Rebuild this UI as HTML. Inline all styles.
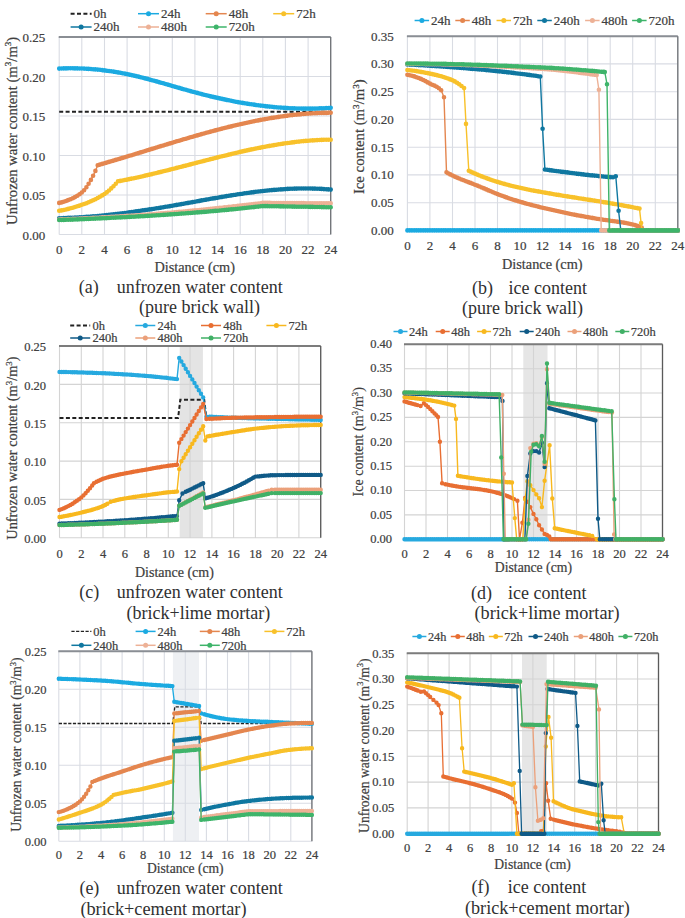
<!DOCTYPE html>
<html><head><meta charset="utf-8"><style>html,body{margin:0;padding:0;background:#fff;}svg{display:block;}</style></head>
<body><svg width="685" height="918" viewBox="0 0 685 918" font-family="Liberation Serif">
<rect width="685" height="918" fill="#fff"/>
<g id="panel-a">
<path d="M59.2 37.0V234.5M81.8 37.0V234.5M104.5 37.0V234.5M127.1 37.0V234.5M149.7 37.0V234.5M172.3 37.0V234.5M194.9 37.0V234.5M217.6 37.0V234.5M240.2 37.0V234.5M262.8 37.0V234.5M285.4 37.0V234.5M308.1 37.0V234.5M330.7 37.0V234.5M59.2 234.5H330.7M59.2 195.0H330.7M59.2 155.5H330.7M59.2 116.0H330.7M59.2 76.5H330.7M59.2 37.0H330.7" stroke="#D9DCE3" stroke-width="1.1" fill="none"/>
<path d="M58.7 37.0H330.7" stroke="#8A8E94" stroke-width="1.9" fill="none"/>
<path d="M330.7 37.0V234.5" stroke="#6E7175" stroke-width="1.3" fill="none"/>
<path d="M59.2 111.7 330.7 111.7" stroke="#222222" stroke-width="2.0" stroke-dasharray="4,2.4" fill="none"/>
<path d="M59.2 68.6 61.5 68.5 63.7 68.4 66.0 68.4 68.2 68.3 70.5 68.3 72.8 68.3 75.0 68.4 77.3 68.4 79.6 68.5 81.8 68.5 84.1 68.6 86.4 68.7 88.6 68.9 90.9 69.0 93.1 69.2 95.4 69.4 97.7 69.6 99.9 69.8 102.2 70.1 104.5 70.4 106.7 70.7 109.0 71.0 111.2 71.3 113.5 71.6 115.8 72.0 118.0 72.4 120.3 72.8 122.5 73.2 124.8 73.6 127.1 74.1 129.3 74.6 131.6 75.1 133.9 75.6 136.1 76.1 138.4 76.6 140.7 77.2 142.9 77.8 145.2 78.4 147.4 78.9 149.7 79.6 152.0 80.2 154.2 80.8 156.5 81.4 158.8 82.1 161.0 82.7 163.3 83.3 165.5 84.0 167.8 84.6 170.1 85.3 172.3 86.0 174.6 86.6 176.8 87.3 179.1 87.9 181.4 88.6 183.6 89.2 185.9 89.8 188.2 90.5 190.4 91.1 192.7 91.7 194.9 92.3 197.2 92.9 199.5 93.5 201.7 94.1 204.0 94.7 206.3 95.3 208.5 95.8 210.8 96.4 213.1 96.9 215.3 97.4 217.6 97.9 219.8 98.4 222.1 98.9 224.4 99.4 226.6 99.9 228.9 100.3 231.2 100.8 233.4 101.2 235.7 101.7 237.9 102.1 240.2 102.5 242.5 102.9 244.7 103.2 247.0 103.6 249.2 104.0 251.5 104.3 253.8 104.6 256.0 105.0 258.3 105.3 260.6 105.6 262.8 105.8 265.1 106.1 267.3 106.4 269.6 106.6 271.9 106.8 274.1 107.1 276.4 107.3 278.7 107.5 280.9 107.6 283.2 107.8 285.4 107.9 287.7 108.1 290.0 108.2 292.2 108.3 294.5 108.4 296.8 108.5 299.0 108.5 301.3 108.6 303.6 108.6 305.8 108.6 308.1 108.6 310.3 108.6 312.6 108.6 314.9 108.6 317.1 108.5 319.4 108.4 321.6 108.4 323.9 108.3 326.2 108.1 328.4 108.0 330.7 107.8" stroke="#1BAAE1" stroke-width="1.4" fill="none" stroke-linejoin="round"/>
<path d="M59.2 68.6h0M61.5 68.5h0M63.7 68.4h0M66.0 68.4h0M68.2 68.3h0M70.5 68.3h0M72.8 68.3h0M75.0 68.4h0M77.3 68.4h0M79.6 68.5h0M81.8 68.5h0M84.1 68.6h0M86.4 68.7h0M88.6 68.9h0M90.9 69.0h0M93.1 69.2h0M95.4 69.4h0M97.7 69.6h0M99.9 69.8h0M102.2 70.1h0M104.5 70.4h0M106.7 70.7h0M109.0 71.0h0M111.2 71.3h0M113.5 71.6h0M115.8 72.0h0M118.0 72.4h0M120.3 72.8h0M122.5 73.2h0M124.8 73.6h0M127.1 74.1h0M129.3 74.6h0M131.6 75.1h0M133.9 75.6h0M136.1 76.1h0M138.4 76.6h0M140.7 77.2h0M142.9 77.8h0M145.2 78.4h0M147.4 78.9h0M149.7 79.6h0M152.0 80.2h0M154.2 80.8h0M156.5 81.4h0M158.8 82.1h0M161.0 82.7h0M163.3 83.3h0M165.5 84.0h0M167.8 84.6h0M170.1 85.3h0M172.3 86.0h0M174.6 86.6h0M176.8 87.3h0M179.1 87.9h0M181.4 88.6h0M183.6 89.2h0M185.9 89.8h0M188.2 90.5h0M190.4 91.1h0M192.7 91.7h0M194.9 92.3h0M197.2 92.9h0M199.5 93.5h0M201.7 94.1h0M204.0 94.7h0M206.3 95.3h0M208.5 95.8h0M210.8 96.4h0M213.1 96.9h0M215.3 97.4h0M217.6 97.9h0M219.8 98.4h0M222.1 98.9h0M224.4 99.4h0M226.6 99.9h0M228.9 100.3h0M231.2 100.8h0M233.4 101.2h0M235.7 101.7h0M237.9 102.1h0M240.2 102.5h0M242.5 102.9h0M244.7 103.2h0M247.0 103.6h0M249.2 104.0h0M251.5 104.3h0M253.8 104.6h0M256.0 105.0h0M258.3 105.3h0M260.6 105.6h0M262.8 105.8h0M265.1 106.1h0M267.3 106.4h0M269.6 106.6h0M271.9 106.8h0M274.1 107.1h0M276.4 107.3h0M278.7 107.5h0M280.9 107.6h0M283.2 107.8h0M285.4 107.9h0M287.7 108.1h0M290.0 108.2h0M292.2 108.3h0M294.5 108.4h0M296.8 108.5h0M299.0 108.5h0M301.3 108.6h0M303.6 108.6h0M305.8 108.6h0M308.1 108.6h0M310.3 108.6h0M312.6 108.6h0M314.9 108.6h0M317.1 108.5h0M319.4 108.4h0M321.6 108.4h0M323.9 108.3h0M326.2 108.1h0M328.4 108.0h0M330.7 107.8h0" stroke="#1BAAE1" stroke-width="4.6" stroke-linecap="round" fill="none"/>
<path d="M59.2 202.9 61.5 202.4 63.7 201.7 66.0 201.0 68.2 200.1 70.5 199.2 72.8 198.2 75.0 197.1 77.3 195.8 79.6 194.2 81.8 192.5 84.1 190.2 86.4 187.3 88.6 183.8 90.9 179.9 93.1 175.8 95.4 170.9 97.7 165.2 99.9 164.6 102.2 163.9 104.5 163.3 106.7 162.6 109.0 161.9 111.2 161.3 113.5 160.6 115.8 159.9 118.0 159.3 120.3 158.6 122.5 157.9 124.8 157.2 127.1 156.5 129.3 155.8 131.6 155.2 133.9 154.5 136.1 153.8 138.4 153.1 140.7 152.4 142.9 151.7 145.2 151.0 147.4 150.3 149.7 149.6 152.0 148.9 154.2 148.2 156.5 147.5 158.8 146.8 161.0 146.1 163.3 145.5 165.5 144.8 167.8 144.1 170.1 143.4 172.3 142.7 174.6 142.0 176.8 141.3 179.1 140.7 181.4 140.0 183.6 139.3 185.9 138.7 188.2 138.0 190.4 137.3 192.7 136.7 194.9 136.0 197.2 135.4 199.5 134.7 201.7 134.1 204.0 133.5 206.3 132.8 208.5 132.2 210.8 131.6 213.1 131.0 215.3 130.4 217.6 129.8 219.8 129.2 222.1 128.6 224.4 128.0 226.6 127.5 228.9 126.9 231.2 126.4 233.4 125.8 235.7 125.3 237.9 124.7 240.2 124.2 242.5 123.7 244.7 123.2 247.0 122.7 249.2 122.2 251.5 121.7 253.8 121.3 256.0 120.8 258.3 120.4 260.6 119.9 262.8 119.5 265.1 119.1 267.3 118.7 269.6 118.3 271.9 117.9 274.1 117.6 276.4 117.2 278.7 116.9 280.9 116.5 283.2 116.2 285.4 115.9 287.7 115.6 290.0 115.3 292.2 115.1 294.5 114.8 296.8 114.6 299.0 114.4 301.3 114.1 303.6 114.0 305.8 113.8 308.1 113.6 310.3 113.5 312.6 113.3 314.9 113.2 317.1 113.1 319.4 113.0 321.6 112.9 323.9 112.9 326.2 112.9 328.4 112.8 330.7 112.8" stroke="#E4864F" stroke-width="1.4" fill="none" stroke-linejoin="round"/>
<path d="M59.2 202.9h0M61.5 202.4h0M63.7 201.7h0M66.0 201.0h0M68.2 200.1h0M70.5 199.2h0M72.8 198.2h0M75.0 197.1h0M77.3 195.8h0M79.6 194.2h0M81.8 192.5h0M84.1 190.2h0M86.4 187.3h0M88.6 183.8h0M90.9 179.9h0M93.1 175.8h0M95.4 170.9h0M97.7 165.2h0M99.9 164.6h0M102.2 163.9h0M104.5 163.3h0M106.7 162.6h0M109.0 161.9h0M111.2 161.3h0M113.5 160.6h0M115.8 159.9h0M118.0 159.3h0M120.3 158.6h0M122.5 157.9h0M124.8 157.2h0M127.1 156.5h0M129.3 155.8h0M131.6 155.2h0M133.9 154.5h0M136.1 153.8h0M138.4 153.1h0M140.7 152.4h0M142.9 151.7h0M145.2 151.0h0M147.4 150.3h0M149.7 149.6h0M152.0 148.9h0M154.2 148.2h0M156.5 147.5h0M158.8 146.8h0M161.0 146.1h0M163.3 145.5h0M165.5 144.8h0M167.8 144.1h0M170.1 143.4h0M172.3 142.7h0M174.6 142.0h0M176.8 141.3h0M179.1 140.7h0M181.4 140.0h0M183.6 139.3h0M185.9 138.7h0M188.2 138.0h0M190.4 137.3h0M192.7 136.7h0M194.9 136.0h0M197.2 135.4h0M199.5 134.7h0M201.7 134.1h0M204.0 133.5h0M206.3 132.8h0M208.5 132.2h0M210.8 131.6h0M213.1 131.0h0M215.3 130.4h0M217.6 129.8h0M219.8 129.2h0M222.1 128.6h0M224.4 128.0h0M226.6 127.5h0M228.9 126.9h0M231.2 126.4h0M233.4 125.8h0M235.7 125.3h0M237.9 124.7h0M240.2 124.2h0M242.5 123.7h0M244.7 123.2h0M247.0 122.7h0M249.2 122.2h0M251.5 121.7h0M253.8 121.3h0M256.0 120.8h0M258.3 120.4h0M260.6 119.9h0M262.8 119.5h0M265.1 119.1h0M267.3 118.7h0M269.6 118.3h0M271.9 117.9h0M274.1 117.6h0M276.4 117.2h0M278.7 116.9h0M280.9 116.5h0M283.2 116.2h0M285.4 115.9h0M287.7 115.6h0M290.0 115.3h0M292.2 115.1h0M294.5 114.8h0M296.8 114.6h0M299.0 114.4h0M301.3 114.1h0M303.6 114.0h0M305.8 113.8h0M308.1 113.6h0M310.3 113.5h0M312.6 113.3h0M314.9 113.2h0M317.1 113.1h0M319.4 113.0h0M321.6 112.9h0M323.9 112.9h0M326.2 112.9h0M328.4 112.8h0M330.7 112.8h0" stroke="#E4864F" stroke-width="4.6" stroke-linecap="round" fill="none"/>
<path d="M59.2 210.8 61.5 210.4 63.7 210.0 66.0 209.5 68.2 208.9 70.5 208.3 72.8 207.7 75.0 207.0 77.3 206.3 79.6 205.6 81.8 204.8 84.1 204.0 86.4 203.2 88.6 202.2 90.9 201.3 93.1 200.3 95.4 199.2 97.7 198.0 99.9 196.7 102.2 195.4 104.5 194.0 106.7 192.4 109.0 190.5 111.2 188.4 113.5 186.2 115.8 183.8 118.0 181.3 120.3 180.9 122.5 180.5 124.8 180.0 127.1 179.6 129.3 179.1 131.6 178.6 133.9 178.2 136.1 177.7 138.4 177.2 140.7 176.7 142.9 176.2 145.2 175.6 147.4 175.1 149.7 174.6 152.0 174.1 154.2 173.5 156.5 173.0 158.8 172.4 161.0 171.9 163.3 171.3 165.5 170.8 167.8 170.2 170.1 169.6 172.3 169.0 174.6 168.5 176.8 167.9 179.1 167.3 181.4 166.7 183.6 166.1 185.9 165.6 188.2 165.0 190.4 164.4 192.7 163.8 194.9 163.2 197.2 162.6 199.5 162.0 201.7 161.5 204.0 160.9 206.3 160.3 208.5 159.7 210.8 159.1 213.1 158.6 215.3 158.0 217.6 157.4 219.8 156.8 222.1 156.3 224.4 155.7 226.6 155.2 228.9 154.6 231.2 154.1 233.4 153.5 235.7 153.0 237.9 152.5 240.2 151.9 242.5 151.4 244.7 150.9 247.0 150.4 249.2 149.9 251.5 149.4 253.8 149.0 256.0 148.5 258.3 148.0 260.6 147.6 262.8 147.1 265.1 146.7 267.3 146.3 269.6 145.9 271.9 145.5 274.1 145.1 276.4 144.7 278.7 144.3 280.9 144.0 283.2 143.6 285.4 143.3 287.7 143.0 290.0 142.7 292.2 142.4 294.5 142.1 296.8 141.8 299.0 141.6 301.3 141.3 303.6 141.1 305.8 140.9 308.1 140.7 310.3 140.5 312.6 140.4 314.9 140.2 317.1 140.1 319.4 140.0 321.6 139.9 323.9 139.8 326.2 139.7 328.4 139.7 330.7 139.7" stroke="#F8C12A" stroke-width="1.4" fill="none" stroke-linejoin="round"/>
<path d="M59.2 210.8h0M61.5 210.4h0M63.7 210.0h0M66.0 209.5h0M68.2 208.9h0M70.5 208.3h0M72.8 207.7h0M75.0 207.0h0M77.3 206.3h0M79.6 205.6h0M81.8 204.8h0M84.1 204.0h0M86.4 203.2h0M88.6 202.2h0M90.9 201.3h0M93.1 200.3h0M95.4 199.2h0M97.7 198.0h0M99.9 196.7h0M102.2 195.4h0M104.5 194.0h0M106.7 192.4h0M109.0 190.5h0M111.2 188.4h0M113.5 186.2h0M115.8 183.8h0M118.0 181.3h0M120.3 180.9h0M122.5 180.5h0M124.8 180.0h0M127.1 179.6h0M129.3 179.1h0M131.6 178.6h0M133.9 178.2h0M136.1 177.7h0M138.4 177.2h0M140.7 176.7h0M142.9 176.2h0M145.2 175.6h0M147.4 175.1h0M149.7 174.6h0M152.0 174.1h0M154.2 173.5h0M156.5 173.0h0M158.8 172.4h0M161.0 171.9h0M163.3 171.3h0M165.5 170.8h0M167.8 170.2h0M170.1 169.6h0M172.3 169.0h0M174.6 168.5h0M176.8 167.9h0M179.1 167.3h0M181.4 166.7h0M183.6 166.1h0M185.9 165.6h0M188.2 165.0h0M190.4 164.4h0M192.7 163.8h0M194.9 163.2h0M197.2 162.6h0M199.5 162.0h0M201.7 161.5h0M204.0 160.9h0M206.3 160.3h0M208.5 159.7h0M210.8 159.1h0M213.1 158.6h0M215.3 158.0h0M217.6 157.4h0M219.8 156.8h0M222.1 156.3h0M224.4 155.7h0M226.6 155.2h0M228.9 154.6h0M231.2 154.1h0M233.4 153.5h0M235.7 153.0h0M237.9 152.5h0M240.2 151.9h0M242.5 151.4h0M244.7 150.9h0M247.0 150.4h0M249.2 149.9h0M251.5 149.4h0M253.8 149.0h0M256.0 148.5h0M258.3 148.0h0M260.6 147.6h0M262.8 147.1h0M265.1 146.7h0M267.3 146.3h0M269.6 145.9h0M271.9 145.5h0M274.1 145.1h0M276.4 144.7h0M278.7 144.3h0M280.9 144.0h0M283.2 143.6h0M285.4 143.3h0M287.7 143.0h0M290.0 142.7h0M292.2 142.4h0M294.5 142.1h0M296.8 141.8h0M299.0 141.6h0M301.3 141.3h0M303.6 141.1h0M305.8 140.9h0M308.1 140.7h0M310.3 140.5h0M312.6 140.4h0M314.9 140.2h0M317.1 140.1h0M319.4 140.0h0M321.6 139.9h0M323.9 139.8h0M326.2 139.7h0M328.4 139.7h0M330.7 139.7h0" stroke="#F8C12A" stroke-width="4.6" stroke-linecap="round" fill="none"/>
<path d="M59.2 218.2 61.5 218.2 63.7 218.1 66.0 218.0 68.2 217.9 70.5 217.9 72.8 217.7 75.0 217.6 77.3 217.5 79.6 217.4 81.8 217.2 84.1 217.1 86.4 216.9 88.6 216.8 90.9 216.6 93.1 216.4 95.4 216.2 97.7 216.0 99.9 215.8 102.2 215.6 104.5 215.3 106.7 215.1 109.0 214.9 111.2 214.6 113.5 214.4 115.8 214.1 118.0 213.8 120.3 213.6 122.5 213.3 124.8 213.0 127.1 212.7 129.3 212.4 131.6 212.1 133.9 211.8 136.1 211.4 138.4 211.1 140.7 210.8 142.9 210.4 145.2 210.1 147.4 209.8 149.7 209.4 152.0 209.1 154.2 208.7 156.5 208.3 158.8 208.0 161.0 207.6 163.3 207.2 165.5 206.8 167.8 206.5 170.1 206.1 172.3 205.7 174.6 205.3 176.8 204.9 179.1 204.5 181.4 204.1 183.6 203.7 185.9 203.3 188.2 202.9 190.4 202.5 192.7 202.1 194.9 201.7 197.2 201.3 199.5 200.9 201.7 200.4 204.0 200.0 206.3 199.6 208.5 199.2 210.8 198.8 213.1 198.4 215.3 198.1 217.6 197.7 219.8 197.3 222.1 196.9 224.4 196.5 226.6 196.1 228.9 195.8 231.2 195.4 233.4 195.0 235.7 194.7 237.9 194.3 240.2 194.0 242.5 193.7 244.7 193.3 247.0 193.0 249.2 192.7 251.5 192.4 253.8 192.1 256.0 191.8 258.3 191.5 260.6 191.3 262.8 191.0 265.1 190.8 267.3 190.5 269.6 190.3 271.9 190.1 274.1 189.9 276.4 189.7 278.7 189.5 280.9 189.4 283.2 189.2 285.4 189.1 287.7 188.9 290.0 188.8 292.2 188.7 294.5 188.6 296.8 188.6 299.0 188.5 301.3 188.5 303.6 188.5 305.8 188.5 308.1 188.5 310.3 188.5 312.6 188.6 314.9 188.6 317.1 188.7 319.4 188.8 321.6 188.9 323.9 189.1 326.2 189.2 328.4 189.4 330.7 189.6" stroke="#0F77A0" stroke-width="1.4" fill="none" stroke-linejoin="round"/>
<path d="M59.2 218.2h0M61.5 218.2h0M63.7 218.1h0M66.0 218.0h0M68.2 217.9h0M70.5 217.9h0M72.8 217.7h0M75.0 217.6h0M77.3 217.5h0M79.6 217.4h0M81.8 217.2h0M84.1 217.1h0M86.4 216.9h0M88.6 216.8h0M90.9 216.6h0M93.1 216.4h0M95.4 216.2h0M97.7 216.0h0M99.9 215.8h0M102.2 215.6h0M104.5 215.3h0M106.7 215.1h0M109.0 214.9h0M111.2 214.6h0M113.5 214.4h0M115.8 214.1h0M118.0 213.8h0M120.3 213.6h0M122.5 213.3h0M124.8 213.0h0M127.1 212.7h0M129.3 212.4h0M131.6 212.1h0M133.9 211.8h0M136.1 211.4h0M138.4 211.1h0M140.7 210.8h0M142.9 210.4h0M145.2 210.1h0M147.4 209.8h0M149.7 209.4h0M152.0 209.1h0M154.2 208.7h0M156.5 208.3h0M158.8 208.0h0M161.0 207.6h0M163.3 207.2h0M165.5 206.8h0M167.8 206.5h0M170.1 206.1h0M172.3 205.7h0M174.6 205.3h0M176.8 204.9h0M179.1 204.5h0M181.4 204.1h0M183.6 203.7h0M185.9 203.3h0M188.2 202.9h0M190.4 202.5h0M192.7 202.1h0M194.9 201.7h0M197.2 201.3h0M199.5 200.9h0M201.7 200.4h0M204.0 200.0h0M206.3 199.6h0M208.5 199.2h0M210.8 198.8h0M213.1 198.4h0M215.3 198.1h0M217.6 197.7h0M219.8 197.3h0M222.1 196.9h0M224.4 196.5h0M226.6 196.1h0M228.9 195.8h0M231.2 195.4h0M233.4 195.0h0M235.7 194.7h0M237.9 194.3h0M240.2 194.0h0M242.5 193.7h0M244.7 193.3h0M247.0 193.0h0M249.2 192.7h0M251.5 192.4h0M253.8 192.1h0M256.0 191.8h0M258.3 191.5h0M260.6 191.3h0M262.8 191.0h0M265.1 190.8h0M267.3 190.5h0M269.6 190.3h0M271.9 190.1h0M274.1 189.9h0M276.4 189.7h0M278.7 189.5h0M280.9 189.4h0M283.2 189.2h0M285.4 189.1h0M287.7 188.9h0M290.0 188.8h0M292.2 188.7h0M294.5 188.6h0M296.8 188.6h0M299.0 188.5h0M301.3 188.5h0M303.6 188.5h0M305.8 188.5h0M308.1 188.5h0M310.3 188.5h0M312.6 188.6h0M314.9 188.6h0M317.1 188.7h0M319.4 188.8h0M321.6 188.9h0M323.9 189.1h0M326.2 189.2h0M328.4 189.4h0M330.7 189.6h0" stroke="#0F77A0" stroke-width="4.6" stroke-linecap="round" fill="none"/>
<path d="M59.2 219.5 61.5 219.4 63.7 219.3 66.0 219.2 68.2 219.1 70.5 219.0 72.8 218.9 75.0 218.8 77.3 218.7 79.6 218.6 81.8 218.5 84.1 218.4 86.4 218.3 88.6 218.2 90.9 218.1 93.1 217.9 95.4 217.8 97.7 217.7 99.9 217.6 102.2 217.4 104.5 217.3 106.7 217.2 109.0 217.0 111.2 216.9 113.5 216.8 115.8 216.6 118.0 216.5 120.3 216.4 122.5 216.2 124.8 216.1 127.1 215.9 129.3 215.8 131.6 215.6 133.9 215.5 136.1 215.3 138.4 215.2 140.7 215.0 142.9 214.8 145.2 214.7 147.4 214.5 149.7 214.3 152.0 214.2 154.2 214.0 156.5 213.8 158.8 213.6 161.0 213.4 163.3 213.2 165.5 213.0 167.8 212.9 170.1 212.7 172.3 212.5 174.6 212.3 176.8 212.1 179.1 211.9 181.4 211.7 183.6 211.5 185.9 211.2 188.2 211.0 190.4 210.8 192.7 210.6 194.9 210.4 197.2 210.2 199.5 210.0 201.7 209.8 204.0 209.5 206.3 209.3 208.5 209.1 210.8 208.9 213.1 208.6 215.3 208.4 217.6 208.1 219.8 207.9 222.1 207.7 224.4 207.4 226.6 207.2 228.9 206.9 231.2 206.7 233.4 206.4 235.7 206.2 237.9 205.9 240.2 205.6 242.5 205.4 244.7 205.1 247.0 204.8 249.2 204.6 251.5 204.3 253.8 204.0 256.0 203.7 258.3 203.5 260.6 203.2 262.8 202.9 265.1 202.9 267.3 202.9 269.6 202.9 271.9 203.0 274.1 203.0 276.4 203.0 278.7 203.0 280.9 203.0 283.2 203.0 285.4 203.0 287.7 203.0 290.0 203.1 292.2 203.1 294.5 203.1 296.8 203.1 299.0 203.1 301.3 203.1 303.6 203.1 305.8 203.2 308.1 203.2 310.3 203.2 312.6 203.2 314.9 203.2 317.1 203.2 319.4 203.2 321.6 203.2 323.9 203.3 326.2 203.3 328.4 203.3 330.7 203.3" stroke="#EDB196" stroke-width="1.4" fill="none" stroke-linejoin="round"/>
<path d="M59.2 219.5h0M61.5 219.4h0M63.7 219.3h0M66.0 219.2h0M68.2 219.1h0M70.5 219.0h0M72.8 218.9h0M75.0 218.8h0M77.3 218.7h0M79.6 218.6h0M81.8 218.5h0M84.1 218.4h0M86.4 218.3h0M88.6 218.2h0M90.9 218.1h0M93.1 217.9h0M95.4 217.8h0M97.7 217.7h0M99.9 217.6h0M102.2 217.4h0M104.5 217.3h0M106.7 217.2h0M109.0 217.0h0M111.2 216.9h0M113.5 216.8h0M115.8 216.6h0M118.0 216.5h0M120.3 216.4h0M122.5 216.2h0M124.8 216.1h0M127.1 215.9h0M129.3 215.8h0M131.6 215.6h0M133.9 215.5h0M136.1 215.3h0M138.4 215.2h0M140.7 215.0h0M142.9 214.8h0M145.2 214.7h0M147.4 214.5h0M149.7 214.3h0M152.0 214.2h0M154.2 214.0h0M156.5 213.8h0M158.8 213.6h0M161.0 213.4h0M163.3 213.2h0M165.5 213.0h0M167.8 212.9h0M170.1 212.7h0M172.3 212.5h0M174.6 212.3h0M176.8 212.1h0M179.1 211.9h0M181.4 211.7h0M183.6 211.5h0M185.9 211.2h0M188.2 211.0h0M190.4 210.8h0M192.7 210.6h0M194.9 210.4h0M197.2 210.2h0M199.5 210.0h0M201.7 209.8h0M204.0 209.5h0M206.3 209.3h0M208.5 209.1h0M210.8 208.9h0M213.1 208.6h0M215.3 208.4h0M217.6 208.1h0M219.8 207.9h0M222.1 207.7h0M224.4 207.4h0M226.6 207.2h0M228.9 206.9h0M231.2 206.7h0M233.4 206.4h0M235.7 206.2h0M237.9 205.9h0M240.2 205.6h0M242.5 205.4h0M244.7 205.1h0M247.0 204.8h0M249.2 204.6h0M251.5 204.3h0M253.8 204.0h0M256.0 203.7h0M258.3 203.5h0M260.6 203.2h0M262.8 202.9h0M265.1 202.9h0M267.3 202.9h0M269.6 202.9h0M271.9 203.0h0M274.1 203.0h0M276.4 203.0h0M278.7 203.0h0M280.9 203.0h0M283.2 203.0h0M285.4 203.0h0M287.7 203.0h0M290.0 203.1h0M292.2 203.1h0M294.5 203.1h0M296.8 203.1h0M299.0 203.1h0M301.3 203.1h0M303.6 203.1h0M305.8 203.2h0M308.1 203.2h0M310.3 203.2h0M312.6 203.2h0M314.9 203.2h0M317.1 203.2h0M319.4 203.2h0M321.6 203.2h0M323.9 203.3h0M326.2 203.3h0M328.4 203.3h0M330.7 203.3h0" stroke="#EDB196" stroke-width="4.6" stroke-linecap="round" fill="none"/>
<path d="M59.2 220.0 61.5 220.0 63.7 219.9 66.0 219.8 68.2 219.7 70.5 219.6 72.8 219.6 75.0 219.5 77.3 219.4 79.6 219.3 81.8 219.2 84.1 219.1 86.4 219.0 88.6 218.9 90.9 218.8 93.1 218.7 95.4 218.6 97.7 218.5 99.9 218.4 102.2 218.3 104.5 218.2 106.7 218.1 109.0 218.0 111.2 217.8 113.5 217.7 115.8 217.6 118.0 217.5 120.3 217.4 122.5 217.3 124.8 217.2 127.1 217.0 129.3 216.9 131.6 216.8 133.9 216.7 136.1 216.5 138.4 216.4 140.7 216.3 142.9 216.2 145.2 216.0 147.4 215.9 149.7 215.8 152.0 215.6 154.2 215.5 156.5 215.3 158.8 215.2 161.0 215.0 163.3 214.9 165.5 214.7 167.8 214.6 170.1 214.4 172.3 214.3 174.6 214.1 176.8 214.0 179.1 213.8 181.4 213.6 183.6 213.5 185.9 213.3 188.2 213.1 190.4 213.0 192.7 212.8 194.9 212.6 197.2 212.4 199.5 212.3 201.7 212.1 204.0 211.9 206.3 211.7 208.5 211.5 210.8 211.3 213.1 211.1 215.3 210.9 217.6 210.7 219.8 210.5 222.1 210.3 224.4 210.1 226.6 209.9 228.9 209.6 231.2 209.4 233.4 209.2 235.7 209.0 237.9 208.7 240.2 208.5 242.5 208.3 244.7 208.0 247.0 207.8 249.2 207.5 251.5 207.3 253.8 207.1 256.0 206.8 258.3 206.6 260.6 206.3 262.8 206.1 265.1 206.1 267.3 206.1 269.6 206.2 271.9 206.2 274.1 206.3 276.4 206.3 278.7 206.3 280.9 206.4 283.2 206.4 285.4 206.5 287.7 206.5 290.0 206.5 292.2 206.6 294.5 206.6 296.8 206.7 299.0 206.7 301.3 206.7 303.6 206.8 305.8 206.8 308.1 206.8 310.3 206.9 312.6 206.9 314.9 207.0 317.1 207.0 319.4 207.0 321.6 207.1 323.9 207.1 326.2 207.2 328.4 207.2 330.7 207.2" stroke="#3EB46A" stroke-width="1.4" fill="none" stroke-linejoin="round"/>
<path d="M59.2 220.0h0M61.5 220.0h0M63.7 219.9h0M66.0 219.8h0M68.2 219.7h0M70.5 219.6h0M72.8 219.6h0M75.0 219.5h0M77.3 219.4h0M79.6 219.3h0M81.8 219.2h0M84.1 219.1h0M86.4 219.0h0M88.6 218.9h0M90.9 218.8h0M93.1 218.7h0M95.4 218.6h0M97.7 218.5h0M99.9 218.4h0M102.2 218.3h0M104.5 218.2h0M106.7 218.1h0M109.0 218.0h0M111.2 217.8h0M113.5 217.7h0M115.8 217.6h0M118.0 217.5h0M120.3 217.4h0M122.5 217.3h0M124.8 217.2h0M127.1 217.0h0M129.3 216.9h0M131.6 216.8h0M133.9 216.7h0M136.1 216.5h0M138.4 216.4h0M140.7 216.3h0M142.9 216.2h0M145.2 216.0h0M147.4 215.9h0M149.7 215.8h0M152.0 215.6h0M154.2 215.5h0M156.5 215.3h0M158.8 215.2h0M161.0 215.0h0M163.3 214.9h0M165.5 214.7h0M167.8 214.6h0M170.1 214.4h0M172.3 214.3h0M174.6 214.1h0M176.8 214.0h0M179.1 213.8h0M181.4 213.6h0M183.6 213.5h0M185.9 213.3h0M188.2 213.1h0M190.4 213.0h0M192.7 212.8h0M194.9 212.6h0M197.2 212.4h0M199.5 212.3h0M201.7 212.1h0M204.0 211.9h0M206.3 211.7h0M208.5 211.5h0M210.8 211.3h0M213.1 211.1h0M215.3 210.9h0M217.6 210.7h0M219.8 210.5h0M222.1 210.3h0M224.4 210.1h0M226.6 209.9h0M228.9 209.6h0M231.2 209.4h0M233.4 209.2h0M235.7 209.0h0M237.9 208.7h0M240.2 208.5h0M242.5 208.3h0M244.7 208.0h0M247.0 207.8h0M249.2 207.5h0M251.5 207.3h0M253.8 207.1h0M256.0 206.8h0M258.3 206.6h0M260.6 206.3h0M262.8 206.1h0M265.1 206.1h0M267.3 206.1h0M269.6 206.2h0M271.9 206.2h0M274.1 206.3h0M276.4 206.3h0M278.7 206.3h0M280.9 206.4h0M283.2 206.4h0M285.4 206.5h0M287.7 206.5h0M290.0 206.5h0M292.2 206.6h0M294.5 206.6h0M296.8 206.7h0M299.0 206.7h0M301.3 206.7h0M303.6 206.8h0M305.8 206.8h0M308.1 206.8h0M310.3 206.9h0M312.6 206.9h0M314.9 207.0h0M317.1 207.0h0M319.4 207.0h0M321.6 207.1h0M323.9 207.1h0M326.2 207.2h0M328.4 207.2h0M330.7 207.2h0" stroke="#3EB46A" stroke-width="4.6" stroke-linecap="round" fill="none"/>
<text x="45.2" y="239.5" font-size="13" text-anchor="end" fill="#404040" stroke="#404040" stroke-width="0.22">0.00</text>
<text x="45.2" y="200.0" font-size="13" text-anchor="end" fill="#404040" stroke="#404040" stroke-width="0.22">0.05</text>
<text x="45.2" y="160.5" font-size="13" text-anchor="end" fill="#404040" stroke="#404040" stroke-width="0.22">0.10</text>
<text x="45.2" y="121.0" font-size="13" text-anchor="end" fill="#404040" stroke="#404040" stroke-width="0.22">0.15</text>
<text x="45.2" y="81.5" font-size="13" text-anchor="end" fill="#404040" stroke="#404040" stroke-width="0.22">0.20</text>
<text x="45.2" y="42.0" font-size="13" text-anchor="end" fill="#404040" stroke="#404040" stroke-width="0.22">0.25</text>
<text x="59.2" y="254.4" font-size="13" text-anchor="middle" fill="#404040" stroke="#404040" stroke-width="0.22">0</text>
<text x="81.8" y="254.4" font-size="13" text-anchor="middle" fill="#404040" stroke="#404040" stroke-width="0.22">2</text>
<text x="104.5" y="254.4" font-size="13" text-anchor="middle" fill="#404040" stroke="#404040" stroke-width="0.22">4</text>
<text x="127.1" y="254.4" font-size="13" text-anchor="middle" fill="#404040" stroke="#404040" stroke-width="0.22">6</text>
<text x="149.7" y="254.4" font-size="13" text-anchor="middle" fill="#404040" stroke="#404040" stroke-width="0.22">8</text>
<text x="172.3" y="254.4" font-size="13" text-anchor="middle" fill="#404040" stroke="#404040" stroke-width="0.22">10</text>
<text x="194.9" y="254.4" font-size="13" text-anchor="middle" fill="#404040" stroke="#404040" stroke-width="0.22">12</text>
<text x="217.6" y="254.4" font-size="13" text-anchor="middle" fill="#404040" stroke="#404040" stroke-width="0.22">14</text>
<text x="240.2" y="254.4" font-size="13" text-anchor="middle" fill="#404040" stroke="#404040" stroke-width="0.22">16</text>
<text x="262.8" y="254.4" font-size="13" text-anchor="middle" fill="#404040" stroke="#404040" stroke-width="0.22">18</text>
<text x="285.4" y="254.4" font-size="13" text-anchor="middle" fill="#404040" stroke="#404040" stroke-width="0.22">20</text>
<text x="308.1" y="254.4" font-size="13" text-anchor="middle" fill="#404040" stroke="#404040" stroke-width="0.22">22</text>
<text x="330.7" y="254.4" font-size="13" text-anchor="middle" fill="#404040" stroke="#404040" stroke-width="0.22">24</text>
<text x="194.7" y="271.6" font-size="14.3" text-anchor="middle" fill="#404040" stroke="#404040" stroke-width="0.22">Distance (cm)</text>
<text transform="translate(17.0,130.8) rotate(-90) scale(1.0,1)" x="0" y="0" font-size="14.7" text-anchor="middle" fill="#404040" stroke="#404040" stroke-width="0.22">Unfrozen water content (m<tspan font-size="9.1" dy="-5.6">3</tspan><tspan dy="5.6">/m</tspan><tspan font-size="9.1" dy="-5.6">3</tspan><tspan dy="5.6">)</tspan></text>
<text x="78.7" y="293.0" font-size="18" fill="#303030">(a)</text>
<text x="116.8" y="293.0" font-size="18" fill="#303030">unfrozen water content</text>
<text x="139.0" y="313.4" font-size="18" fill="#303030">(pure brick wall)</text>
<path d="M70.6 13.7H91.6" stroke="#222222" stroke-width="2.0" stroke-dasharray="4,2.4"/>
<text x="93.6" y="18.1" font-size="13" fill="#404040" stroke="#404040" stroke-width="0.22">0h</text>
<path d="M138.0 13.7H159.0" stroke="#1BAAE1" stroke-width="1.5"/>
<circle cx="148.5" cy="13.7" r="2.5" fill="#1BAAE1"/>
<text x="161.0" y="18.1" font-size="13" fill="#404040" stroke="#404040" stroke-width="0.22">24h</text>
<path d="M205.7 13.7H226.7" stroke="#E4864F" stroke-width="1.5"/>
<circle cx="216.2" cy="13.7" r="2.5" fill="#E4864F"/>
<text x="228.7" y="18.1" font-size="13" fill="#404040" stroke="#404040" stroke-width="0.22">48h</text>
<path d="M273.2 13.7H294.2" stroke="#F8C12A" stroke-width="1.5"/>
<circle cx="283.7" cy="13.7" r="2.5" fill="#F8C12A"/>
<text x="296.2" y="18.1" font-size="13" fill="#404040" stroke="#404040" stroke-width="0.22">72h</text>
<path d="M70.6 27.0H91.6" stroke="#0F77A0" stroke-width="1.5"/>
<circle cx="81.1" cy="27.0" r="2.5" fill="#0F77A0"/>
<text x="93.6" y="31.4" font-size="13" fill="#404040" stroke="#404040" stroke-width="0.22">240h</text>
<path d="M138.0 27.0H159.0" stroke="#EDB196" stroke-width="1.5"/>
<circle cx="148.5" cy="27.0" r="2.5" fill="#EDB196"/>
<text x="161.0" y="31.4" font-size="13" fill="#404040" stroke="#404040" stroke-width="0.22">480h</text>
<path d="M205.7 27.0H226.7" stroke="#3EB46A" stroke-width="1.5"/>
<circle cx="216.2" cy="27.0" r="2.5" fill="#3EB46A"/>
<text x="228.7" y="31.4" font-size="13" fill="#404040" stroke="#404040" stroke-width="0.22">720h</text>
</g>
<g id="panel-b">
<path d="M407.4 36.2V230.4M429.9 36.2V230.4M452.5 36.2V230.4M475.0 36.2V230.4M497.5 36.2V230.4M520.1 36.2V230.4M542.6 36.2V230.4M565.1 36.2V230.4M587.7 36.2V230.4M610.2 36.2V230.4M632.7 36.2V230.4M655.3 36.2V230.4M677.8 36.2V230.4M407.4 230.4H677.8M407.4 202.7H677.8M407.4 174.9H677.8M407.4 147.2H677.8M407.4 119.4H677.8M407.4 91.7H677.8M407.4 63.9H677.8M407.4 36.2H677.8" stroke="#D9DCE3" stroke-width="1.1" fill="none"/>
<path d="M406.9 36.2H677.8" stroke="#8A8E94" stroke-width="1.9" fill="none"/>
<path d="M677.8 36.2V230.4" stroke="#6E7175" stroke-width="1.3" fill="none"/>
<path d="M407.4 230.4 409.7 230.4 411.9 230.4 414.2 230.4 416.4 230.4 418.7 230.4 420.9 230.4 423.2 230.4 425.4 230.4 427.7 230.4 429.9 230.4 432.2 230.4 434.4 230.4 436.7 230.4 438.9 230.4 441.2 230.4 443.5 230.4 445.7 230.4 448.0 230.4 450.2 230.4 452.5 230.4 454.7 230.4 457.0 230.4 459.2 230.4 461.5 230.4 463.7 230.4 466.0 230.4 468.2 230.4 470.5 230.4 472.7 230.4 475.0 230.4 477.3 230.4 479.5 230.4 481.8 230.4 484.0 230.4 486.3 230.4 488.5 230.4 490.8 230.4 493.0 230.4 495.3 230.4 497.5 230.4 499.8 230.4 502.0 230.4 504.3 230.4 506.5 230.4 508.8 230.4 511.1 230.4 513.3 230.4 515.6 230.4 517.8 230.4 520.1 230.4 522.3 230.4 524.6 230.4 526.8 230.4 529.1 230.4 531.3 230.4 533.6 230.4 535.8 230.4 538.1 230.4 540.3 230.4 542.6 230.4 544.9 230.4 547.1 230.4 549.4 230.4 551.6 230.4 553.9 230.4 556.1 230.4 558.4 230.4 560.6 230.4 562.9 230.4 565.1 230.4 567.4 230.4 569.6 230.4 571.9 230.4 574.1 230.4 576.4 230.4 578.7 230.4 580.9 230.4 583.2 230.4 585.4 230.4 587.7 230.4 589.9 230.4 592.2 230.4 594.4 230.4 596.7 230.4 598.9 230.4 601.2 230.4 603.4 230.4 605.7 230.4 607.9 230.4 610.2 230.4 612.5 230.4 614.7 230.4 617.0 230.4 619.2 230.4 621.5 230.4 623.7 230.4 626.0 230.4 628.2 230.4 630.5 230.4 632.7 230.4 635.0 230.4 637.2 230.4 639.5 230.4 641.7 230.4 644.0 230.4 646.3 230.4 648.5 230.4 650.8 230.4 653.0 230.4 655.3 230.4 657.5 230.4 659.8 230.4 662.0 230.4 664.3 230.4 666.5 230.4 668.8 230.4 671.0 230.4 673.3 230.4 675.5 230.4 677.8 230.4" stroke="#1BAAE1" stroke-width="1.4" fill="none" stroke-linejoin="round"/>
<path d="M407.4 230.4h0M409.7 230.4h0M411.9 230.4h0M414.2 230.4h0M416.4 230.4h0M418.7 230.4h0M420.9 230.4h0M423.2 230.4h0M425.4 230.4h0M427.7 230.4h0M429.9 230.4h0M432.2 230.4h0M434.4 230.4h0M436.7 230.4h0M438.9 230.4h0M441.2 230.4h0M443.5 230.4h0M445.7 230.4h0M448.0 230.4h0M450.2 230.4h0M452.5 230.4h0M454.7 230.4h0M457.0 230.4h0M459.2 230.4h0M461.5 230.4h0M463.7 230.4h0M466.0 230.4h0M468.2 230.4h0M470.5 230.4h0M472.7 230.4h0M475.0 230.4h0M477.3 230.4h0M479.5 230.4h0M481.8 230.4h0M484.0 230.4h0M486.3 230.4h0M488.5 230.4h0M490.8 230.4h0M493.0 230.4h0M495.3 230.4h0M497.5 230.4h0M499.8 230.4h0M502.0 230.4h0M504.3 230.4h0M506.5 230.4h0M508.8 230.4h0M511.1 230.4h0M513.3 230.4h0M515.6 230.4h0M517.8 230.4h0M520.1 230.4h0M522.3 230.4h0M524.6 230.4h0M526.8 230.4h0M529.1 230.4h0M531.3 230.4h0M533.6 230.4h0M535.8 230.4h0M538.1 230.4h0M540.3 230.4h0M542.6 230.4h0M544.9 230.4h0M547.1 230.4h0M549.4 230.4h0M551.6 230.4h0M553.9 230.4h0M556.1 230.4h0M558.4 230.4h0M560.6 230.4h0M562.9 230.4h0M565.1 230.4h0M567.4 230.4h0M569.6 230.4h0M571.9 230.4h0M574.1 230.4h0M576.4 230.4h0M578.7 230.4h0M580.9 230.4h0M583.2 230.4h0M585.4 230.4h0M587.7 230.4h0M589.9 230.4h0M592.2 230.4h0M594.4 230.4h0M596.7 230.4h0M598.9 230.4h0M601.2 230.4h0M603.4 230.4h0M605.7 230.4h0M607.9 230.4h0M610.2 230.4h0M612.5 230.4h0M614.7 230.4h0M617.0 230.4h0M619.2 230.4h0M621.5 230.4h0M623.7 230.4h0M626.0 230.4h0M628.2 230.4h0M630.5 230.4h0M632.7 230.4h0M635.0 230.4h0M637.2 230.4h0M639.5 230.4h0M641.7 230.4h0M644.0 230.4h0M646.3 230.4h0M648.5 230.4h0M650.8 230.4h0M653.0 230.4h0M655.3 230.4h0M657.5 230.4h0M659.8 230.4h0M662.0 230.4h0M664.3 230.4h0M666.5 230.4h0M668.8 230.4h0M671.0 230.4h0M673.3 230.4h0M675.5 230.4h0M677.8 230.4h0" stroke="#1BAAE1" stroke-width="4.6" stroke-linecap="round" fill="none"/>
<path d="M407.4 74.7 409.7 75.2 411.9 75.8 414.2 76.4 416.4 77.2 418.7 78.0 420.9 78.9 423.2 80.0 425.4 81.1 427.7 82.4 429.9 83.6 432.2 84.7 434.4 85.6 436.7 86.7 438.9 88.2 441.2 90.3 444.0 97.2 446.5 172.3 448.0 173.2 450.2 174.4 452.5 175.5 454.7 176.6 457.0 177.6 459.2 178.5 461.5 179.5 463.7 180.3 466.0 181.2 468.2 182.1 470.5 182.9 472.7 183.8 475.0 184.7 477.3 185.6 479.5 186.5 481.8 187.5 484.0 188.4 486.3 189.4 488.5 190.4 490.8 191.3 493.0 192.3 495.3 193.2 497.5 194.1 499.8 195.0 502.0 195.8 504.3 196.6 506.5 197.4 508.8 198.2 511.1 199.0 513.3 199.7 515.6 200.4 517.8 201.1 520.1 201.8 522.3 202.4 524.6 203.1 526.8 203.7 529.1 204.3 531.3 204.9 533.6 205.5 535.8 206.0 538.1 206.6 540.3 207.2 542.6 207.7 544.9 208.2 547.1 208.8 549.4 209.3 551.6 209.8 553.9 210.3 556.1 210.8 558.4 211.3 560.6 211.8 562.9 212.3 565.1 212.8 567.4 213.3 569.6 213.7 571.9 214.2 574.1 214.6 576.4 215.1 578.7 215.5 580.9 215.9 583.2 216.3 585.4 216.7 587.7 217.1 589.9 217.5 592.2 217.9 594.4 218.3 596.7 218.7 598.9 219.0 601.2 219.4 603.4 219.7 605.7 220.0 607.9 220.3 610.2 220.7 612.5 221.0 614.7 221.3 617.0 221.6 619.2 221.9 621.5 222.2 623.7 222.6 626.0 223.0 628.2 223.5 630.5 224.0 632.7 224.5 635.0 225.1 637.2 225.9 639.5 226.6 641.7 227.5 644.0 230.4 646.3 230.4 648.5 230.4 650.8 230.4 653.0 230.4 655.3 230.4 657.5 230.4 659.8 230.4 662.0 230.4 664.3 230.4 666.5 230.4 668.8 230.4 671.0 230.4 673.3 230.4 675.5 230.4 677.8 230.4" stroke="#E4864F" stroke-width="1.4" fill="none" stroke-linejoin="round"/>
<path d="M407.4 74.7h0M409.7 75.2h0M411.9 75.8h0M414.2 76.4h0M416.4 77.2h0M418.7 78.0h0M420.9 78.9h0M423.2 80.0h0M425.4 81.1h0M427.7 82.4h0M429.9 83.6h0M432.2 84.7h0M434.4 85.6h0M436.7 86.7h0M438.9 88.2h0M441.2 90.3h0M444.0 97.2h0M446.5 172.3h0M448.0 173.2h0M450.2 174.4h0M452.5 175.5h0M454.7 176.6h0M457.0 177.6h0M459.2 178.5h0M461.5 179.5h0M463.7 180.3h0M466.0 181.2h0M468.2 182.1h0M470.5 182.9h0M472.7 183.8h0M475.0 184.7h0M477.3 185.6h0M479.5 186.5h0M481.8 187.5h0M484.0 188.4h0M486.3 189.4h0M488.5 190.4h0M490.8 191.3h0M493.0 192.3h0M495.3 193.2h0M497.5 194.1h0M499.8 195.0h0M502.0 195.8h0M504.3 196.6h0M506.5 197.4h0M508.8 198.2h0M511.1 199.0h0M513.3 199.7h0M515.6 200.4h0M517.8 201.1h0M520.1 201.8h0M522.3 202.4h0M524.6 203.1h0M526.8 203.7h0M529.1 204.3h0M531.3 204.9h0M533.6 205.5h0M535.8 206.0h0M538.1 206.6h0M540.3 207.2h0M542.6 207.7h0M544.9 208.2h0M547.1 208.8h0M549.4 209.3h0M551.6 209.8h0M553.9 210.3h0M556.1 210.8h0M558.4 211.3h0M560.6 211.8h0M562.9 212.3h0M565.1 212.8h0M567.4 213.3h0M569.6 213.7h0M571.9 214.2h0M574.1 214.6h0M576.4 215.1h0M578.7 215.5h0M580.9 215.9h0M583.2 216.3h0M585.4 216.7h0M587.7 217.1h0M589.9 217.5h0M592.2 217.9h0M594.4 218.3h0M596.7 218.7h0M598.9 219.0h0M601.2 219.4h0M603.4 219.7h0M605.7 220.0h0M607.9 220.3h0M610.2 220.7h0M612.5 221.0h0M614.7 221.3h0M617.0 221.6h0M619.2 221.9h0M621.5 222.2h0M623.7 222.6h0M626.0 223.0h0M628.2 223.5h0M630.5 224.0h0M632.7 224.5h0M635.0 225.1h0M637.2 225.9h0M639.5 226.6h0M641.7 227.5h0M644.0 230.4h0M646.3 230.4h0M648.5 230.4h0M650.8 230.4h0M653.0 230.4h0M655.3 230.4h0M657.5 230.4h0M659.8 230.4h0M662.0 230.4h0M664.3 230.4h0M666.5 230.4h0M668.8 230.4h0M671.0 230.4h0M673.3 230.4h0M675.5 230.4h0M677.8 230.4h0" stroke="#E4864F" stroke-width="4.6" stroke-linecap="round" fill="none"/>
<path d="M407.4 70.0 409.7 70.3 411.9 70.5 414.2 70.8 416.4 71.1 418.7 71.5 420.9 71.9 423.2 72.3 425.4 72.7 427.7 73.1 429.9 73.6 432.2 74.1 434.4 74.6 436.7 75.1 438.9 75.7 441.2 76.3 443.5 77.0 445.7 77.7 448.0 78.5 450.2 79.4 452.5 80.3 454.7 81.4 457.0 82.8 459.2 84.3 461.5 86.0 464.1 88.1 466.0 123.9 468.8 170.8 470.5 171.6 472.7 172.6 475.0 173.6 477.3 174.6 479.5 175.5 481.8 176.4 484.0 177.3 486.3 178.1 488.5 178.9 490.8 179.7 493.0 180.5 495.3 181.2 497.5 181.9 499.8 182.6 502.0 183.2 504.3 183.9 506.5 184.5 508.8 185.1 511.1 185.7 513.3 186.2 515.6 186.8 517.8 187.3 520.1 187.8 522.3 188.3 524.6 188.8 526.8 189.3 529.1 189.7 531.3 190.2 533.6 190.6 535.8 191.0 538.1 191.4 540.3 191.8 542.6 192.3 544.9 192.6 547.1 193.0 549.4 193.4 551.6 193.8 553.9 194.2 556.1 194.6 558.4 194.9 560.6 195.3 562.9 195.7 565.1 196.0 567.4 196.4 569.6 196.7 571.9 197.1 574.1 197.4 576.4 197.8 578.7 198.2 580.9 198.5 583.2 198.9 585.4 199.2 587.7 199.6 589.9 199.9 592.2 200.3 594.4 200.6 596.7 201.0 598.9 201.3 601.2 201.7 603.4 202.1 605.7 202.4 607.9 202.8 610.2 203.2 612.5 203.6 614.7 204.0 617.0 204.3 619.2 204.7 621.5 205.1 623.7 205.6 626.0 206.0 628.2 206.4 630.5 206.8 632.7 207.2 635.0 207.7 637.2 208.1 639.5 208.6 641.1 223.1 642.1 230.4 644.0 230.4 646.3 230.4 648.5 230.4 650.8 230.4 653.0 230.4 655.3 230.4 657.5 230.4 659.8 230.4 662.0 230.4 664.3 230.4 666.5 230.4 668.8 230.4 671.0 230.4 673.3 230.4 675.5 230.4 677.8 230.4" stroke="#F8C12A" stroke-width="1.4" fill="none" stroke-linejoin="round"/>
<path d="M407.4 70.0h0M409.7 70.3h0M411.9 70.5h0M414.2 70.8h0M416.4 71.1h0M418.7 71.5h0M420.9 71.9h0M423.2 72.3h0M425.4 72.7h0M427.7 73.1h0M429.9 73.6h0M432.2 74.1h0M434.4 74.6h0M436.7 75.1h0M438.9 75.7h0M441.2 76.3h0M443.5 77.0h0M445.7 77.7h0M448.0 78.5h0M450.2 79.4h0M452.5 80.3h0M454.7 81.4h0M457.0 82.8h0M459.2 84.3h0M461.5 86.0h0M464.1 88.1h0M466.0 123.9h0M468.8 170.8h0M470.5 171.6h0M472.7 172.6h0M475.0 173.6h0M477.3 174.6h0M479.5 175.5h0M481.8 176.4h0M484.0 177.3h0M486.3 178.1h0M488.5 178.9h0M490.8 179.7h0M493.0 180.5h0M495.3 181.2h0M497.5 181.9h0M499.8 182.6h0M502.0 183.2h0M504.3 183.9h0M506.5 184.5h0M508.8 185.1h0M511.1 185.7h0M513.3 186.2h0M515.6 186.8h0M517.8 187.3h0M520.1 187.8h0M522.3 188.3h0M524.6 188.8h0M526.8 189.3h0M529.1 189.7h0M531.3 190.2h0M533.6 190.6h0M535.8 191.0h0M538.1 191.4h0M540.3 191.8h0M542.6 192.3h0M544.9 192.6h0M547.1 193.0h0M549.4 193.4h0M551.6 193.8h0M553.9 194.2h0M556.1 194.6h0M558.4 194.9h0M560.6 195.3h0M562.9 195.7h0M565.1 196.0h0M567.4 196.4h0M569.6 196.7h0M571.9 197.1h0M574.1 197.4h0M576.4 197.8h0M578.7 198.2h0M580.9 198.5h0M583.2 198.9h0M585.4 199.2h0M587.7 199.6h0M589.9 199.9h0M592.2 200.3h0M594.4 200.6h0M596.7 201.0h0M598.9 201.3h0M601.2 201.7h0M603.4 202.1h0M605.7 202.4h0M607.9 202.8h0M610.2 203.2h0M612.5 203.6h0M614.7 204.0h0M617.0 204.3h0M619.2 204.7h0M621.5 205.1h0M623.7 205.6h0M626.0 206.0h0M628.2 206.4h0M630.5 206.8h0M632.7 207.2h0M635.0 207.7h0M637.2 208.1h0M639.5 208.6h0M641.1 223.1h0M642.1 230.4h0M644.0 230.4h0M646.3 230.4h0M648.5 230.4h0M650.8 230.4h0M653.0 230.4h0M655.3 230.4h0M657.5 230.4h0M659.8 230.4h0M662.0 230.4h0M664.3 230.4h0M666.5 230.4h0M668.8 230.4h0M671.0 230.4h0M673.3 230.4h0M675.5 230.4h0M677.8 230.4h0" stroke="#F8C12A" stroke-width="4.6" stroke-linecap="round" fill="none"/>
<path d="M407.4 64.5 409.7 64.6 411.9 64.7 414.2 64.8 416.4 65.0 418.7 65.1 420.9 65.2 423.2 65.3 425.4 65.5 427.7 65.6 429.9 65.8 432.2 65.9 434.4 66.0 436.7 66.2 438.9 66.3 441.2 66.5 443.5 66.6 445.7 66.8 448.0 67.0 450.2 67.1 452.5 67.3 454.7 67.4 457.0 67.6 459.2 67.8 461.5 67.9 463.7 68.1 466.0 68.3 468.2 68.5 470.5 68.7 472.7 68.9 475.0 69.0 477.3 69.2 479.5 69.4 481.8 69.6 484.0 69.8 486.3 70.1 488.5 70.3 490.8 70.5 493.0 70.7 495.3 70.9 497.5 71.2 499.8 71.4 502.0 71.6 504.3 71.9 506.5 72.1 508.8 72.4 511.1 72.6 513.3 72.9 515.6 73.2 517.8 73.5 520.1 73.7 522.3 74.0 524.6 74.3 526.8 74.6 529.1 74.9 531.3 75.2 533.6 75.5 535.8 75.8 538.1 76.2 540.3 76.5 542.6 128.7 544.9 169.5 547.1 169.8 549.4 170.1 551.6 170.4 553.9 170.7 556.1 171.0 558.4 171.3 560.6 171.6 562.9 171.9 565.1 172.1 567.4 172.4 569.6 172.7 571.9 173.0 574.1 173.3 576.4 173.6 578.7 173.9 580.9 174.1 583.2 174.4 585.4 174.7 587.7 174.9 589.9 175.2 592.2 175.4 594.4 175.6 596.7 175.8 598.9 176.1 601.2 176.3 603.4 176.5 605.7 176.7 607.9 176.9 610.2 177.1 613.0 177.3 615.8 176.2 618.6 210.8 620.8 230.4 623.7 230.4 626.0 230.4 628.2 230.4 630.5 230.4 632.7 230.4 635.0 230.4 637.2 230.4 639.5 230.4 641.7 230.4 644.0 230.4 646.3 230.4 648.5 230.4 650.8 230.4 653.0 230.4 655.3 230.4 657.5 230.4 659.8 230.4 662.0 230.4 664.3 230.4 666.5 230.4 668.8 230.4 671.0 230.4 673.3 230.4 675.5 230.4 677.8 230.4" stroke="#0F77A0" stroke-width="1.4" fill="none" stroke-linejoin="round"/>
<path d="M407.4 64.5h0M409.7 64.6h0M411.9 64.7h0M414.2 64.8h0M416.4 65.0h0M418.7 65.1h0M420.9 65.2h0M423.2 65.3h0M425.4 65.5h0M427.7 65.6h0M429.9 65.8h0M432.2 65.9h0M434.4 66.0h0M436.7 66.2h0M438.9 66.3h0M441.2 66.5h0M443.5 66.6h0M445.7 66.8h0M448.0 67.0h0M450.2 67.1h0M452.5 67.3h0M454.7 67.4h0M457.0 67.6h0M459.2 67.8h0M461.5 67.9h0M463.7 68.1h0M466.0 68.3h0M468.2 68.5h0M470.5 68.7h0M472.7 68.9h0M475.0 69.0h0M477.3 69.2h0M479.5 69.4h0M481.8 69.6h0M484.0 69.8h0M486.3 70.1h0M488.5 70.3h0M490.8 70.5h0M493.0 70.7h0M495.3 70.9h0M497.5 71.2h0M499.8 71.4h0M502.0 71.6h0M504.3 71.9h0M506.5 72.1h0M508.8 72.4h0M511.1 72.6h0M513.3 72.9h0M515.6 73.2h0M517.8 73.5h0M520.1 73.7h0M522.3 74.0h0M524.6 74.3h0M526.8 74.6h0M529.1 74.9h0M531.3 75.2h0M533.6 75.5h0M535.8 75.8h0M538.1 76.2h0M540.3 76.5h0M542.6 128.7h0M544.9 169.5h0M547.1 169.8h0M549.4 170.1h0M551.6 170.4h0M553.9 170.7h0M556.1 171.0h0M558.4 171.3h0M560.6 171.6h0M562.9 171.9h0M565.1 172.1h0M567.4 172.4h0M569.6 172.7h0M571.9 173.0h0M574.1 173.3h0M576.4 173.6h0M578.7 173.9h0M580.9 174.1h0M583.2 174.4h0M585.4 174.7h0M587.7 174.9h0M589.9 175.2h0M592.2 175.4h0M594.4 175.6h0M596.7 175.8h0M598.9 176.1h0M601.2 176.3h0M603.4 176.5h0M605.7 176.7h0M607.9 176.9h0M610.2 177.1h0M613.0 177.3h0M615.8 176.2h0M618.6 210.8h0M620.8 230.4h0M623.7 230.4h0M626.0 230.4h0M628.2 230.4h0M630.5 230.4h0M632.7 230.4h0M635.0 230.4h0M637.2 230.4h0M639.5 230.4h0M641.7 230.4h0M644.0 230.4h0M646.3 230.4h0M648.5 230.4h0M650.8 230.4h0M653.0 230.4h0M655.3 230.4h0M657.5 230.4h0M659.8 230.4h0M662.0 230.4h0M664.3 230.4h0M666.5 230.4h0M668.8 230.4h0M671.0 230.4h0M673.3 230.4h0M675.5 230.4h0M677.8 230.4h0" stroke="#0F77A0" stroke-width="4.6" stroke-linecap="round" fill="none"/>
<path d="M407.4 63.9 409.7 63.9 411.9 64.0 414.2 64.0 416.4 64.0 418.7 64.0 420.9 64.0 423.2 64.0 425.4 64.1 427.7 64.1 429.9 64.1 432.2 64.2 434.4 64.2 436.7 64.2 438.9 64.3 441.2 64.3 443.5 64.4 445.7 64.5 448.0 64.5 450.2 64.6 452.5 64.6 454.7 64.7 457.0 64.8 459.2 64.8 461.5 64.9 463.7 65.0 466.0 65.1 468.2 65.2 470.5 65.2 472.7 65.3 475.0 65.4 477.3 65.5 479.5 65.6 481.8 65.7 484.0 65.8 486.3 65.9 488.5 66.0 490.8 66.1 493.0 66.2 495.3 66.3 497.5 66.4 499.8 66.6 502.0 66.7 504.3 66.8 506.5 66.9 508.8 67.0 511.1 67.1 513.3 67.3 515.6 67.4 517.8 67.5 520.1 67.6 522.3 67.8 524.6 67.9 526.8 68.0 529.1 68.1 531.3 68.3 533.6 68.4 535.8 68.5 538.1 68.7 540.3 68.8 542.6 68.9 544.9 69.1 547.1 69.2 549.4 69.4 551.6 69.6 553.9 69.8 556.1 70.0 558.4 70.2 560.6 70.5 562.9 70.7 565.1 71.0 567.4 71.2 569.6 71.5 571.9 71.8 574.1 72.0 576.4 72.3 578.7 72.6 580.9 72.9 583.2 73.2 585.4 73.5 587.7 73.8 589.9 74.1 592.2 74.4 594.4 74.7 596.7 75.0 598.9 89.8 601.2 230.4 603.4 230.4 605.7 230.4 607.9 230.4 610.2 230.4 612.5 230.4 614.7 230.4 617.0 230.4 619.2 230.4 621.5 230.4 623.7 230.4 626.0 230.4 628.2 230.4 630.5 230.4 632.7 230.4 635.0 230.4 637.2 230.4 639.5 230.4 641.7 230.4 644.0 230.4 646.3 230.4 648.5 230.4 650.8 230.4 653.0 230.4 655.3 230.4 657.5 230.4 659.8 230.4 662.0 230.4 664.3 230.4 666.5 230.4 668.8 230.4 671.0 230.4 673.3 230.4 675.5 230.4 677.8 230.4" stroke="#EDB196" stroke-width="1.4" fill="none" stroke-linejoin="round"/>
<path d="M407.4 63.9h0M409.7 63.9h0M411.9 64.0h0M414.2 64.0h0M416.4 64.0h0M418.7 64.0h0M420.9 64.0h0M423.2 64.0h0M425.4 64.1h0M427.7 64.1h0M429.9 64.1h0M432.2 64.2h0M434.4 64.2h0M436.7 64.2h0M438.9 64.3h0M441.2 64.3h0M443.5 64.4h0M445.7 64.5h0M448.0 64.5h0M450.2 64.6h0M452.5 64.6h0M454.7 64.7h0M457.0 64.8h0M459.2 64.8h0M461.5 64.9h0M463.7 65.0h0M466.0 65.1h0M468.2 65.2h0M470.5 65.2h0M472.7 65.3h0M475.0 65.4h0M477.3 65.5h0M479.5 65.6h0M481.8 65.7h0M484.0 65.8h0M486.3 65.9h0M488.5 66.0h0M490.8 66.1h0M493.0 66.2h0M495.3 66.3h0M497.5 66.4h0M499.8 66.6h0M502.0 66.7h0M504.3 66.8h0M506.5 66.9h0M508.8 67.0h0M511.1 67.1h0M513.3 67.3h0M515.6 67.4h0M517.8 67.5h0M520.1 67.6h0M522.3 67.8h0M524.6 67.9h0M526.8 68.0h0M529.1 68.1h0M531.3 68.3h0M533.6 68.4h0M535.8 68.5h0M538.1 68.7h0M540.3 68.8h0M542.6 68.9h0M544.9 69.1h0M547.1 69.2h0M549.4 69.4h0M551.6 69.6h0M553.9 69.8h0M556.1 70.0h0M558.4 70.2h0M560.6 70.5h0M562.9 70.7h0M565.1 71.0h0M567.4 71.2h0M569.6 71.5h0M571.9 71.8h0M574.1 72.0h0M576.4 72.3h0M578.7 72.6h0M580.9 72.9h0M583.2 73.2h0M585.4 73.5h0M587.7 73.8h0M589.9 74.1h0M592.2 74.4h0M594.4 74.7h0M596.7 75.0h0M598.9 89.8h0M601.2 230.4h0M603.4 230.4h0M605.7 230.4h0M607.9 230.4h0M610.2 230.4h0M612.5 230.4h0M614.7 230.4h0M617.0 230.4h0M619.2 230.4h0M621.5 230.4h0M623.7 230.4h0M626.0 230.4h0M628.2 230.4h0M630.5 230.4h0M632.7 230.4h0M635.0 230.4h0M637.2 230.4h0M639.5 230.4h0M641.7 230.4h0M644.0 230.4h0M646.3 230.4h0M648.5 230.4h0M650.8 230.4h0M653.0 230.4h0M655.3 230.4h0M657.5 230.4h0M659.8 230.4h0M662.0 230.4h0M664.3 230.4h0M666.5 230.4h0M668.8 230.4h0M671.0 230.4h0M673.3 230.4h0M675.5 230.4h0M677.8 230.4h0" stroke="#EDB196" stroke-width="4.6" stroke-linecap="round" fill="none"/>
<path d="M407.4 63.5 409.7 63.5 411.9 63.5 414.2 63.5 416.4 63.5 418.7 63.5 420.9 63.6 423.2 63.6 425.4 63.6 427.7 63.6 429.9 63.7 432.2 63.7 434.4 63.7 436.7 63.8 438.9 63.8 441.2 63.8 443.5 63.9 445.7 63.9 448.0 64.0 450.2 64.0 452.5 64.1 454.7 64.2 457.0 64.2 459.2 64.3 461.5 64.3 463.7 64.4 466.0 64.5 468.2 64.5 470.5 64.6 472.7 64.7 475.0 64.8 477.3 64.8 479.5 64.9 481.8 65.0 484.0 65.1 486.3 65.1 488.5 65.2 490.8 65.3 493.0 65.4 495.3 65.5 497.5 65.6 499.8 65.7 502.0 65.8 504.3 65.8 506.5 65.9 508.8 66.0 511.1 66.1 513.3 66.2 515.6 66.3 517.8 66.4 520.1 66.5 522.3 66.6 524.6 66.7 526.8 66.8 529.1 66.9 531.3 67.0 533.6 67.1 535.8 67.2 538.1 67.3 540.3 67.4 542.6 67.5 544.9 67.6 547.1 67.7 549.4 67.8 551.6 67.9 553.9 68.1 556.1 68.2 558.4 68.3 560.6 68.5 562.9 68.6 565.1 68.8 567.4 69.0 569.6 69.1 571.9 69.3 574.1 69.5 576.4 69.6 578.7 69.8 580.9 70.0 583.2 70.2 585.4 70.3 587.7 70.5 589.9 70.7 592.2 70.9 594.4 71.1 596.7 71.3 598.9 71.5 601.2 71.7 603.4 71.9 604.8 72.0 607.0 84.2 609.3 230.4 612.5 230.4 614.7 230.4 617.0 230.4 619.2 230.4 621.5 230.4 623.7 230.4 626.0 230.4 628.2 230.4 630.5 230.4 632.7 230.4 635.0 230.4 637.2 230.4 639.5 230.4 641.7 230.4 644.0 230.4 646.3 230.4 648.5 230.4 650.8 230.4 653.0 230.4 655.3 230.4 657.5 230.4 659.8 230.4 662.0 230.4 664.3 230.4 666.5 230.4 668.8 230.4 671.0 230.4 673.3 230.4 675.5 230.4 677.8 230.4" stroke="#3EB46A" stroke-width="1.4" fill="none" stroke-linejoin="round"/>
<path d="M407.4 63.5h0M409.7 63.5h0M411.9 63.5h0M414.2 63.5h0M416.4 63.5h0M418.7 63.5h0M420.9 63.6h0M423.2 63.6h0M425.4 63.6h0M427.7 63.6h0M429.9 63.7h0M432.2 63.7h0M434.4 63.7h0M436.7 63.8h0M438.9 63.8h0M441.2 63.8h0M443.5 63.9h0M445.7 63.9h0M448.0 64.0h0M450.2 64.0h0M452.5 64.1h0M454.7 64.2h0M457.0 64.2h0M459.2 64.3h0M461.5 64.3h0M463.7 64.4h0M466.0 64.5h0M468.2 64.5h0M470.5 64.6h0M472.7 64.7h0M475.0 64.8h0M477.3 64.8h0M479.5 64.9h0M481.8 65.0h0M484.0 65.1h0M486.3 65.1h0M488.5 65.2h0M490.8 65.3h0M493.0 65.4h0M495.3 65.5h0M497.5 65.6h0M499.8 65.7h0M502.0 65.8h0M504.3 65.8h0M506.5 65.9h0M508.8 66.0h0M511.1 66.1h0M513.3 66.2h0M515.6 66.3h0M517.8 66.4h0M520.1 66.5h0M522.3 66.6h0M524.6 66.7h0M526.8 66.8h0M529.1 66.9h0M531.3 67.0h0M533.6 67.1h0M535.8 67.2h0M538.1 67.3h0M540.3 67.4h0M542.6 67.5h0M544.9 67.6h0M547.1 67.7h0M549.4 67.8h0M551.6 67.9h0M553.9 68.1h0M556.1 68.2h0M558.4 68.3h0M560.6 68.5h0M562.9 68.6h0M565.1 68.8h0M567.4 69.0h0M569.6 69.1h0M571.9 69.3h0M574.1 69.5h0M576.4 69.6h0M578.7 69.8h0M580.9 70.0h0M583.2 70.2h0M585.4 70.3h0M587.7 70.5h0M589.9 70.7h0M592.2 70.9h0M594.4 71.1h0M596.7 71.3h0M598.9 71.5h0M601.2 71.7h0M603.4 71.9h0M604.8 72.0h0M607.0 84.2h0M609.3 230.4h0M612.5 230.4h0M614.7 230.4h0M617.0 230.4h0M619.2 230.4h0M621.5 230.4h0M623.7 230.4h0M626.0 230.4h0M628.2 230.4h0M630.5 230.4h0M632.7 230.4h0M635.0 230.4h0M637.2 230.4h0M639.5 230.4h0M641.7 230.4h0M644.0 230.4h0M646.3 230.4h0M648.5 230.4h0M650.8 230.4h0M653.0 230.4h0M655.3 230.4h0M657.5 230.4h0M659.8 230.4h0M662.0 230.4h0M664.3 230.4h0M666.5 230.4h0M668.8 230.4h0M671.0 230.4h0M673.3 230.4h0M675.5 230.4h0M677.8 230.4h0" stroke="#3EB46A" stroke-width="4.6" stroke-linecap="round" fill="none"/>
<text x="393.8" y="234.8" font-size="13" text-anchor="end" fill="#404040" stroke="#404040" stroke-width="0.22">0.00</text>
<text x="393.8" y="207.1" font-size="13" text-anchor="end" fill="#404040" stroke="#404040" stroke-width="0.22">0.05</text>
<text x="393.8" y="179.3" font-size="13" text-anchor="end" fill="#404040" stroke="#404040" stroke-width="0.22">0.10</text>
<text x="393.8" y="151.6" font-size="13" text-anchor="end" fill="#404040" stroke="#404040" stroke-width="0.22">0.15</text>
<text x="393.8" y="123.8" font-size="13" text-anchor="end" fill="#404040" stroke="#404040" stroke-width="0.22">0.20</text>
<text x="393.8" y="96.1" font-size="13" text-anchor="end" fill="#404040" stroke="#404040" stroke-width="0.22">0.25</text>
<text x="393.8" y="68.4" font-size="13" text-anchor="end" fill="#404040" stroke="#404040" stroke-width="0.22">0.30</text>
<text x="393.8" y="40.6" font-size="13" text-anchor="end" fill="#404040" stroke="#404040" stroke-width="0.22">0.35</text>
<text x="407.4" y="249.9" font-size="13" text-anchor="middle" fill="#404040" stroke="#404040" stroke-width="0.22">0</text>
<text x="429.9" y="249.9" font-size="13" text-anchor="middle" fill="#404040" stroke="#404040" stroke-width="0.22">2</text>
<text x="452.5" y="249.9" font-size="13" text-anchor="middle" fill="#404040" stroke="#404040" stroke-width="0.22">4</text>
<text x="475.0" y="249.9" font-size="13" text-anchor="middle" fill="#404040" stroke="#404040" stroke-width="0.22">6</text>
<text x="497.5" y="249.9" font-size="13" text-anchor="middle" fill="#404040" stroke="#404040" stroke-width="0.22">8</text>
<text x="520.1" y="249.9" font-size="13" text-anchor="middle" fill="#404040" stroke="#404040" stroke-width="0.22">10</text>
<text x="542.6" y="249.9" font-size="13" text-anchor="middle" fill="#404040" stroke="#404040" stroke-width="0.22">12</text>
<text x="565.1" y="249.9" font-size="13" text-anchor="middle" fill="#404040" stroke="#404040" stroke-width="0.22">14</text>
<text x="587.7" y="249.9" font-size="13" text-anchor="middle" fill="#404040" stroke="#404040" stroke-width="0.22">16</text>
<text x="610.2" y="249.9" font-size="13" text-anchor="middle" fill="#404040" stroke="#404040" stroke-width="0.22">18</text>
<text x="632.7" y="249.9" font-size="13" text-anchor="middle" fill="#404040" stroke="#404040" stroke-width="0.22">20</text>
<text x="655.3" y="249.9" font-size="13" text-anchor="middle" fill="#404040" stroke="#404040" stroke-width="0.22">22</text>
<text x="677.8" y="249.9" font-size="13" text-anchor="middle" fill="#404040" stroke="#404040" stroke-width="0.22">24</text>
<text x="542.3" y="269.0" font-size="14.3" text-anchor="middle" fill="#404040" stroke="#404040" stroke-width="0.22">Distance (cm)</text>
<text transform="translate(364.3,136.7) rotate(-90) scale(1.0,1)" x="0" y="0" font-size="14.75" text-anchor="middle" fill="#404040" stroke="#404040" stroke-width="0.22">Ice content (m<tspan font-size="9.1" dy="-5.6">3</tspan><tspan dy="5.6">/m</tspan><tspan font-size="9.1" dy="-5.6">3</tspan><tspan dy="5.6">)</tspan></text>
<text x="472.0" y="293.5" font-size="18" fill="#303030">(b)</text>
<text x="508.5" y="293.5" font-size="18" fill="#303030">ice content</text>
<text x="462.0" y="313.8" font-size="18" fill="#303030">(pure brick wall)</text>
<path d="M414.6 20.5H429.1" stroke="#1BAAE1" stroke-width="1.5"/>
<circle cx="421.9" cy="20.5" r="2.5" fill="#1BAAE1"/>
<text x="431.1" y="24.9" font-size="13" fill="#404040" stroke="#404040" stroke-width="0.22">24h</text>
<path d="M455.3 20.5H469.8" stroke="#E4864F" stroke-width="1.5"/>
<circle cx="462.6" cy="20.5" r="2.5" fill="#E4864F"/>
<text x="471.8" y="24.9" font-size="13" fill="#404040" stroke="#404040" stroke-width="0.22">48h</text>
<path d="M496.5 20.5H511.0" stroke="#F8C12A" stroke-width="1.5"/>
<circle cx="503.8" cy="20.5" r="2.5" fill="#F8C12A"/>
<text x="513.0" y="24.9" font-size="13" fill="#404040" stroke="#404040" stroke-width="0.22">72h</text>
<path d="M537.3 20.5H551.8" stroke="#0F77A0" stroke-width="1.5"/>
<circle cx="544.5" cy="20.5" r="2.5" fill="#0F77A0"/>
<text x="553.8" y="24.9" font-size="13" fill="#404040" stroke="#404040" stroke-width="0.22">240h</text>
<path d="M585.1 20.5H599.6" stroke="#EDB196" stroke-width="1.5"/>
<circle cx="592.4" cy="20.5" r="2.5" fill="#EDB196"/>
<text x="601.6" y="24.9" font-size="13" fill="#404040" stroke="#404040" stroke-width="0.22">480h</text>
<path d="M632.1 20.5H646.6" stroke="#3EB46A" stroke-width="1.5"/>
<circle cx="639.4" cy="20.5" r="2.5" fill="#3EB46A"/>
<text x="648.6" y="24.9" font-size="13" fill="#404040" stroke="#404040" stroke-width="0.22">720h</text>
</g>
<g id="panel-c">
<rect x="179.7" y="346.0" width="23.2" height="191.8" fill="#E4E4E4"/>
<path d="M59.5 346.0V537.8M81.3 346.0V537.8M103.0 346.0V537.8M124.8 346.0V537.8M146.6 346.0V537.8M168.3 346.0V537.8M190.1 346.0V537.8M211.9 346.0V537.8M233.6 346.0V537.8M255.4 346.0V537.8M277.2 346.0V537.8M298.9 346.0V537.8M320.7 346.0V537.8M59.5 537.8H320.7M59.5 499.4H320.7M59.5 461.1H320.7M59.5 422.7H320.7M59.5 384.4H320.7M59.5 346.0H320.7" stroke="#D4D4D4" stroke-width="1.1" fill="none"/>
<path d="M59.0 346.0H320.7" stroke="#7C7C7C" stroke-width="1.9" fill="none"/>
<path d="M320.7 346.0V537.8" stroke="#5A5A5A" stroke-width="1.3" fill="none"/>
<path d="M59.5 418.1 178.1 418.1 180.3 399.7 204.2 399.7 206.4 418.1 320.7 418.1" stroke="#222222" stroke-width="2.0" stroke-dasharray="4,2.4" fill="none"/>
<path d="M59.5 371.9 61.7 372.0 63.9 372.0 66.0 372.0 68.2 372.1 70.4 372.1 72.6 372.2 74.7 372.2 76.9 372.3 79.1 372.4 81.3 372.4 83.4 372.5 85.6 372.6 87.8 372.7 90.0 372.7 92.2 372.8 94.3 372.9 96.5 373.0 98.7 373.1 100.9 373.1 103.0 373.2 105.2 373.3 107.4 373.4 109.6 373.5 111.7 373.6 113.9 373.7 116.1 373.9 118.3 374.0 120.4 374.1 122.6 374.2 124.8 374.4 127.0 374.5 129.2 374.6 131.3 374.8 133.5 374.9 135.7 375.1 137.9 375.3 140.0 375.4 142.2 375.6 144.4 375.8 146.6 375.9 148.7 376.1 150.9 376.3 153.1 376.5 155.3 376.7 157.4 376.9 159.6 377.1 161.8 377.4 164.0 377.6 166.2 377.8 168.3 378.1 170.5 378.4 172.7 378.6 174.9 378.9 177.0 379.1 179.2 357.9 181.4 361.5 183.6 365.1 185.7 368.7 187.9 372.3 190.1 375.9 192.3 379.4 194.5 383.0 196.6 386.6 198.8 390.2 201.0 393.8 203.2 397.4 206.4 416.6 209.7 416.7 211.9 416.8 214.0 416.9 216.2 417.0 218.4 417.1 220.6 417.2 222.8 417.3 224.9 417.4 227.1 417.5 229.3 417.6 231.5 417.7 233.6 417.7 235.8 417.8 238.0 417.9 240.2 417.9 242.3 418.0 244.5 418.1 246.7 418.1 248.9 418.2 251.0 418.2 253.2 418.3 255.4 418.4 257.6 418.4 259.8 418.5 261.9 418.5 264.1 418.6 266.3 418.6 268.5 418.7 270.6 418.7 272.8 418.8 275.0 418.8 277.2 418.9 279.3 418.9 281.5 419.0 283.7 419.0 285.9 419.1 288.0 419.1 290.2 419.2 292.4 419.2 294.6 419.3 296.8 419.4 298.9 419.4 301.1 419.5 303.3 419.5 305.5 419.5 307.6 419.6 309.8 419.6 312.0 419.7 314.2 419.7 316.3 419.8 318.5 419.8 320.7 419.9" stroke="#26A9DF" stroke-width="1.4" fill="none" stroke-linejoin="round"/>
<path d="M59.5 371.9h0M61.7 372.0h0M63.9 372.0h0M66.0 372.0h0M68.2 372.1h0M70.4 372.1h0M72.6 372.2h0M74.7 372.2h0M76.9 372.3h0M79.1 372.4h0M81.3 372.4h0M83.4 372.5h0M85.6 372.6h0M87.8 372.7h0M90.0 372.7h0M92.2 372.8h0M94.3 372.9h0M96.5 373.0h0M98.7 373.1h0M100.9 373.1h0M103.0 373.2h0M105.2 373.3h0M107.4 373.4h0M109.6 373.5h0M111.7 373.6h0M113.9 373.7h0M116.1 373.9h0M118.3 374.0h0M120.4 374.1h0M122.6 374.2h0M124.8 374.4h0M127.0 374.5h0M129.2 374.6h0M131.3 374.8h0M133.5 374.9h0M135.7 375.1h0M137.9 375.3h0M140.0 375.4h0M142.2 375.6h0M144.4 375.8h0M146.6 375.9h0M148.7 376.1h0M150.9 376.3h0M153.1 376.5h0M155.3 376.7h0M157.4 376.9h0M159.6 377.1h0M161.8 377.4h0M164.0 377.6h0M166.2 377.8h0M168.3 378.1h0M170.5 378.4h0M172.7 378.6h0M174.9 378.9h0M177.0 379.1h0M179.2 357.9h0M181.4 361.5h0M183.6 365.1h0M185.7 368.7h0M187.9 372.3h0M190.1 375.9h0M192.3 379.4h0M194.5 383.0h0M196.6 386.6h0M198.8 390.2h0M201.0 393.8h0M203.2 397.4h0M206.4 416.6h0M209.7 416.7h0M211.9 416.8h0M214.0 416.9h0M216.2 417.0h0M218.4 417.1h0M220.6 417.2h0M222.8 417.3h0M224.9 417.4h0M227.1 417.5h0M229.3 417.6h0M231.5 417.7h0M233.6 417.7h0M235.8 417.8h0M238.0 417.9h0M240.2 417.9h0M242.3 418.0h0M244.5 418.1h0M246.7 418.1h0M248.9 418.2h0M251.0 418.2h0M253.2 418.3h0M255.4 418.4h0M257.6 418.4h0M259.8 418.5h0M261.9 418.5h0M264.1 418.6h0M266.3 418.6h0M268.5 418.7h0M270.6 418.7h0M272.8 418.8h0M275.0 418.8h0M277.2 418.9h0M279.3 418.9h0M281.5 419.0h0M283.7 419.0h0M285.9 419.1h0M288.0 419.1h0M290.2 419.2h0M292.4 419.2h0M294.6 419.3h0M296.8 419.4h0M298.9 419.4h0M301.1 419.5h0M303.3 419.5h0M305.5 419.5h0M307.6 419.6h0M309.8 419.6h0M312.0 419.7h0M314.2 419.7h0M316.3 419.8h0M318.5 419.8h0M320.7 419.9h0" stroke="#26A9DF" stroke-width="4.4" stroke-linecap="round" fill="none"/>
<path d="M59.5 509.9 61.7 509.1 63.9 508.2 66.0 507.2 68.2 506.1 70.4 505.0 72.6 503.7 74.7 502.3 76.9 500.8 79.1 499.2 81.3 497.4 83.4 495.4 85.6 493.2 87.8 490.8 90.0 488.3 92.2 485.5 93.9 483.3 96.5 481.8 98.7 480.7 100.9 479.7 103.0 478.8 105.2 478.1 107.4 477.4 109.6 476.8 111.7 476.3 113.9 475.8 116.1 475.3 118.3 474.8 120.4 474.3 122.6 473.9 124.8 473.4 127.0 473.0 129.2 472.6 131.3 472.2 133.5 471.8 135.7 471.4 137.9 471.0 140.0 470.6 142.2 470.3 144.4 469.9 146.6 469.5 148.7 469.1 150.9 468.7 153.1 468.3 155.3 467.9 157.4 467.5 159.6 467.2 161.8 466.8 164.0 466.4 166.2 466.1 168.3 465.8 170.5 465.5 172.7 465.2 174.9 464.9 177.0 464.7 179.2 442.7 181.4 439.1 183.6 435.6 185.7 432.1 187.9 428.6 190.1 425.1 192.3 421.5 194.5 418.0 196.6 414.5 198.8 411.0 201.0 407.4 203.2 403.9 206.4 419.0 209.7 418.8 211.9 418.7 214.0 418.6 216.2 418.5 218.4 418.4 220.6 418.2 222.8 418.1 224.9 418.0 227.1 417.9 229.3 417.9 231.5 417.8 233.6 417.7 235.8 417.7 238.0 417.6 240.2 417.6 242.3 417.6 244.5 417.5 246.7 417.5 248.9 417.4 251.0 417.4 253.2 417.4 255.4 417.3 257.6 417.3 259.8 417.3 261.9 417.2 264.1 417.2 266.3 417.2 268.5 417.1 270.6 417.1 272.8 417.1 275.0 417.0 277.2 417.0 279.3 417.0 281.5 417.0 283.7 416.9 285.9 416.9 288.0 416.9 290.2 416.9 292.4 416.9 294.6 416.8 296.8 416.8 298.9 416.8 301.1 416.8 303.3 416.8 305.5 416.8 307.6 416.8 309.8 416.8 312.0 416.7 314.2 416.7 316.3 416.7 318.5 416.7 320.7 416.7" stroke="#E86E32" stroke-width="1.4" fill="none" stroke-linejoin="round"/>
<path d="M59.5 509.9h0M61.7 509.1h0M63.9 508.2h0M66.0 507.2h0M68.2 506.1h0M70.4 505.0h0M72.6 503.7h0M74.7 502.3h0M76.9 500.8h0M79.1 499.2h0M81.3 497.4h0M83.4 495.4h0M85.6 493.2h0M87.8 490.8h0M90.0 488.3h0M92.2 485.5h0M93.9 483.3h0M96.5 481.8h0M98.7 480.7h0M100.9 479.7h0M103.0 478.8h0M105.2 478.1h0M107.4 477.4h0M109.6 476.8h0M111.7 476.3h0M113.9 475.8h0M116.1 475.3h0M118.3 474.8h0M120.4 474.3h0M122.6 473.9h0M124.8 473.4h0M127.0 473.0h0M129.2 472.6h0M131.3 472.2h0M133.5 471.8h0M135.7 471.4h0M137.9 471.0h0M140.0 470.6h0M142.2 470.3h0M144.4 469.9h0M146.6 469.5h0M148.7 469.1h0M150.9 468.7h0M153.1 468.3h0M155.3 467.9h0M157.4 467.5h0M159.6 467.2h0M161.8 466.8h0M164.0 466.4h0M166.2 466.1h0M168.3 465.8h0M170.5 465.5h0M172.7 465.2h0M174.9 464.9h0M177.0 464.7h0M179.2 442.7h0M181.4 439.1h0M183.6 435.6h0M185.7 432.1h0M187.9 428.6h0M190.1 425.1h0M192.3 421.5h0M194.5 418.0h0M196.6 414.5h0M198.8 411.0h0M201.0 407.4h0M203.2 403.9h0M206.4 419.0h0M209.7 418.8h0M211.9 418.7h0M214.0 418.6h0M216.2 418.5h0M218.4 418.4h0M220.6 418.2h0M222.8 418.1h0M224.9 418.0h0M227.1 417.9h0M229.3 417.9h0M231.5 417.8h0M233.6 417.7h0M235.8 417.7h0M238.0 417.6h0M240.2 417.6h0M242.3 417.6h0M244.5 417.5h0M246.7 417.5h0M248.9 417.4h0M251.0 417.4h0M253.2 417.4h0M255.4 417.3h0M257.6 417.3h0M259.8 417.3h0M261.9 417.2h0M264.1 417.2h0M266.3 417.2h0M268.5 417.1h0M270.6 417.1h0M272.8 417.1h0M275.0 417.0h0M277.2 417.0h0M279.3 417.0h0M281.5 417.0h0M283.7 416.9h0M285.9 416.9h0M288.0 416.9h0M290.2 416.9h0M292.4 416.9h0M294.6 416.8h0M296.8 416.8h0M298.9 416.8h0M301.1 416.8h0M303.3 416.8h0M305.5 416.8h0M307.6 416.8h0M309.8 416.8h0M312.0 416.7h0M314.2 416.7h0M316.3 416.7h0M318.5 416.7h0M320.7 416.7h0" stroke="#E86E32" stroke-width="4.4" stroke-linecap="round" fill="none"/>
<path d="M59.5 517.0 61.7 516.7 63.9 516.3 66.0 515.9 68.2 515.5 70.4 515.0 72.6 514.6 74.7 514.1 76.9 513.6 79.1 513.1 81.3 512.6 83.4 512.0 85.6 511.5 87.8 510.9 90.0 510.4 92.2 509.8 94.3 509.1 96.5 508.4 98.7 507.7 100.9 506.9 103.0 506.0 105.2 505.0 107.4 503.8 110.7 501.7 113.9 500.9 116.1 500.3 118.3 499.8 120.4 499.3 122.6 498.9 124.8 498.4 127.0 498.1 129.2 497.7 131.3 497.4 133.5 497.0 135.7 496.7 137.9 496.4 140.0 496.1 142.2 495.8 144.4 495.5 146.6 495.2 148.7 494.9 150.9 494.6 153.1 494.3 155.3 494.0 157.4 493.7 159.6 493.4 161.8 493.1 164.0 492.8 166.2 492.5 168.3 492.3 170.5 492.1 172.7 491.9 174.9 491.7 177.0 491.5 179.2 469.1 181.4 461.3 183.6 457.8 185.7 454.3 187.9 450.8 190.1 447.3 192.3 443.8 194.5 440.3 196.6 436.8 198.8 433.3 201.0 429.8 203.2 426.3 205.3 440.5 207.5 436.4 209.7 436.0 211.9 435.6 214.0 435.2 216.2 434.8 218.4 434.5 220.6 434.1 222.8 433.7 224.9 433.4 227.1 433.0 229.3 432.6 231.5 432.3 233.6 431.9 235.8 431.6 238.0 431.2 240.2 430.9 242.3 430.5 244.5 430.2 246.7 429.8 248.9 429.5 251.0 429.2 253.2 428.9 255.4 428.6 257.6 428.4 259.8 428.1 261.9 427.9 264.1 427.7 266.3 427.5 268.5 427.3 270.6 427.1 272.8 426.9 275.0 426.7 277.2 426.6 279.3 426.4 281.5 426.3 283.7 426.1 285.9 426.0 288.0 425.9 290.2 425.8 292.4 425.7 294.6 425.6 296.8 425.5 298.9 425.4 301.1 425.3 303.3 425.3 305.5 425.2 307.6 425.2 309.8 425.1 312.0 425.1 314.2 425.0 316.3 425.0 318.5 425.0 320.7 424.9" stroke="#F8B81E" stroke-width="1.4" fill="none" stroke-linejoin="round"/>
<path d="M59.5 517.0h0M61.7 516.7h0M63.9 516.3h0M66.0 515.9h0M68.2 515.5h0M70.4 515.0h0M72.6 514.6h0M74.7 514.1h0M76.9 513.6h0M79.1 513.1h0M81.3 512.6h0M83.4 512.0h0M85.6 511.5h0M87.8 510.9h0M90.0 510.4h0M92.2 509.8h0M94.3 509.1h0M96.5 508.4h0M98.7 507.7h0M100.9 506.9h0M103.0 506.0h0M105.2 505.0h0M107.4 503.8h0M110.7 501.7h0M113.9 500.9h0M116.1 500.3h0M118.3 499.8h0M120.4 499.3h0M122.6 498.9h0M124.8 498.4h0M127.0 498.1h0M129.2 497.7h0M131.3 497.4h0M133.5 497.0h0M135.7 496.7h0M137.9 496.4h0M140.0 496.1h0M142.2 495.8h0M144.4 495.5h0M146.6 495.2h0M148.7 494.9h0M150.9 494.6h0M153.1 494.3h0M155.3 494.0h0M157.4 493.7h0M159.6 493.4h0M161.8 493.1h0M164.0 492.8h0M166.2 492.5h0M168.3 492.3h0M170.5 492.1h0M172.7 491.9h0M174.9 491.7h0M177.0 491.5h0M179.2 469.1h0M181.4 461.3h0M183.6 457.8h0M185.7 454.3h0M187.9 450.8h0M190.1 447.3h0M192.3 443.8h0M194.5 440.3h0M196.6 436.8h0M198.8 433.3h0M201.0 429.8h0M203.2 426.3h0M205.3 440.5h0M207.5 436.4h0M209.7 436.0h0M211.9 435.6h0M214.0 435.2h0M216.2 434.8h0M218.4 434.5h0M220.6 434.1h0M222.8 433.7h0M224.9 433.4h0M227.1 433.0h0M229.3 432.6h0M231.5 432.3h0M233.6 431.9h0M235.8 431.6h0M238.0 431.2h0M240.2 430.9h0M242.3 430.5h0M244.5 430.2h0M246.7 429.8h0M248.9 429.5h0M251.0 429.2h0M253.2 428.9h0M255.4 428.6h0M257.6 428.4h0M259.8 428.1h0M261.9 427.9h0M264.1 427.7h0M266.3 427.5h0M268.5 427.3h0M270.6 427.1h0M272.8 426.9h0M275.0 426.7h0M277.2 426.6h0M279.3 426.4h0M281.5 426.3h0M283.7 426.1h0M285.9 426.0h0M288.0 425.9h0M290.2 425.8h0M292.4 425.7h0M294.6 425.6h0M296.8 425.5h0M298.9 425.4h0M301.1 425.3h0M303.3 425.3h0M305.5 425.2h0M307.6 425.2h0M309.8 425.1h0M312.0 425.1h0M314.2 425.0h0M316.3 425.0h0M318.5 425.0h0M320.7 424.9h0" stroke="#F8B81E" stroke-width="4.4" stroke-linecap="round" fill="none"/>
<path d="M59.5 523.6 61.7 523.5 63.9 523.4 66.0 523.4 68.2 523.3 70.4 523.2 72.6 523.1 74.7 523.0 76.9 522.9 79.1 522.8 81.3 522.7 83.4 522.6 85.6 522.5 87.8 522.4 90.0 522.3 92.2 522.2 94.3 522.0 96.5 521.9 98.7 521.8 100.9 521.7 103.0 521.6 105.2 521.4 107.4 521.3 109.6 521.2 111.7 521.1 113.9 520.9 116.1 520.8 118.3 520.7 120.4 520.5 122.6 520.4 124.8 520.2 127.0 520.1 129.2 519.9 131.3 519.8 133.5 519.6 135.7 519.5 137.9 519.3 140.0 519.1 142.2 519.0 144.4 518.8 146.6 518.6 148.7 518.4 150.9 518.3 153.1 518.1 155.3 517.9 157.4 517.7 159.6 517.5 161.8 517.3 164.0 517.1 166.2 516.9 168.3 516.7 170.5 516.5 172.7 516.3 174.9 516.1 177.0 515.9 179.2 500.2 182.5 493.5 185.7 491.8 187.9 490.8 190.1 489.7 192.3 488.6 194.5 487.5 196.6 486.5 198.8 485.4 201.0 484.3 203.2 483.3 205.3 498.4 207.5 497.8 209.7 497.1 211.9 496.4 214.0 495.7 216.2 494.9 218.4 494.1 220.6 493.3 222.8 492.5 224.9 491.6 227.1 490.7 229.3 489.8 231.5 488.9 233.6 487.9 235.8 487.0 238.0 485.9 240.2 484.9 242.3 483.8 244.5 482.7 246.7 481.5 248.9 480.3 251.0 479.1 253.2 477.8 255.4 476.6 257.6 476.4 259.8 476.2 261.9 476.0 264.1 475.8 266.3 475.6 268.5 475.5 270.6 475.3 272.8 475.2 275.0 475.2 277.2 475.1 279.3 475.1 281.5 475.1 283.7 475.1 285.9 475.0 288.0 475.0 290.2 475.0 292.4 475.0 294.6 475.0 296.8 475.0 298.9 474.9 301.1 474.9 303.3 474.9 305.5 474.9 307.6 474.9 309.8 474.9 312.0 474.9 314.2 474.9 316.3 474.9 318.5 474.9 320.7 474.9" stroke="#0F5A87" stroke-width="1.4" fill="none" stroke-linejoin="round"/>
<path d="M59.5 523.6h0M61.7 523.5h0M63.9 523.4h0M66.0 523.4h0M68.2 523.3h0M70.4 523.2h0M72.6 523.1h0M74.7 523.0h0M76.9 522.9h0M79.1 522.8h0M81.3 522.7h0M83.4 522.6h0M85.6 522.5h0M87.8 522.4h0M90.0 522.3h0M92.2 522.2h0M94.3 522.0h0M96.5 521.9h0M98.7 521.8h0M100.9 521.7h0M103.0 521.6h0M105.2 521.4h0M107.4 521.3h0M109.6 521.2h0M111.7 521.1h0M113.9 520.9h0M116.1 520.8h0M118.3 520.7h0M120.4 520.5h0M122.6 520.4h0M124.8 520.2h0M127.0 520.1h0M129.2 519.9h0M131.3 519.8h0M133.5 519.6h0M135.7 519.5h0M137.9 519.3h0M140.0 519.1h0M142.2 519.0h0M144.4 518.8h0M146.6 518.6h0M148.7 518.4h0M150.9 518.3h0M153.1 518.1h0M155.3 517.9h0M157.4 517.7h0M159.6 517.5h0M161.8 517.3h0M164.0 517.1h0M166.2 516.9h0M168.3 516.7h0M170.5 516.5h0M172.7 516.3h0M174.9 516.1h0M177.0 515.9h0M179.2 500.2h0M182.5 493.5h0M185.7 491.8h0M187.9 490.8h0M190.1 489.7h0M192.3 488.6h0M194.5 487.5h0M196.6 486.5h0M198.8 485.4h0M201.0 484.3h0M203.2 483.3h0M205.3 498.4h0M207.5 497.8h0M209.7 497.1h0M211.9 496.4h0M214.0 495.7h0M216.2 494.9h0M218.4 494.1h0M220.6 493.3h0M222.8 492.5h0M224.9 491.6h0M227.1 490.7h0M229.3 489.8h0M231.5 488.9h0M233.6 487.9h0M235.8 487.0h0M238.0 485.9h0M240.2 484.9h0M242.3 483.8h0M244.5 482.7h0M246.7 481.5h0M248.9 480.3h0M251.0 479.1h0M253.2 477.8h0M255.4 476.6h0M257.6 476.4h0M259.8 476.2h0M261.9 476.0h0M264.1 475.8h0M266.3 475.6h0M268.5 475.5h0M270.6 475.3h0M272.8 475.2h0M275.0 475.2h0M277.2 475.1h0M279.3 475.1h0M281.5 475.1h0M283.7 475.1h0M285.9 475.0h0M288.0 475.0h0M290.2 475.0h0M292.4 475.0h0M294.6 475.0h0M296.8 475.0h0M298.9 474.9h0M301.1 474.9h0M303.3 474.9h0M305.5 474.9h0M307.6 474.9h0M309.8 474.9h0M312.0 474.9h0M314.2 474.9h0M316.3 474.9h0M318.5 474.9h0M320.7 474.9h0" stroke="#0F5A87" stroke-width="4.4" stroke-linecap="round" fill="none"/>
<path d="M59.5 525.1 61.7 525.0 63.9 525.0 66.0 524.9 68.2 524.8 70.4 524.8 72.6 524.7 74.7 524.6 76.9 524.6 79.1 524.5 81.3 524.4 83.4 524.4 85.6 524.3 87.8 524.2 90.0 524.1 92.2 524.1 94.3 524.0 96.5 523.9 98.7 523.8 100.9 523.7 103.0 523.7 105.2 523.6 107.4 523.5 109.6 523.4 111.7 523.3 113.9 523.2 116.1 523.1 118.3 523.0 120.4 522.9 122.6 522.8 124.8 522.7 127.0 522.6 129.2 522.5 131.3 522.4 133.5 522.3 135.7 522.2 137.9 522.1 140.0 522.0 142.2 521.9 144.4 521.8 146.6 521.7 148.7 521.5 150.9 521.4 153.1 521.3 155.3 521.2 157.4 521.0 159.6 520.9 161.8 520.8 164.0 520.7 166.2 520.5 168.3 520.4 170.5 520.3 172.7 520.1 174.9 520.0 177.0 519.8 179.2 505.8 181.4 504.6 183.6 503.4 185.7 502.2 187.9 501.0 190.1 499.8 192.3 498.6 194.5 497.4 196.6 496.2 198.8 494.9 201.0 493.7 203.2 492.5 205.3 507.1 207.5 506.6 209.7 506.1 211.9 505.6 214.0 505.1 216.2 504.5 218.4 504.0 220.6 503.5 222.8 503.0 224.9 502.4 227.1 501.9 229.3 501.3 231.5 500.8 233.6 500.2 235.8 499.6 238.0 499.1 240.2 498.5 242.3 497.9 244.5 497.3 246.7 496.8 248.9 496.2 251.0 495.6 253.2 495.0 255.4 494.4 257.6 493.8 259.8 493.1 261.9 492.5 264.1 491.9 266.3 491.3 268.5 490.7 271.7 489.7 275.0 489.7 277.2 489.7 279.3 489.7 281.5 489.7 283.7 489.7 285.9 489.7 288.0 489.7 290.2 489.7 292.4 489.7 294.6 489.7 296.8 489.7 298.9 489.7 301.1 489.7 303.3 489.7 305.5 489.7 307.6 489.7 309.8 489.7 312.0 489.7 314.2 489.7 316.3 489.7 318.5 489.7 320.7 489.7" stroke="#EBA07A" stroke-width="1.4" fill="none" stroke-linejoin="round"/>
<path d="M59.5 525.1h0M61.7 525.0h0M63.9 525.0h0M66.0 524.9h0M68.2 524.8h0M70.4 524.8h0M72.6 524.7h0M74.7 524.6h0M76.9 524.6h0M79.1 524.5h0M81.3 524.4h0M83.4 524.4h0M85.6 524.3h0M87.8 524.2h0M90.0 524.1h0M92.2 524.1h0M94.3 524.0h0M96.5 523.9h0M98.7 523.8h0M100.9 523.7h0M103.0 523.7h0M105.2 523.6h0M107.4 523.5h0M109.6 523.4h0M111.7 523.3h0M113.9 523.2h0M116.1 523.1h0M118.3 523.0h0M120.4 522.9h0M122.6 522.8h0M124.8 522.7h0M127.0 522.6h0M129.2 522.5h0M131.3 522.4h0M133.5 522.3h0M135.7 522.2h0M137.9 522.1h0M140.0 522.0h0M142.2 521.9h0M144.4 521.8h0M146.6 521.7h0M148.7 521.5h0M150.9 521.4h0M153.1 521.3h0M155.3 521.2h0M157.4 521.0h0M159.6 520.9h0M161.8 520.8h0M164.0 520.7h0M166.2 520.5h0M168.3 520.4h0M170.5 520.3h0M172.7 520.1h0M174.9 520.0h0M177.0 519.8h0M179.2 505.8h0M181.4 504.6h0M183.6 503.4h0M185.7 502.2h0M187.9 501.0h0M190.1 499.8h0M192.3 498.6h0M194.5 497.4h0M196.6 496.2h0M198.8 494.9h0M201.0 493.7h0M203.2 492.5h0M205.3 507.1h0M207.5 506.6h0M209.7 506.1h0M211.9 505.6h0M214.0 505.1h0M216.2 504.5h0M218.4 504.0h0M220.6 503.5h0M222.8 503.0h0M224.9 502.4h0M227.1 501.9h0M229.3 501.3h0M231.5 500.8h0M233.6 500.2h0M235.8 499.6h0M238.0 499.1h0M240.2 498.5h0M242.3 497.9h0M244.5 497.3h0M246.7 496.8h0M248.9 496.2h0M251.0 495.6h0M253.2 495.0h0M255.4 494.4h0M257.6 493.8h0M259.8 493.1h0M261.9 492.5h0M264.1 491.9h0M266.3 491.3h0M268.5 490.7h0M271.7 489.7h0M275.0 489.7h0M277.2 489.7h0M279.3 489.7h0M281.5 489.7h0M283.7 489.7h0M285.9 489.7h0M288.0 489.7h0M290.2 489.7h0M292.4 489.7h0M294.6 489.7h0M296.8 489.7h0M298.9 489.7h0M301.1 489.7h0M303.3 489.7h0M305.5 489.7h0M307.6 489.7h0M309.8 489.7h0M312.0 489.7h0M314.2 489.7h0M316.3 489.7h0M318.5 489.7h0M320.7 489.7h0" stroke="#EBA07A" stroke-width="4.4" stroke-linecap="round" fill="none"/>
<path d="M59.5 525.1 61.7 525.0 63.9 525.0 66.0 524.9 68.2 524.8 70.4 524.8 72.6 524.7 74.7 524.6 76.9 524.6 79.1 524.5 81.3 524.4 83.4 524.4 85.6 524.3 87.8 524.2 90.0 524.1 92.2 524.1 94.3 524.0 96.5 523.9 98.7 523.8 100.9 523.7 103.0 523.7 105.2 523.6 107.4 523.5 109.6 523.4 111.7 523.3 113.9 523.2 116.1 523.1 118.3 523.0 120.4 522.9 122.6 522.8 124.8 522.7 127.0 522.6 129.2 522.5 131.3 522.4 133.5 522.3 135.7 522.2 137.9 522.1 140.0 522.0 142.2 521.9 144.4 521.8 146.6 521.7 148.7 521.5 150.9 521.4 153.1 521.3 155.3 521.2 157.4 521.0 159.6 520.9 161.8 520.8 164.0 520.7 166.2 520.5 168.3 520.4 170.5 520.3 172.7 520.1 174.9 520.0 177.0 519.8 179.2 505.8 181.4 504.7 183.6 503.6 185.7 502.4 187.9 501.3 190.1 500.2 192.3 499.1 194.5 497.9 196.6 496.8 198.8 495.7 201.0 494.6 203.2 493.5 205.3 507.9 207.5 507.4 209.7 506.9 211.9 506.3 214.0 505.8 216.2 505.3 218.4 504.8 220.6 504.3 222.8 503.8 224.9 503.3 227.1 502.8 229.3 502.3 231.5 501.8 233.6 501.4 235.8 500.9 238.0 500.4 240.2 499.9 242.3 499.4 244.5 498.9 246.7 498.5 248.9 498.0 251.0 497.5 253.2 497.0 255.4 496.6 257.6 496.1 259.8 495.6 261.9 495.2 264.1 494.7 266.3 494.2 268.5 493.8 271.7 493.1 275.0 493.1 277.2 493.1 279.3 493.1 281.5 493.1 283.7 493.1 285.9 493.1 288.0 493.1 290.2 493.1 292.4 493.1 294.6 493.1 296.8 493.1 298.9 493.1 301.1 493.1 303.3 493.1 305.5 493.1 307.6 493.1 309.8 493.1 312.0 493.1 314.2 493.1 316.3 493.1 318.5 493.1 320.7 493.1" stroke="#40B066" stroke-width="1.4" fill="none" stroke-linejoin="round"/>
<path d="M59.5 525.1h0M61.7 525.0h0M63.9 525.0h0M66.0 524.9h0M68.2 524.8h0M70.4 524.8h0M72.6 524.7h0M74.7 524.6h0M76.9 524.6h0M79.1 524.5h0M81.3 524.4h0M83.4 524.4h0M85.6 524.3h0M87.8 524.2h0M90.0 524.1h0M92.2 524.1h0M94.3 524.0h0M96.5 523.9h0M98.7 523.8h0M100.9 523.7h0M103.0 523.7h0M105.2 523.6h0M107.4 523.5h0M109.6 523.4h0M111.7 523.3h0M113.9 523.2h0M116.1 523.1h0M118.3 523.0h0M120.4 522.9h0M122.6 522.8h0M124.8 522.7h0M127.0 522.6h0M129.2 522.5h0M131.3 522.4h0M133.5 522.3h0M135.7 522.2h0M137.9 522.1h0M140.0 522.0h0M142.2 521.9h0M144.4 521.8h0M146.6 521.7h0M148.7 521.5h0M150.9 521.4h0M153.1 521.3h0M155.3 521.2h0M157.4 521.0h0M159.6 520.9h0M161.8 520.8h0M164.0 520.7h0M166.2 520.5h0M168.3 520.4h0M170.5 520.3h0M172.7 520.1h0M174.9 520.0h0M177.0 519.8h0M179.2 505.8h0M181.4 504.7h0M183.6 503.6h0M185.7 502.4h0M187.9 501.3h0M190.1 500.2h0M192.3 499.1h0M194.5 497.9h0M196.6 496.8h0M198.8 495.7h0M201.0 494.6h0M203.2 493.5h0M205.3 507.9h0M207.5 507.4h0M209.7 506.9h0M211.9 506.3h0M214.0 505.8h0M216.2 505.3h0M218.4 504.8h0M220.6 504.3h0M222.8 503.8h0M224.9 503.3h0M227.1 502.8h0M229.3 502.3h0M231.5 501.8h0M233.6 501.4h0M235.8 500.9h0M238.0 500.4h0M240.2 499.9h0M242.3 499.4h0M244.5 498.9h0M246.7 498.5h0M248.9 498.0h0M251.0 497.5h0M253.2 497.0h0M255.4 496.6h0M257.6 496.1h0M259.8 495.6h0M261.9 495.2h0M264.1 494.7h0M266.3 494.2h0M268.5 493.8h0M271.7 493.1h0M275.0 493.1h0M277.2 493.1h0M279.3 493.1h0M281.5 493.1h0M283.7 493.1h0M285.9 493.1h0M288.0 493.1h0M290.2 493.1h0M292.4 493.1h0M294.6 493.1h0M296.8 493.1h0M298.9 493.1h0M301.1 493.1h0M303.3 493.1h0M305.5 493.1h0M307.6 493.1h0M309.8 493.1h0M312.0 493.1h0M314.2 493.1h0M316.3 493.1h0M318.5 493.1h0M320.7 493.1h0" stroke="#40B066" stroke-width="4.4" stroke-linecap="round" fill="none"/>
<text x="46.0" y="542.9" font-size="12.5" text-anchor="end" fill="#404040" stroke="#404040" stroke-width="0.22">0.00</text>
<text x="46.0" y="504.6" font-size="12.5" text-anchor="end" fill="#404040" stroke="#404040" stroke-width="0.22">0.05</text>
<text x="46.0" y="466.2" font-size="12.5" text-anchor="end" fill="#404040" stroke="#404040" stroke-width="0.22">0.10</text>
<text x="46.0" y="427.9" font-size="12.5" text-anchor="end" fill="#404040" stroke="#404040" stroke-width="0.22">0.15</text>
<text x="46.0" y="389.5" font-size="12.5" text-anchor="end" fill="#404040" stroke="#404040" stroke-width="0.22">0.20</text>
<text x="46.0" y="351.1" font-size="12.5" text-anchor="end" fill="#404040" stroke="#404040" stroke-width="0.22">0.25</text>
<text x="59.5" y="557.6" font-size="12.5" text-anchor="middle" fill="#404040" stroke="#404040" stroke-width="0.22">0</text>
<text x="81.3" y="557.6" font-size="12.5" text-anchor="middle" fill="#404040" stroke="#404040" stroke-width="0.22">2</text>
<text x="103.0" y="557.6" font-size="12.5" text-anchor="middle" fill="#404040" stroke="#404040" stroke-width="0.22">4</text>
<text x="124.8" y="557.6" font-size="12.5" text-anchor="middle" fill="#404040" stroke="#404040" stroke-width="0.22">6</text>
<text x="146.6" y="557.6" font-size="12.5" text-anchor="middle" fill="#404040" stroke="#404040" stroke-width="0.22">8</text>
<text x="168.3" y="557.6" font-size="12.5" text-anchor="middle" fill="#404040" stroke="#404040" stroke-width="0.22">10</text>
<text x="190.1" y="557.6" font-size="12.5" text-anchor="middle" fill="#404040" stroke="#404040" stroke-width="0.22">12</text>
<text x="211.9" y="557.6" font-size="12.5" text-anchor="middle" fill="#404040" stroke="#404040" stroke-width="0.22">14</text>
<text x="233.6" y="557.6" font-size="12.5" text-anchor="middle" fill="#404040" stroke="#404040" stroke-width="0.22">16</text>
<text x="255.4" y="557.6" font-size="12.5" text-anchor="middle" fill="#404040" stroke="#404040" stroke-width="0.22">18</text>
<text x="277.2" y="557.6" font-size="12.5" text-anchor="middle" fill="#404040" stroke="#404040" stroke-width="0.22">20</text>
<text x="298.9" y="557.6" font-size="12.5" text-anchor="middle" fill="#404040" stroke="#404040" stroke-width="0.22">22</text>
<text x="320.7" y="557.6" font-size="12.5" text-anchor="middle" fill="#404040" stroke="#404040" stroke-width="0.22">24</text>
<text x="174.4" y="576.7" font-size="14" text-anchor="middle" fill="#404040" stroke="#404040" stroke-width="0.22">Distance (cm)</text>
<text transform="translate(17.4,448.1) rotate(-90) scale(1.0,1)" x="0" y="0" font-size="14.3" text-anchor="middle" fill="#404040" stroke="#404040" stroke-width="0.22">Unfrozen water content (m<tspan font-size="8.9" dy="-5.4">3</tspan><tspan dy="5.4">/m</tspan><tspan font-size="8.9" dy="-5.4">3</tspan><tspan dy="5.4">)</tspan></text>
<text x="79.3" y="597.7" font-size="18" fill="#303030">(c)</text>
<text x="116.8" y="597.7" font-size="18" fill="#303030">unfrozen water content</text>
<text x="126.6" y="618.6" font-size="18" fill="#303030">(brick+lime mortar)</text>
<path d="M70.2 325.5H90.2" stroke="#222222" stroke-width="2.0" stroke-dasharray="4,2.4"/>
<text x="92.4" y="329.8" font-size="12.5" fill="#404040" stroke="#404040" stroke-width="0.22">0h</text>
<path d="M135.3 325.5H155.3" stroke="#26A9DF" stroke-width="1.5"/>
<circle cx="145.3" cy="325.5" r="2.5" fill="#26A9DF"/>
<text x="157.5" y="329.8" font-size="12.5" fill="#404040" stroke="#404040" stroke-width="0.22">24h</text>
<path d="M201.0 325.5H221.0" stroke="#E86E32" stroke-width="1.5"/>
<circle cx="211.0" cy="325.5" r="2.5" fill="#E86E32"/>
<text x="223.2" y="329.8" font-size="12.5" fill="#404040" stroke="#404040" stroke-width="0.22">48h</text>
<path d="M266.4 325.5H286.4" stroke="#F8B81E" stroke-width="1.5"/>
<circle cx="276.4" cy="325.5" r="2.5" fill="#F8B81E"/>
<text x="288.6" y="329.8" font-size="12.5" fill="#404040" stroke="#404040" stroke-width="0.22">72h</text>
<path d="M70.2 338.0H90.2" stroke="#0F5A87" stroke-width="1.5"/>
<circle cx="80.2" cy="338.0" r="2.5" fill="#0F5A87"/>
<text x="92.4" y="342.2" font-size="12.5" fill="#404040" stroke="#404040" stroke-width="0.22">240h</text>
<path d="M135.3 338.0H155.3" stroke="#EBA07A" stroke-width="1.5"/>
<circle cx="145.3" cy="338.0" r="2.5" fill="#EBA07A"/>
<text x="157.5" y="342.2" font-size="12.5" fill="#404040" stroke="#404040" stroke-width="0.22">480h</text>
<path d="M201.0 338.0H221.0" stroke="#40B066" stroke-width="1.5"/>
<circle cx="211.0" cy="338.0" r="2.5" fill="#40B066"/>
<text x="223.2" y="342.2" font-size="12.5" fill="#404040" stroke="#404040" stroke-width="0.22">720h</text>
</g>
<g id="panel-d">
<rect x="523.3" y="344.3" width="24.2" height="195.0" fill="#E6E6E6"/>
<path d="M404.5 344.3V539.3M426.0 344.3V539.3M447.5 344.3V539.3M469.0 344.3V539.3M490.5 344.3V539.3M512.0 344.3V539.3M533.5 344.3V539.3M555.0 344.3V539.3M576.5 344.3V539.3M598.0 344.3V539.3M619.5 344.3V539.3M641.0 344.3V539.3M662.5 344.3V539.3M404.5 539.3H662.5M404.5 514.9H662.5M404.5 490.5H662.5M404.5 466.2H662.5M404.5 441.8H662.5M404.5 417.4H662.5M404.5 393.0H662.5M404.5 368.7H662.5M404.5 344.3H662.5" stroke="#D4D4D4" stroke-width="1.1" fill="none"/>
<path d="M404.0 344.3H662.5" stroke="#7C7C7C" stroke-width="1.9" fill="none"/>
<path d="M662.5 344.3V539.3" stroke="#5A5A5A" stroke-width="1.3" fill="none"/>
<path d="M404.5 539.3 406.6 539.3 408.8 539.3 410.9 539.3 413.1 539.3 415.2 539.3 417.4 539.3 419.6 539.3 421.7 539.3 423.9 539.3 426.0 539.3 428.1 539.3 430.3 539.3 432.4 539.3 434.6 539.3 436.8 539.3 438.9 539.3 441.1 539.3 443.2 539.3 445.4 539.3 447.5 539.3 449.6 539.3 451.8 539.3 453.9 539.3 456.1 539.3 458.2 539.3 460.4 539.3 462.6 539.3 464.7 539.3 466.9 539.3 469.0 539.3 471.1 539.3 473.3 539.3 475.4 539.3 477.6 539.3 479.8 539.3 481.9 539.3 484.1 539.3 486.2 539.3 488.4 539.3 490.5 539.3 492.6 539.3 494.8 539.3 496.9 539.3 499.1 539.3 501.2 539.3 503.4 539.3 505.6 539.3 507.7 539.3 509.9 539.3 512.0 539.3 514.1 539.3 516.3 539.3 518.5 539.3 520.6 539.3 522.8 539.3 524.9 539.3 527.0 539.3 529.2 539.3 531.4 539.3 533.5 539.3 535.6 539.3 537.8 539.3 540.0 539.3 542.1 539.3 544.2 539.3 546.4 539.3 548.5 539.3 550.7 539.3 552.9 539.3 555.0 539.3 557.1 539.3 559.3 539.3 561.5 539.3 563.6 539.3 565.8 539.3 567.9 539.3 570.0 539.3 572.2 539.3 574.4 539.3 576.5 539.3 578.6 539.3 580.8 539.3 583.0 539.3 585.1 539.3 587.2 539.3 589.4 539.3 591.5 539.3 593.7 539.3 595.9 539.3 598.0 539.3 600.1 539.3 602.3 539.3 604.5 539.3 606.6 539.3 608.8 539.3 610.9 539.3 613.0 539.3 615.2 539.3 617.4 539.3 619.5 539.3 621.6 539.3 623.8 539.3 626.0 539.3 628.1 539.3 630.2 539.3 632.4 539.3 634.5 539.3 636.7 539.3 638.9 539.3 641.0 539.3 643.1 539.3 645.3 539.3 647.5 539.3 649.6 539.3 651.8 539.3 653.9 539.3 656.0 539.3 658.2 539.3 660.4 539.3 662.5 539.3" stroke="#26A9DF" stroke-width="1.4" fill="none" stroke-linejoin="round"/>
<path d="M404.5 539.3h0M406.6 539.3h0M408.8 539.3h0M410.9 539.3h0M413.1 539.3h0M415.2 539.3h0M417.4 539.3h0M419.6 539.3h0M421.7 539.3h0M423.9 539.3h0M426.0 539.3h0M428.1 539.3h0M430.3 539.3h0M432.4 539.3h0M434.6 539.3h0M436.8 539.3h0M438.9 539.3h0M441.1 539.3h0M443.2 539.3h0M445.4 539.3h0M447.5 539.3h0M449.6 539.3h0M451.8 539.3h0M453.9 539.3h0M456.1 539.3h0M458.2 539.3h0M460.4 539.3h0M462.6 539.3h0M464.7 539.3h0M466.9 539.3h0M469.0 539.3h0M471.1 539.3h0M473.3 539.3h0M475.4 539.3h0M477.6 539.3h0M479.8 539.3h0M481.9 539.3h0M484.1 539.3h0M486.2 539.3h0M488.4 539.3h0M490.5 539.3h0M492.6 539.3h0M494.8 539.3h0M496.9 539.3h0M499.1 539.3h0M501.2 539.3h0M503.4 539.3h0M505.6 539.3h0M507.7 539.3h0M509.9 539.3h0M512.0 539.3h0M514.1 539.3h0M516.3 539.3h0M518.5 539.3h0M520.6 539.3h0M522.8 539.3h0M524.9 539.3h0M527.0 539.3h0M529.2 539.3h0M531.4 539.3h0M533.5 539.3h0M535.6 539.3h0M537.8 539.3h0M540.0 539.3h0M542.1 539.3h0M544.2 539.3h0M546.4 539.3h0M548.5 539.3h0M550.7 539.3h0M552.9 539.3h0M555.0 539.3h0M557.1 539.3h0M559.3 539.3h0M561.5 539.3h0M563.6 539.3h0M565.8 539.3h0M567.9 539.3h0M570.0 539.3h0M572.2 539.3h0M574.4 539.3h0M576.5 539.3h0M578.6 539.3h0M580.8 539.3h0M583.0 539.3h0M585.1 539.3h0M587.2 539.3h0M589.4 539.3h0M591.5 539.3h0M593.7 539.3h0M595.9 539.3h0M598.0 539.3h0M600.1 539.3h0M602.3 539.3h0M604.5 539.3h0M606.6 539.3h0M608.8 539.3h0M610.9 539.3h0M613.0 539.3h0M615.2 539.3h0M617.4 539.3h0M619.5 539.3h0M621.6 539.3h0M623.8 539.3h0M626.0 539.3h0M628.1 539.3h0M630.2 539.3h0M632.4 539.3h0M634.5 539.3h0M636.7 539.3h0M638.9 539.3h0M641.0 539.3h0M643.1 539.3h0M645.3 539.3h0M647.5 539.3h0M649.6 539.3h0M651.8 539.3h0M653.9 539.3h0M656.0 539.3h0M658.2 539.3h0M660.4 539.3h0M662.5 539.3h0" stroke="#26A9DF" stroke-width="4.4" stroke-linecap="round" fill="none"/>
<path d="M404.5 401.4 406.6 402.0 408.8 402.7 410.9 403.3 413.1 403.9 415.2 404.5 417.4 405.1 420.6 406.0 423.9 403.3 426.0 405.1 428.1 407.0 430.3 409.1 432.4 411.2 434.6 413.4 436.3 415.1 438.0 417.0 439.9 441.7 442.1 483.3 445.4 484.2 447.5 484.6 449.6 485.1 451.8 485.5 453.9 485.9 456.1 486.2 458.2 486.6 460.4 486.9 462.6 487.2 464.7 487.4 466.9 487.7 469.0 488.0 471.1 488.2 473.3 488.5 475.4 488.8 477.6 489.0 479.8 489.3 481.9 489.6 484.1 490.0 486.2 490.3 488.4 490.7 490.5 491.1 492.6 491.6 494.8 492.1 496.9 492.7 499.1 493.2 500.6 493.7 503.4 494.6 505.6 495.4 507.7 496.2 509.9 497.1 512.0 498.1 514.1 499.1 517.4 500.8 519.5 539.3 522.4 522.7 525.1 497.9 527.4 501.8 530.3 507.1 533.5 513.9 536.3 519.3 539.1 525.2 541.9 529.5 544.6 533.9 547.0 534.9 549.3 536.4 550.7 539.3 552.9 539.3 555.0 539.3 557.1 539.3 559.3 539.3 561.5 539.3 563.6 539.3 565.8 539.3 567.9 539.3 570.0 539.3 572.2 539.3 574.4 539.3 576.5 539.3 578.6 539.3 580.8 539.3 583.0 539.3 585.1 539.3 587.2 539.3 589.4 539.3 591.5 539.3 593.7 539.3 595.9 539.3 598.0 539.3 600.1 539.3 602.3 539.3 604.5 539.3 606.6 539.3 608.8 539.3 610.9 539.3 613.0 539.3 615.2 539.3 617.4 539.3 619.5 539.3 621.6 539.3 623.8 539.3 626.0 539.3 628.1 539.3 630.2 539.3 632.4 539.3 634.5 539.3 636.7 539.3 638.9 539.3 641.0 539.3 643.1 539.3 645.3 539.3 647.5 539.3 649.6 539.3 651.8 539.3 653.9 539.3 656.0 539.3 658.2 539.3 660.4 539.3 662.5 539.3" stroke="#E86E32" stroke-width="1.4" fill="none" stroke-linejoin="round"/>
<path d="M404.5 401.4h0M406.6 402.0h0M408.8 402.7h0M410.9 403.3h0M413.1 403.9h0M415.2 404.5h0M417.4 405.1h0M420.6 406.0h0M423.9 403.3h0M426.0 405.1h0M428.1 407.0h0M430.3 409.1h0M432.4 411.2h0M434.6 413.4h0M436.3 415.1h0M438.0 417.0h0M439.9 441.7h0M442.1 483.3h0M445.4 484.2h0M447.5 484.6h0M449.6 485.1h0M451.8 485.5h0M453.9 485.9h0M456.1 486.2h0M458.2 486.6h0M460.4 486.9h0M462.6 487.2h0M464.7 487.4h0M466.9 487.7h0M469.0 488.0h0M471.1 488.2h0M473.3 488.5h0M475.4 488.8h0M477.6 489.0h0M479.8 489.3h0M481.9 489.6h0M484.1 490.0h0M486.2 490.3h0M488.4 490.7h0M490.5 491.1h0M492.6 491.6h0M494.8 492.1h0M496.9 492.7h0M499.1 493.2h0M500.6 493.7h0M503.4 494.6h0M505.6 495.4h0M507.7 496.2h0M509.9 497.1h0M512.0 498.1h0M514.1 499.1h0M517.4 500.8h0M519.5 539.3h0M522.4 522.7h0M525.1 497.9h0M527.4 501.8h0M530.3 507.1h0M533.5 513.9h0M536.3 519.3h0M539.1 525.2h0M541.9 529.5h0M544.6 533.9h0M547.0 534.9h0M549.3 536.4h0M550.7 539.3h0M552.9 539.3h0M555.0 539.3h0M557.1 539.3h0M559.3 539.3h0M561.5 539.3h0M563.6 539.3h0M565.8 539.3h0M567.9 539.3h0M570.0 539.3h0M572.2 539.3h0M574.4 539.3h0M576.5 539.3h0M578.6 539.3h0M580.8 539.3h0M583.0 539.3h0M585.1 539.3h0M587.2 539.3h0M589.4 539.3h0M591.5 539.3h0M593.7 539.3h0M595.9 539.3h0M598.0 539.3h0M600.1 539.3h0M602.3 539.3h0M604.5 539.3h0M606.6 539.3h0M608.8 539.3h0M610.9 539.3h0M613.0 539.3h0M615.2 539.3h0M617.4 539.3h0M619.5 539.3h0M621.6 539.3h0M623.8 539.3h0M626.0 539.3h0M628.1 539.3h0M630.2 539.3h0M632.4 539.3h0M634.5 539.3h0M636.7 539.3h0M638.9 539.3h0M641.0 539.3h0M643.1 539.3h0M645.3 539.3h0M647.5 539.3h0M649.6 539.3h0M651.8 539.3h0M653.9 539.3h0M656.0 539.3h0M658.2 539.3h0M660.4 539.3h0M662.5 539.3h0" stroke="#E86E32" stroke-width="4.4" stroke-linecap="round" fill="none"/>
<path d="M404.5 397.1 406.6 397.3 408.8 397.5 410.9 397.7 413.1 397.9 415.2 398.2 417.4 398.5 419.6 398.7 421.7 399.0 423.9 399.3 426.0 399.6 428.1 400.0 430.3 400.3 432.4 400.7 434.6 401.1 436.8 401.5 438.9 401.9 441.1 402.4 443.2 402.9 445.4 403.4 447.5 403.9 449.6 404.4 451.8 405.0 454.3 405.6 456.0 418.9 457.9 475.8 460.4 476.2 462.6 476.6 464.7 476.9 466.9 477.3 469.0 477.6 471.1 478.0 473.3 478.3 475.4 478.6 477.6 478.9 479.8 479.2 481.9 479.5 484.1 479.8 486.2 480.1 488.4 480.3 490.5 480.6 492.6 480.8 494.8 481.0 496.9 481.2 499.1 481.4 501.2 481.6 503.4 481.8 505.6 482.0 507.7 482.2 509.9 482.3 512.0 482.5 514.8 518.1 516.7 539.3 518.5 539.3 520.6 539.3 522.8 539.3 525.1 499.3 527.4 481.3 530.3 485.2 533.5 490.1 536.3 494.4 539.1 498.3 541.9 507.1 544.6 480.8 549.6 445.2 552.3 498.5 554.7 528.3 557.1 528.8 559.3 529.3 561.5 529.7 563.6 530.1 565.8 530.6 567.9 531.0 570.0 531.4 572.2 531.9 574.4 532.3 576.5 532.7 578.6 533.2 580.8 533.6 583.0 534.0 585.1 534.5 587.2 534.9 589.4 535.3 592.2 535.9 596.9 539.3 600.1 539.3 602.3 539.3 604.5 539.3 606.6 539.3 608.8 539.3 610.9 539.3 613.0 539.3 615.2 539.3 617.4 539.3 619.5 539.3 621.6 539.3 623.8 539.3 626.0 539.3 628.1 539.3 630.2 539.3 632.4 539.3 634.5 539.3 636.7 539.3 638.9 539.3 641.0 539.3 643.1 539.3 645.3 539.3 647.5 539.3 649.6 539.3 651.8 539.3 653.9 539.3 656.0 539.3 658.2 539.3 660.4 539.3 662.5 539.3" stroke="#F8B81E" stroke-width="1.4" fill="none" stroke-linejoin="round"/>
<path d="M404.5 397.1h0M406.6 397.3h0M408.8 397.5h0M410.9 397.7h0M413.1 397.9h0M415.2 398.2h0M417.4 398.5h0M419.6 398.7h0M421.7 399.0h0M423.9 399.3h0M426.0 399.6h0M428.1 400.0h0M430.3 400.3h0M432.4 400.7h0M434.6 401.1h0M436.8 401.5h0M438.9 401.9h0M441.1 402.4h0M443.2 402.9h0M445.4 403.4h0M447.5 403.9h0M449.6 404.4h0M451.8 405.0h0M454.3 405.6h0M456.0 418.9h0M457.9 475.8h0M460.4 476.2h0M462.6 476.6h0M464.7 476.9h0M466.9 477.3h0M469.0 477.6h0M471.1 478.0h0M473.3 478.3h0M475.4 478.6h0M477.6 478.9h0M479.8 479.2h0M481.9 479.5h0M484.1 479.8h0M486.2 480.1h0M488.4 480.3h0M490.5 480.6h0M492.6 480.8h0M494.8 481.0h0M496.9 481.2h0M499.1 481.4h0M501.2 481.6h0M503.4 481.8h0M505.6 482.0h0M507.7 482.2h0M509.9 482.3h0M512.0 482.5h0M514.8 518.1h0M516.7 539.3h0M518.5 539.3h0M520.6 539.3h0M522.8 539.3h0M525.1 499.3h0M527.4 481.3h0M530.3 485.2h0M533.5 490.1h0M536.3 494.4h0M539.1 498.3h0M541.9 507.1h0M544.6 480.8h0M549.6 445.2h0M552.3 498.5h0M554.7 528.3h0M557.1 528.8h0M559.3 529.3h0M561.5 529.7h0M563.6 530.1h0M565.8 530.6h0M567.9 531.0h0M570.0 531.4h0M572.2 531.9h0M574.4 532.3h0M576.5 532.7h0M578.6 533.2h0M580.8 533.6h0M583.0 534.0h0M585.1 534.5h0M587.2 534.9h0M589.4 535.3h0M592.2 535.9h0M596.9 539.3h0M600.1 539.3h0M602.3 539.3h0M604.5 539.3h0M606.6 539.3h0M608.8 539.3h0M610.9 539.3h0M613.0 539.3h0M615.2 539.3h0M617.4 539.3h0M619.5 539.3h0M621.6 539.3h0M623.8 539.3h0M626.0 539.3h0M628.1 539.3h0M630.2 539.3h0M632.4 539.3h0M634.5 539.3h0M636.7 539.3h0M638.9 539.3h0M641.0 539.3h0M643.1 539.3h0M645.3 539.3h0M647.5 539.3h0M649.6 539.3h0M651.8 539.3h0M653.9 539.3h0M656.0 539.3h0M658.2 539.3h0M660.4 539.3h0M662.5 539.3h0" stroke="#F8B81E" stroke-width="4.4" stroke-linecap="round" fill="none"/>
<path d="M404.5 393.3 406.6 393.4 408.8 393.5 410.9 393.6 413.1 393.7 415.2 393.8 417.4 393.9 419.6 393.9 421.7 394.0 423.9 394.1 426.0 394.2 428.1 394.3 430.3 394.4 432.4 394.5 434.6 394.5 436.8 394.6 438.9 394.7 441.1 394.8 443.2 394.9 445.4 395.0 447.5 395.1 449.6 395.1 451.8 395.2 453.9 395.3 456.1 395.4 458.2 395.5 460.4 395.6 462.6 395.7 464.7 395.7 466.9 395.8 469.0 395.9 471.1 396.0 473.3 396.1 475.4 396.2 477.6 396.3 479.8 396.4 481.9 396.4 484.1 396.5 486.2 396.6 488.4 396.7 490.5 396.8 492.6 396.9 494.8 397.0 496.9 397.0 499.6 397.1 502.5 400.9 504.0 539.3 505.6 539.3 507.7 539.3 509.9 539.3 512.0 539.3 514.1 539.3 516.3 539.3 518.5 539.3 520.6 539.3 522.8 539.3 524.9 539.3 527.4 475.9 530.3 453.5 533.5 451.1 536.3 451.1 539.1 452.5 541.9 442.8 544.6 467.1 547.0 383.3 549.3 408.2 550.7 408.5 552.9 409.1 555.0 409.7 557.1 410.2 559.3 410.8 561.5 411.4 563.6 411.9 565.8 412.5 567.9 413.1 570.0 413.6 572.2 414.2 574.4 414.8 576.5 415.3 578.6 415.9 580.8 416.5 583.0 417.1 585.1 417.6 587.2 418.2 589.4 418.8 591.5 419.3 593.7 419.9 595.4 420.4 598.0 518.8 599.8 539.3 602.3 539.3 604.5 539.3 606.6 539.3 608.8 539.3 610.9 539.3 613.0 539.3 615.2 539.3 617.4 539.3 619.5 539.3 621.6 539.3 623.8 539.3 626.0 539.3 628.1 539.3 630.2 539.3 632.4 539.3 634.5 539.3 636.7 539.3 638.9 539.3 641.0 539.3 643.1 539.3 645.3 539.3 647.5 539.3 649.6 539.3 651.8 539.3 653.9 539.3 656.0 539.3 658.2 539.3 660.4 539.3 662.5 539.3" stroke="#0F5A87" stroke-width="1.4" fill="none" stroke-linejoin="round"/>
<path d="M404.5 393.3h0M406.6 393.4h0M408.8 393.5h0M410.9 393.6h0M413.1 393.7h0M415.2 393.8h0M417.4 393.9h0M419.6 393.9h0M421.7 394.0h0M423.9 394.1h0M426.0 394.2h0M428.1 394.3h0M430.3 394.4h0M432.4 394.5h0M434.6 394.5h0M436.8 394.6h0M438.9 394.7h0M441.1 394.8h0M443.2 394.9h0M445.4 395.0h0M447.5 395.1h0M449.6 395.1h0M451.8 395.2h0M453.9 395.3h0M456.1 395.4h0M458.2 395.5h0M460.4 395.6h0M462.6 395.7h0M464.7 395.7h0M466.9 395.8h0M469.0 395.9h0M471.1 396.0h0M473.3 396.1h0M475.4 396.2h0M477.6 396.3h0M479.8 396.4h0M481.9 396.4h0M484.1 396.5h0M486.2 396.6h0M488.4 396.7h0M490.5 396.8h0M492.6 396.9h0M494.8 397.0h0M496.9 397.0h0M499.6 397.1h0M502.5 400.9h0M504.0 539.3h0M505.6 539.3h0M507.7 539.3h0M509.9 539.3h0M512.0 539.3h0M514.1 539.3h0M516.3 539.3h0M518.5 539.3h0M520.6 539.3h0M522.8 539.3h0M524.9 539.3h0M527.4 475.9h0M530.3 453.5h0M533.5 451.1h0M536.3 451.1h0M539.1 452.5h0M541.9 442.8h0M544.6 467.1h0M547.0 383.3h0M549.3 408.2h0M550.7 408.5h0M552.9 409.1h0M555.0 409.7h0M557.1 410.2h0M559.3 410.8h0M561.5 411.4h0M563.6 411.9h0M565.8 412.5h0M567.9 413.1h0M570.0 413.6h0M572.2 414.2h0M574.4 414.8h0M576.5 415.3h0M578.6 415.9h0M580.8 416.5h0M583.0 417.1h0M585.1 417.6h0M587.2 418.2h0M589.4 418.8h0M591.5 419.3h0M593.7 419.9h0M595.4 420.4h0M598.0 518.8h0M599.8 539.3h0M602.3 539.3h0M604.5 539.3h0M606.6 539.3h0M608.8 539.3h0M610.9 539.3h0M613.0 539.3h0M615.2 539.3h0M617.4 539.3h0M619.5 539.3h0M621.6 539.3h0M623.8 539.3h0M626.0 539.3h0M628.1 539.3h0M630.2 539.3h0M632.4 539.3h0M634.5 539.3h0M636.7 539.3h0M638.9 539.3h0M641.0 539.3h0M643.1 539.3h0M645.3 539.3h0M647.5 539.3h0M649.6 539.3h0M651.8 539.3h0M653.9 539.3h0M656.0 539.3h0M658.2 539.3h0M660.4 539.3h0M662.5 539.3h0" stroke="#0F5A87" stroke-width="4.4" stroke-linecap="round" fill="none"/>
<path d="M404.5 392.6 406.6 392.6 408.8 392.7 410.9 392.7 413.1 392.8 415.2 392.8 417.4 392.9 419.6 392.9 421.7 393.0 423.9 393.0 426.0 393.1 428.1 393.1 430.3 393.2 432.4 393.2 434.6 393.3 436.8 393.3 438.9 393.4 441.1 393.4 443.2 393.5 445.4 393.5 447.5 393.6 449.6 393.6 451.8 393.7 453.9 393.7 456.1 393.8 458.2 393.8 460.4 393.9 462.6 393.9 464.7 394.0 466.9 394.0 469.0 394.1 471.1 394.1 473.3 394.2 475.4 394.2 477.6 394.3 479.8 394.3 481.9 394.4 484.1 394.4 486.2 394.5 488.4 394.5 490.5 394.6 492.6 394.6 494.8 394.7 496.9 394.7 499.1 394.8 502.3 394.9 503.8 473.8 505.3 539.3 507.7 539.3 509.9 539.3 512.0 539.3 514.1 539.3 516.3 539.3 518.5 539.3 520.6 539.3 522.8 539.3 526.0 539.3 528.4 519.8 530.3 448.1 533.5 443.8 536.3 443.3 539.1 445.2 541.9 436.9 544.6 463.7 547.0 369.2 549.3 403.8 550.7 404.0 552.9 404.3 555.0 404.6 557.1 404.9 559.3 405.2 561.5 405.5 563.6 405.8 565.8 406.1 567.9 406.4 570.0 406.7 572.2 407.0 574.4 407.3 576.5 407.6 578.6 407.9 580.8 408.2 583.0 408.5 585.1 408.8 587.2 409.1 589.4 409.4 591.5 409.7 593.7 410.0 595.9 410.3 598.0 410.6 600.1 410.9 602.3 411.2 604.5 411.5 606.6 411.8 608.8 412.1 612.0 412.5 614.1 534.4 615.2 539.3 617.4 539.3 619.5 539.3 621.6 539.3 623.8 539.3 626.0 539.3 628.1 539.3 630.2 539.3 632.4 539.3 634.5 539.3 636.7 539.3 638.9 539.3 641.0 539.3 643.1 539.3 645.3 539.3 647.5 539.3 649.6 539.3 651.8 539.3 653.9 539.3 656.0 539.3 658.2 539.3 660.4 539.3 662.5 539.3" stroke="#EBA07A" stroke-width="1.4" fill="none" stroke-linejoin="round"/>
<path d="M404.5 392.6h0M406.6 392.6h0M408.8 392.7h0M410.9 392.7h0M413.1 392.8h0M415.2 392.8h0M417.4 392.9h0M419.6 392.9h0M421.7 393.0h0M423.9 393.0h0M426.0 393.1h0M428.1 393.1h0M430.3 393.2h0M432.4 393.2h0M434.6 393.3h0M436.8 393.3h0M438.9 393.4h0M441.1 393.4h0M443.2 393.5h0M445.4 393.5h0M447.5 393.6h0M449.6 393.6h0M451.8 393.7h0M453.9 393.7h0M456.1 393.8h0M458.2 393.8h0M460.4 393.9h0M462.6 393.9h0M464.7 394.0h0M466.9 394.0h0M469.0 394.1h0M471.1 394.1h0M473.3 394.2h0M475.4 394.2h0M477.6 394.3h0M479.8 394.3h0M481.9 394.4h0M484.1 394.4h0M486.2 394.5h0M488.4 394.5h0M490.5 394.6h0M492.6 394.6h0M494.8 394.7h0M496.9 394.7h0M499.1 394.8h0M502.3 394.9h0M503.8 473.8h0M505.3 539.3h0M507.7 539.3h0M509.9 539.3h0M512.0 539.3h0M514.1 539.3h0M516.3 539.3h0M518.5 539.3h0M520.6 539.3h0M522.8 539.3h0M526.0 539.3h0M528.4 519.8h0M530.3 448.1h0M533.5 443.8h0M536.3 443.3h0M539.1 445.2h0M541.9 436.9h0M544.6 463.7h0M547.0 369.2h0M549.3 403.8h0M550.7 404.0h0M552.9 404.3h0M555.0 404.6h0M557.1 404.9h0M559.3 405.2h0M561.5 405.5h0M563.6 405.8h0M565.8 406.1h0M567.9 406.4h0M570.0 406.7h0M572.2 407.0h0M574.4 407.3h0M576.5 407.6h0M578.6 407.9h0M580.8 408.2h0M583.0 408.5h0M585.1 408.8h0M587.2 409.1h0M589.4 409.4h0M591.5 409.7h0M593.7 410.0h0M595.9 410.3h0M598.0 410.6h0M600.1 410.9h0M602.3 411.2h0M604.5 411.5h0M606.6 411.8h0M608.8 412.1h0M612.0 412.5h0M614.1 534.4h0M615.2 539.3h0M617.4 539.3h0M619.5 539.3h0M621.6 539.3h0M623.8 539.3h0M626.0 539.3h0M628.1 539.3h0M630.2 539.3h0M632.4 539.3h0M634.5 539.3h0M636.7 539.3h0M638.9 539.3h0M641.0 539.3h0M643.1 539.3h0M645.3 539.3h0M647.5 539.3h0M649.6 539.3h0M651.8 539.3h0M653.9 539.3h0M656.0 539.3h0M658.2 539.3h0M660.4 539.3h0M662.5 539.3h0" stroke="#EBA07A" stroke-width="4.4" stroke-linecap="round" fill="none"/>
<path d="M404.5 392.4 406.6 392.4 408.8 392.5 410.9 392.5 413.1 392.5 415.2 392.6 417.4 392.6 419.6 392.7 421.7 392.7 423.9 392.8 426.0 392.8 428.1 392.8 430.3 392.9 432.4 392.9 434.6 393.0 436.8 393.0 438.9 393.1 441.1 393.1 443.2 393.1 445.4 393.2 447.5 393.2 449.6 393.3 451.8 393.3 453.9 393.4 456.1 393.4 458.2 393.4 460.4 393.5 462.6 393.5 464.7 393.6 466.9 393.6 469.0 393.7 471.1 393.7 473.3 393.8 475.4 393.8 477.6 393.8 479.8 393.9 481.9 393.9 484.1 394.0 486.2 394.0 488.4 394.1 490.5 394.1 492.6 394.1 494.8 394.2 496.9 394.2 499.1 394.3 501.2 457.4 503.4 539.3 505.6 539.3 507.7 539.3 509.9 539.3 512.0 539.3 514.1 539.3 516.3 539.3 518.5 539.3 520.6 539.3 522.8 539.3 524.9 539.3 526.2 539.3 528.4 523.7 531.2 451.6 533.5 444.7 536.3 444.2 539.1 446.2 541.9 435.9 544.6 461.8 547.0 363.5 549.3 402.8 550.7 403.0 552.9 403.3 555.0 403.6 557.1 403.9 559.3 404.2 561.5 404.5 563.6 404.8 565.8 405.1 567.9 405.3 570.0 405.6 572.2 405.9 574.4 406.2 576.5 406.5 578.6 406.8 580.8 407.1 583.0 407.4 585.1 407.7 587.2 408.0 589.4 408.3 591.5 408.6 593.7 408.9 595.9 409.2 598.0 409.5 600.1 409.8 602.3 410.1 604.5 410.3 606.6 410.6 608.8 410.9 611.7 411.3 614.4 499.3 616.0 539.3 617.4 539.3 619.5 539.3 621.6 539.3 623.8 539.3 626.0 539.3 628.1 539.3 630.2 539.3 632.4 539.3 634.5 539.3 636.7 539.3 638.9 539.3 641.0 539.3 643.1 539.3 645.3 539.3 647.5 539.3 649.6 539.3 651.8 539.3 653.9 539.3 656.0 539.3 658.2 539.3 660.4 539.3 662.5 539.3" stroke="#40B066" stroke-width="1.4" fill="none" stroke-linejoin="round"/>
<path d="M404.5 392.4h0M406.6 392.4h0M408.8 392.5h0M410.9 392.5h0M413.1 392.5h0M415.2 392.6h0M417.4 392.6h0M419.6 392.7h0M421.7 392.7h0M423.9 392.8h0M426.0 392.8h0M428.1 392.8h0M430.3 392.9h0M432.4 392.9h0M434.6 393.0h0M436.8 393.0h0M438.9 393.1h0M441.1 393.1h0M443.2 393.1h0M445.4 393.2h0M447.5 393.2h0M449.6 393.3h0M451.8 393.3h0M453.9 393.4h0M456.1 393.4h0M458.2 393.4h0M460.4 393.5h0M462.6 393.5h0M464.7 393.6h0M466.9 393.6h0M469.0 393.7h0M471.1 393.7h0M473.3 393.8h0M475.4 393.8h0M477.6 393.8h0M479.8 393.9h0M481.9 393.9h0M484.1 394.0h0M486.2 394.0h0M488.4 394.1h0M490.5 394.1h0M492.6 394.1h0M494.8 394.2h0M496.9 394.2h0M499.1 394.3h0M501.2 457.4h0M503.4 539.3h0M505.6 539.3h0M507.7 539.3h0M509.9 539.3h0M512.0 539.3h0M514.1 539.3h0M516.3 539.3h0M518.5 539.3h0M520.6 539.3h0M522.8 539.3h0M524.9 539.3h0M526.2 539.3h0M528.4 523.7h0M531.2 451.6h0M533.5 444.7h0M536.3 444.2h0M539.1 446.2h0M541.9 435.9h0M544.6 461.8h0M547.0 363.5h0M549.3 402.8h0M550.7 403.0h0M552.9 403.3h0M555.0 403.6h0M557.1 403.9h0M559.3 404.2h0M561.5 404.5h0M563.6 404.8h0M565.8 405.1h0M567.9 405.3h0M570.0 405.6h0M572.2 405.9h0M574.4 406.2h0M576.5 406.5h0M578.6 406.8h0M580.8 407.1h0M583.0 407.4h0M585.1 407.7h0M587.2 408.0h0M589.4 408.3h0M591.5 408.6h0M593.7 408.9h0M595.9 409.2h0M598.0 409.5h0M600.1 409.8h0M602.3 410.1h0M604.5 410.3h0M606.6 410.6h0M608.8 410.9h0M611.7 411.3h0M614.4 499.3h0M616.0 539.3h0M617.4 539.3h0M619.5 539.3h0M621.6 539.3h0M623.8 539.3h0M626.0 539.3h0M628.1 539.3h0M630.2 539.3h0M632.4 539.3h0M634.5 539.3h0M636.7 539.3h0M638.9 539.3h0M641.0 539.3h0M643.1 539.3h0M645.3 539.3h0M647.5 539.3h0M649.6 539.3h0M651.8 539.3h0M653.9 539.3h0M656.0 539.3h0M658.2 539.3h0M660.4 539.3h0M662.5 539.3h0" stroke="#40B066" stroke-width="4.4" stroke-linecap="round" fill="none"/>
<text x="392.0" y="543.0" font-size="12.5" text-anchor="end" fill="#404040" stroke="#404040" stroke-width="0.22">0.00</text>
<text x="392.0" y="518.7" font-size="12.5" text-anchor="end" fill="#404040" stroke="#404040" stroke-width="0.22">0.05</text>
<text x="392.0" y="494.3" font-size="12.5" text-anchor="end" fill="#404040" stroke="#404040" stroke-width="0.22">0.10</text>
<text x="392.0" y="469.9" font-size="12.5" text-anchor="end" fill="#404040" stroke="#404040" stroke-width="0.22">0.15</text>
<text x="392.0" y="445.5" font-size="12.5" text-anchor="end" fill="#404040" stroke="#404040" stroke-width="0.22">0.20</text>
<text x="392.0" y="421.2" font-size="12.5" text-anchor="end" fill="#404040" stroke="#404040" stroke-width="0.22">0.25</text>
<text x="392.0" y="396.8" font-size="12.5" text-anchor="end" fill="#404040" stroke="#404040" stroke-width="0.22">0.30</text>
<text x="392.0" y="372.4" font-size="12.5" text-anchor="end" fill="#404040" stroke="#404040" stroke-width="0.22">0.35</text>
<text x="392.0" y="348.1" font-size="12.5" text-anchor="end" fill="#404040" stroke="#404040" stroke-width="0.22">0.40</text>
<text x="404.5" y="557.5" font-size="12.5" text-anchor="middle" fill="#404040" stroke="#404040" stroke-width="0.22">0</text>
<text x="426.0" y="557.5" font-size="12.5" text-anchor="middle" fill="#404040" stroke="#404040" stroke-width="0.22">2</text>
<text x="447.5" y="557.5" font-size="12.5" text-anchor="middle" fill="#404040" stroke="#404040" stroke-width="0.22">4</text>
<text x="469.0" y="557.5" font-size="12.5" text-anchor="middle" fill="#404040" stroke="#404040" stroke-width="0.22">6</text>
<text x="490.5" y="557.5" font-size="12.5" text-anchor="middle" fill="#404040" stroke="#404040" stroke-width="0.22">8</text>
<text x="512.0" y="557.5" font-size="12.5" text-anchor="middle" fill="#404040" stroke="#404040" stroke-width="0.22">10</text>
<text x="533.5" y="557.5" font-size="12.5" text-anchor="middle" fill="#404040" stroke="#404040" stroke-width="0.22">12</text>
<text x="555.0" y="557.5" font-size="12.5" text-anchor="middle" fill="#404040" stroke="#404040" stroke-width="0.22">14</text>
<text x="576.5" y="557.5" font-size="12.5" text-anchor="middle" fill="#404040" stroke="#404040" stroke-width="0.22">16</text>
<text x="598.0" y="557.5" font-size="12.5" text-anchor="middle" fill="#404040" stroke="#404040" stroke-width="0.22">18</text>
<text x="619.5" y="557.5" font-size="12.5" text-anchor="middle" fill="#404040" stroke="#404040" stroke-width="0.22">20</text>
<text x="641.0" y="557.5" font-size="12.5" text-anchor="middle" fill="#404040" stroke="#404040" stroke-width="0.22">22</text>
<text x="662.5" y="557.5" font-size="12.5" text-anchor="middle" fill="#404040" stroke="#404040" stroke-width="0.22">24</text>
<text x="533.4" y="572.0" font-size="13.7" text-anchor="middle" fill="#404040" stroke="#404040" stroke-width="0.22">Distance (cm)</text>
<text transform="translate(363.4,441.8) rotate(-90) scale(0.99,1)" x="0" y="0" font-size="14.2" text-anchor="middle" fill="#404040" stroke="#404040" stroke-width="0.22">Ice content (m<tspan font-size="8.8" dy="-5.4">3</tspan><tspan dy="5.4">/m</tspan><tspan font-size="8.8" dy="-5.4">3</tspan><tspan dy="5.4">)</tspan></text>
<text x="471.0" y="598.6" font-size="18" fill="#303030">(d)</text>
<text x="508.0" y="598.6" font-size="18" fill="#303030">ice content</text>
<text x="474.5" y="618.7" font-size="18.2" fill="#303030">(brick+lime mortar)</text>
<path d="M393.5 331.5H407.5" stroke="#26A9DF" stroke-width="1.5"/>
<circle cx="400.5" cy="331.5" r="2.5" fill="#26A9DF"/>
<text x="409.0" y="335.8" font-size="12.5" fill="#404040" stroke="#404040" stroke-width="0.22">24h</text>
<path d="M435.7 331.5H449.7" stroke="#E86E32" stroke-width="1.5"/>
<circle cx="442.7" cy="331.5" r="2.5" fill="#E86E32"/>
<text x="451.2" y="335.8" font-size="12.5" fill="#404040" stroke="#404040" stroke-width="0.22">48h</text>
<path d="M477.1 331.5H491.1" stroke="#F8B81E" stroke-width="1.5"/>
<circle cx="484.1" cy="331.5" r="2.5" fill="#F8B81E"/>
<text x="492.6" y="335.8" font-size="12.5" fill="#404040" stroke="#404040" stroke-width="0.22">72h</text>
<path d="M519.7 331.5H533.7" stroke="#0F5A87" stroke-width="1.5"/>
<circle cx="526.7" cy="331.5" r="2.5" fill="#0F5A87"/>
<text x="535.2" y="335.8" font-size="12.5" fill="#404040" stroke="#404040" stroke-width="0.22">240h</text>
<path d="M567.5 331.5H581.5" stroke="#EBA07A" stroke-width="1.5"/>
<circle cx="574.5" cy="331.5" r="2.5" fill="#EBA07A"/>
<text x="583.0" y="335.8" font-size="12.5" fill="#404040" stroke="#404040" stroke-width="0.22">480h</text>
<path d="M615.3 331.5H629.3" stroke="#40B066" stroke-width="1.5"/>
<circle cx="622.3" cy="331.5" r="2.5" fill="#40B066"/>
<text x="630.8" y="335.8" font-size="12.5" fill="#404040" stroke="#404040" stroke-width="0.22">720h</text>
</g>
<g id="panel-e">
<rect x="172.9" y="651.3" width="26.1" height="189.9" fill="#EEF0F3"/>
<path d="M58.8 651.3V841.2M79.9 651.3V841.2M101.0 651.3V841.2M122.1 651.3V841.2M143.2 651.3V841.2M164.3 651.3V841.2M185.3 651.3V841.2M206.4 651.3V841.2M227.5 651.3V841.2M248.6 651.3V841.2M269.7 651.3V841.2M290.8 651.3V841.2M311.9 651.3V841.2M58.8 841.2H311.9M58.8 803.2H311.9M58.8 765.2H311.9M58.8 727.3H311.9M58.8 689.3H311.9M58.8 651.3H311.9" stroke="#D9DCE3" stroke-width="1.1" fill="none"/>
<path d="M58.3 651.3H311.9" stroke="#8A8E94" stroke-width="1.9" fill="none"/>
<path d="M311.9 651.3V841.2" stroke="#6E7175" stroke-width="1.3" fill="none"/>
<path d="M58.8 723.5 172.7 723.5 174.8 706.8 199.1 706.8 201.2 723.5 311.9 723.5" stroke="#222222" stroke-width="1.3" stroke-dasharray="3.2,1.5" fill="none"/>
<path d="M58.8 678.8 60.9 678.8 63.0 678.9 65.1 678.9 67.2 679.0 69.3 679.1 71.5 679.1 73.6 679.2 75.7 679.3 77.8 679.4 79.9 679.5 82.0 679.6 84.1 679.7 86.2 679.8 88.3 679.9 90.4 680.0 92.5 680.1 94.7 680.2 96.8 680.3 98.9 680.4 101.0 680.5 103.1 680.7 105.2 680.8 107.3 681.0 109.4 681.1 111.5 681.3 113.6 681.5 115.7 681.6 117.9 681.8 120.0 682.0 122.1 682.2 124.2 682.4 126.3 682.6 128.4 682.8 130.5 683.0 132.6 683.2 134.7 683.4 136.8 683.6 138.9 683.8 141.1 684.0 143.2 684.1 145.3 684.3 147.4 684.4 149.5 684.6 151.6 684.7 153.7 684.9 155.8 685.0 157.9 685.2 160.0 685.3 162.1 685.4 164.3 685.6 166.4 685.7 168.5 685.8 170.6 686.0 172.4 686.1 174.3 701.8 176.9 702.3 179.0 702.6 181.1 703.0 183.2 703.3 185.3 703.7 187.5 704.0 189.6 704.4 191.7 704.7 193.8 705.1 195.9 705.5 199.1 706.0 201.2 713.4 204.3 714.3 206.4 714.9 208.6 715.4 210.7 716.0 212.8 716.5 214.9 716.9 217.0 717.4 219.1 717.8 221.2 718.2 223.3 718.5 225.4 718.9 227.5 719.1 229.6 719.4 231.8 719.6 233.9 719.8 236.0 720.0 238.1 720.2 240.2 720.4 242.3 720.5 244.4 720.7 246.5 720.8 248.6 721.0 250.7 721.1 252.8 721.2 255.0 721.3 257.1 721.4 259.2 721.5 261.3 721.6 263.4 721.7 265.5 721.8 267.6 721.8 269.7 721.9 271.8 722.0 273.9 722.1 276.0 722.2 278.2 722.3 280.3 722.4 282.4 722.5 284.5 722.6 286.6 722.7 288.7 722.8 290.8 722.9 292.9 722.9 295.0 723.0 297.1 723.1 299.2 723.2 301.4 723.3 303.5 723.4 305.6 723.5 307.7 723.6 309.8 723.7 311.9 723.8" stroke="#1BAAE1" stroke-width="1.3" fill="none" stroke-linejoin="round"/>
<path d="M58.8 678.8h0M60.9 678.8h0M63.0 678.9h0M65.1 678.9h0M67.2 679.0h0M69.3 679.1h0M71.5 679.1h0M73.6 679.2h0M75.7 679.3h0M77.8 679.4h0M79.9 679.5h0M82.0 679.6h0M84.1 679.7h0M86.2 679.8h0M88.3 679.9h0M90.4 680.0h0M92.5 680.1h0M94.7 680.2h0M96.8 680.3h0M98.9 680.4h0M101.0 680.5h0M103.1 680.7h0M105.2 680.8h0M107.3 681.0h0M109.4 681.1h0M111.5 681.3h0M113.6 681.5h0M115.7 681.6h0M117.9 681.8h0M120.0 682.0h0M122.1 682.2h0M124.2 682.4h0M126.3 682.6h0M128.4 682.8h0M130.5 683.0h0M132.6 683.2h0M134.7 683.4h0M136.8 683.6h0M138.9 683.8h0M141.1 684.0h0M143.2 684.1h0M145.3 684.3h0M147.4 684.4h0M149.5 684.6h0M151.6 684.7h0M153.7 684.9h0M155.8 685.0h0M157.9 685.2h0M160.0 685.3h0M162.1 685.4h0M164.3 685.6h0M166.4 685.7h0M168.5 685.8h0M170.6 686.0h0M172.4 686.1h0M174.3 701.8h0M176.9 702.3h0M179.0 702.6h0M181.1 703.0h0M183.2 703.3h0M185.3 703.7h0M187.5 704.0h0M189.6 704.4h0M191.7 704.7h0M193.8 705.1h0M195.9 705.5h0M199.1 706.0h0M201.2 713.4h0M204.3 714.3h0M206.4 714.9h0M208.6 715.4h0M210.7 716.0h0M212.8 716.5h0M214.9 716.9h0M217.0 717.4h0M219.1 717.8h0M221.2 718.2h0M223.3 718.5h0M225.4 718.9h0M227.5 719.1h0M229.6 719.4h0M231.8 719.6h0M233.9 719.8h0M236.0 720.0h0M238.1 720.2h0M240.2 720.4h0M242.3 720.5h0M244.4 720.7h0M246.5 720.8h0M248.6 721.0h0M250.7 721.1h0M252.8 721.2h0M255.0 721.3h0M257.1 721.4h0M259.2 721.5h0M261.3 721.6h0M263.4 721.7h0M265.5 721.8h0M267.6 721.8h0M269.7 721.9h0M271.8 722.0h0M273.9 722.1h0M276.0 722.2h0M278.2 722.3h0M280.3 722.4h0M282.4 722.5h0M284.5 722.6h0M286.6 722.7h0M288.7 722.8h0M290.8 722.9h0M292.9 722.9h0M295.0 723.0h0M297.1 723.1h0M299.2 723.2h0M301.4 723.3h0M303.5 723.4h0M305.6 723.5h0M307.7 723.6h0M309.8 723.7h0M311.9 723.8h0" stroke="#1BAAE1" stroke-width="4.4" stroke-linecap="round" fill="none"/>
<path d="M58.8 812.1 60.9 811.6 63.0 810.9 65.1 810.1 67.2 809.2 69.3 808.2 71.5 807.2 73.6 806.0 75.7 804.7 77.8 803.1 79.9 801.4 82.0 799.3 84.1 796.7 86.2 793.7 88.3 790.3 90.4 786.5 92.3 781.9 94.7 780.9 96.8 780.1 98.9 779.2 101.0 778.5 103.1 777.7 105.2 777.0 107.3 776.3 109.4 775.6 111.5 774.9 113.6 774.2 115.7 773.6 117.9 772.9 120.0 772.2 122.1 771.5 124.2 770.8 126.3 770.1 128.4 769.4 130.5 768.7 132.6 768.0 134.7 767.3 136.8 766.6 138.9 765.9 141.1 765.3 143.2 764.6 145.3 764.0 147.4 763.4 149.5 762.8 151.6 762.2 153.7 761.6 155.8 761.1 157.9 760.5 160.0 760.0 162.1 759.5 164.3 758.9 166.4 758.4 168.5 758.0 170.6 757.5 172.4 757.1 174.3 713.4 176.9 713.2 179.0 713.0 181.1 712.7 183.2 712.5 185.3 712.3 187.5 712.1 189.6 711.9 191.7 711.7 193.8 711.5 195.9 711.2 199.1 710.9 201.2 740.8 204.3 740.0 206.4 739.5 208.6 739.0 210.7 738.5 212.8 738.0 214.9 737.5 217.0 737.0 219.1 736.5 221.2 736.0 223.3 735.5 225.4 735.0 227.5 734.5 229.6 734.0 231.8 733.5 233.9 732.9 236.0 732.4 238.1 731.9 240.2 731.4 242.3 730.9 244.4 730.4 246.5 730.0 248.6 729.5 250.7 729.1 252.8 728.7 255.0 728.3 257.1 727.9 259.2 727.5 261.3 727.1 263.4 726.7 265.5 726.4 267.6 726.0 269.7 725.7 271.8 725.5 273.9 725.2 276.0 724.9 278.2 724.6 280.3 724.4 282.4 724.1 284.5 723.9 286.6 723.7 288.7 723.6 290.8 723.5 292.9 723.4 295.0 723.3 297.1 723.2 299.2 723.1 301.4 723.0 303.5 723.0 305.6 722.9 307.7 722.9 309.8 722.9 311.9 722.9" stroke="#E4864F" stroke-width="1.3" fill="none" stroke-linejoin="round"/>
<path d="M58.8 812.1h0M60.9 811.6h0M63.0 810.9h0M65.1 810.1h0M67.2 809.2h0M69.3 808.2h0M71.5 807.2h0M73.6 806.0h0M75.7 804.7h0M77.8 803.1h0M79.9 801.4h0M82.0 799.3h0M84.1 796.7h0M86.2 793.7h0M88.3 790.3h0M90.4 786.5h0M92.3 781.9h0M94.7 780.9h0M96.8 780.1h0M98.9 779.2h0M101.0 778.5h0M103.1 777.7h0M105.2 777.0h0M107.3 776.3h0M109.4 775.6h0M111.5 774.9h0M113.6 774.2h0M115.7 773.6h0M117.9 772.9h0M120.0 772.2h0M122.1 771.5h0M124.2 770.8h0M126.3 770.1h0M128.4 769.4h0M130.5 768.7h0M132.6 768.0h0M134.7 767.3h0M136.8 766.6h0M138.9 765.9h0M141.1 765.3h0M143.2 764.6h0M145.3 764.0h0M147.4 763.4h0M149.5 762.8h0M151.6 762.2h0M153.7 761.6h0M155.8 761.1h0M157.9 760.5h0M160.0 760.0h0M162.1 759.5h0M164.3 758.9h0M166.4 758.4h0M168.5 758.0h0M170.6 757.5h0M172.4 757.1h0M174.3 713.4h0M176.9 713.2h0M179.0 713.0h0M181.1 712.7h0M183.2 712.5h0M185.3 712.3h0M187.5 712.1h0M189.6 711.9h0M191.7 711.7h0M193.8 711.5h0M195.9 711.2h0M199.1 710.9h0M201.2 740.8h0M204.3 740.0h0M206.4 739.5h0M208.6 739.0h0M210.7 738.5h0M212.8 738.0h0M214.9 737.5h0M217.0 737.0h0M219.1 736.5h0M221.2 736.0h0M223.3 735.5h0M225.4 735.0h0M227.5 734.5h0M229.6 734.0h0M231.8 733.5h0M233.9 732.9h0M236.0 732.4h0M238.1 731.9h0M240.2 731.4h0M242.3 730.9h0M244.4 730.4h0M246.5 730.0h0M248.6 729.5h0M250.7 729.1h0M252.8 728.7h0M255.0 728.3h0M257.1 727.9h0M259.2 727.5h0M261.3 727.1h0M263.4 726.7h0M265.5 726.4h0M267.6 726.0h0M269.7 725.7h0M271.8 725.5h0M273.9 725.2h0M276.0 724.9h0M278.2 724.6h0M280.3 724.4h0M282.4 724.1h0M284.5 723.9h0M286.6 723.7h0M288.7 723.6h0M290.8 723.5h0M292.9 723.4h0M295.0 723.3h0M297.1 723.2h0M299.2 723.1h0M301.4 723.0h0M303.5 723.0h0M305.6 722.9h0M307.7 722.9h0M309.8 722.9h0M311.9 722.9h0" stroke="#E4864F" stroke-width="4.4" stroke-linecap="round" fill="none"/>
<path d="M58.8 819.5 60.9 818.9 63.0 818.2 65.1 817.6 67.2 817.0 69.3 816.3 71.5 815.6 73.6 814.9 75.7 814.2 77.8 813.5 79.9 812.8 82.0 812.1 84.1 811.4 86.2 810.7 88.3 810.0 90.4 809.2 92.5 808.5 94.7 807.6 96.8 806.8 98.9 805.8 101.0 804.7 103.1 803.5 105.2 802.1 107.3 800.5 109.4 798.7 111.5 796.9 113.6 794.9 115.7 794.4 117.9 793.9 120.0 793.4 122.1 792.9 124.2 792.4 126.3 792.0 128.4 791.6 130.5 791.2 132.6 790.8 134.7 790.4 136.8 790.1 138.9 789.7 141.1 789.2 143.2 788.8 145.3 788.3 147.4 787.8 149.5 787.3 151.6 786.8 153.7 786.3 155.8 785.8 157.9 785.3 160.0 784.7 162.1 784.2 164.3 783.6 166.4 783.1 168.5 782.5 170.6 781.9 172.4 781.4 174.3 721.0 176.9 720.6 179.0 720.3 181.1 720.0 183.2 719.7 185.3 719.5 187.5 719.2 189.6 718.9 191.7 718.6 193.8 718.3 195.9 718.0 199.1 717.6 201.2 769.0 204.3 768.2 206.4 767.7 208.6 767.1 210.7 766.6 212.8 766.1 214.9 765.6 217.0 765.1 219.1 764.6 221.2 764.1 223.3 763.6 225.4 763.1 227.5 762.6 229.6 762.1 231.8 761.6 233.9 761.1 236.0 760.6 238.1 760.1 240.2 759.7 242.3 759.2 244.4 758.7 246.5 758.3 248.6 757.8 250.7 757.3 252.8 756.9 255.0 756.4 257.1 756.0 259.2 755.6 261.3 755.1 263.4 754.7 265.5 754.3 267.6 753.9 269.7 753.5 271.8 753.1 273.9 752.6 276.0 752.2 278.2 751.7 280.3 751.3 282.4 750.9 284.5 750.5 286.6 750.2 288.7 749.9 290.8 749.7 292.9 749.5 295.0 749.3 297.1 749.1 299.2 748.9 301.4 748.8 303.5 748.6 305.6 748.5 307.7 748.4 309.8 748.3 311.9 748.3" stroke="#F8C12A" stroke-width="1.3" fill="none" stroke-linejoin="round"/>
<path d="M58.8 819.5h0M60.9 818.9h0M63.0 818.2h0M65.1 817.6h0M67.2 817.0h0M69.3 816.3h0M71.5 815.6h0M73.6 814.9h0M75.7 814.2h0M77.8 813.5h0M79.9 812.8h0M82.0 812.1h0M84.1 811.4h0M86.2 810.7h0M88.3 810.0h0M90.4 809.2h0M92.5 808.5h0M94.7 807.6h0M96.8 806.8h0M98.9 805.8h0M101.0 804.7h0M103.1 803.5h0M105.2 802.1h0M107.3 800.5h0M109.4 798.7h0M111.5 796.9h0M113.6 794.9h0M115.7 794.4h0M117.9 793.9h0M120.0 793.4h0M122.1 792.9h0M124.2 792.4h0M126.3 792.0h0M128.4 791.6h0M130.5 791.2h0M132.6 790.8h0M134.7 790.4h0M136.8 790.1h0M138.9 789.7h0M141.1 789.2h0M143.2 788.8h0M145.3 788.3h0M147.4 787.8h0M149.5 787.3h0M151.6 786.8h0M153.7 786.3h0M155.8 785.8h0M157.9 785.3h0M160.0 784.7h0M162.1 784.2h0M164.3 783.6h0M166.4 783.1h0M168.5 782.5h0M170.6 781.9h0M172.4 781.4h0M174.3 721.0h0M176.9 720.6h0M179.0 720.3h0M181.1 720.0h0M183.2 719.7h0M185.3 719.5h0M187.5 719.2h0M189.6 718.9h0M191.7 718.6h0M193.8 718.3h0M195.9 718.0h0M199.1 717.6h0M201.2 769.0h0M204.3 768.2h0M206.4 767.7h0M208.6 767.1h0M210.7 766.6h0M212.8 766.1h0M214.9 765.6h0M217.0 765.1h0M219.1 764.6h0M221.2 764.1h0M223.3 763.6h0M225.4 763.1h0M227.5 762.6h0M229.6 762.1h0M231.8 761.6h0M233.9 761.1h0M236.0 760.6h0M238.1 760.1h0M240.2 759.7h0M242.3 759.2h0M244.4 758.7h0M246.5 758.3h0M248.6 757.8h0M250.7 757.3h0M252.8 756.9h0M255.0 756.4h0M257.1 756.0h0M259.2 755.6h0M261.3 755.1h0M263.4 754.7h0M265.5 754.3h0M267.6 753.9h0M269.7 753.5h0M271.8 753.1h0M273.9 752.6h0M276.0 752.2h0M278.2 751.7h0M280.3 751.3h0M282.4 750.9h0M284.5 750.5h0M286.6 750.2h0M288.7 749.9h0M290.8 749.7h0M292.9 749.5h0M295.0 749.3h0M297.1 749.1h0M299.2 748.9h0M301.4 748.8h0M303.5 748.6h0M305.6 748.5h0M307.7 748.4h0M309.8 748.3h0M311.9 748.3h0" stroke="#F8C12A" stroke-width="4.4" stroke-linecap="round" fill="none"/>
<path d="M58.8 825.9 60.9 825.8 63.0 825.7 65.1 825.6 67.2 825.5 69.3 825.4 71.5 825.2 73.6 825.1 75.7 825.0 77.8 824.8 79.9 824.7 82.0 824.5 84.1 824.4 86.2 824.2 88.3 824.1 90.4 823.9 92.5 823.7 94.7 823.5 96.8 823.3 98.9 823.2 101.0 823.0 103.1 822.8 105.2 822.6 107.3 822.3 109.4 822.1 111.5 821.8 113.6 821.6 115.7 821.3 117.9 821.0 120.0 820.7 122.1 820.4 124.2 820.1 126.3 819.8 128.4 819.5 130.5 819.2 132.6 818.9 134.7 818.6 136.8 818.3 138.9 818.0 141.1 817.7 143.2 817.3 145.3 817.0 147.4 816.7 149.5 816.4 151.6 816.1 153.7 815.8 155.8 815.5 157.9 815.1 160.0 814.8 162.1 814.5 164.3 814.1 166.4 813.8 168.5 813.4 170.6 813.1 172.4 812.8 174.3 740.8 176.9 740.5 179.0 740.2 181.1 740.0 183.2 739.7 185.3 739.5 187.5 739.2 189.6 739.0 191.7 738.7 193.8 738.4 195.9 738.2 199.1 737.8 201.2 809.9 204.3 809.2 206.4 808.7 208.6 808.2 210.7 807.7 212.8 807.3 214.9 806.8 217.0 806.4 219.1 806.0 221.2 805.6 223.3 805.1 225.4 804.7 227.5 804.4 229.6 804.0 231.8 803.6 233.9 803.2 236.0 802.8 238.1 802.5 240.2 802.1 242.3 801.8 244.4 801.5 246.5 801.2 248.6 800.9 250.7 800.7 252.8 800.4 255.0 800.2 257.1 800.0 259.2 799.8 261.3 799.6 263.4 799.4 265.5 799.2 267.6 799.0 269.7 798.9 271.8 798.8 273.9 798.6 276.0 798.5 278.2 798.4 280.3 798.3 282.4 798.2 284.5 798.1 286.6 798.0 288.7 798.0 290.8 797.9 292.9 797.8 295.0 797.8 297.1 797.7 299.2 797.7 301.4 797.7 303.5 797.6 305.6 797.6 307.7 797.6 309.8 797.5 311.9 797.5" stroke="#0F77A0" stroke-width="1.3" fill="none" stroke-linejoin="round"/>
<path d="M58.8 825.9h0M60.9 825.8h0M63.0 825.7h0M65.1 825.6h0M67.2 825.5h0M69.3 825.4h0M71.5 825.2h0M73.6 825.1h0M75.7 825.0h0M77.8 824.8h0M79.9 824.7h0M82.0 824.5h0M84.1 824.4h0M86.2 824.2h0M88.3 824.1h0M90.4 823.9h0M92.5 823.7h0M94.7 823.5h0M96.8 823.3h0M98.9 823.2h0M101.0 823.0h0M103.1 822.8h0M105.2 822.6h0M107.3 822.3h0M109.4 822.1h0M111.5 821.8h0M113.6 821.6h0M115.7 821.3h0M117.9 821.0h0M120.0 820.7h0M122.1 820.4h0M124.2 820.1h0M126.3 819.8h0M128.4 819.5h0M130.5 819.2h0M132.6 818.9h0M134.7 818.6h0M136.8 818.3h0M138.9 818.0h0M141.1 817.7h0M143.2 817.3h0M145.3 817.0h0M147.4 816.7h0M149.5 816.4h0M151.6 816.1h0M153.7 815.8h0M155.8 815.5h0M157.9 815.1h0M160.0 814.8h0M162.1 814.5h0M164.3 814.1h0M166.4 813.8h0M168.5 813.4h0M170.6 813.1h0M172.4 812.8h0M174.3 740.8h0M176.9 740.5h0M179.0 740.2h0M181.1 740.0h0M183.2 739.7h0M185.3 739.5h0M187.5 739.2h0M189.6 739.0h0M191.7 738.7h0M193.8 738.4h0M195.9 738.2h0M199.1 737.8h0M201.2 809.9h0M204.3 809.2h0M206.4 808.7h0M208.6 808.2h0M210.7 807.7h0M212.8 807.3h0M214.9 806.8h0M217.0 806.4h0M219.1 806.0h0M221.2 805.6h0M223.3 805.1h0M225.4 804.7h0M227.5 804.4h0M229.6 804.0h0M231.8 803.6h0M233.9 803.2h0M236.0 802.8h0M238.1 802.5h0M240.2 802.1h0M242.3 801.8h0M244.4 801.5h0M246.5 801.2h0M248.6 800.9h0M250.7 800.7h0M252.8 800.4h0M255.0 800.2h0M257.1 800.0h0M259.2 799.8h0M261.3 799.6h0M263.4 799.4h0M265.5 799.2h0M267.6 799.0h0M269.7 798.9h0M271.8 798.8h0M273.9 798.6h0M276.0 798.5h0M278.2 798.4h0M280.3 798.3h0M282.4 798.2h0M284.5 798.1h0M286.6 798.0h0M288.7 798.0h0M290.8 797.9h0M292.9 797.8h0M295.0 797.8h0M297.1 797.7h0M299.2 797.7h0M301.4 797.7h0M303.5 797.6h0M305.6 797.6h0M307.7 797.6h0M309.8 797.5h0M311.9 797.5h0" stroke="#0F77A0" stroke-width="4.4" stroke-linecap="round" fill="none"/>
<path d="M58.8 827.5 60.9 827.5 63.0 827.4 65.1 827.4 67.2 827.3 69.3 827.2 71.5 827.1 73.6 827.0 75.7 827.0 77.8 826.9 79.9 826.8 82.0 826.7 84.1 826.6 86.2 826.4 88.3 826.3 90.4 826.2 92.5 826.1 94.7 826.0 96.8 825.8 98.9 825.7 101.0 825.6 103.1 825.4 105.2 825.3 107.3 825.2 109.4 825.0 111.5 824.9 113.6 824.7 115.7 824.6 117.9 824.4 120.0 824.3 122.1 824.1 124.2 824.0 126.3 823.8 128.4 823.6 130.5 823.4 132.6 823.2 134.7 823.0 136.8 822.8 138.9 822.6 141.1 822.4 143.2 822.2 145.3 822.0 147.4 821.7 149.5 821.5 151.6 821.3 153.7 821.0 155.8 820.8 157.9 820.5 160.0 820.2 162.1 820.0 164.3 819.7 166.4 819.4 168.5 819.2 170.6 818.9 172.4 818.6 174.3 748.3 176.9 748.0 179.0 747.8 181.1 747.6 183.2 747.4 185.3 747.2 187.5 747.0 189.6 746.8 191.7 746.5 193.8 746.3 195.9 746.1 199.1 745.8 201.2 817.4 204.3 817.0 206.4 816.7 208.6 816.5 210.7 816.2 212.8 815.9 214.9 815.6 217.0 815.3 219.1 815.1 221.2 814.8 223.3 814.5 225.4 814.2 227.5 814.0 229.6 813.7 231.8 813.4 233.9 813.1 236.0 812.9 238.1 812.6 240.2 812.3 242.3 812.0 244.4 811.7 246.5 811.5 248.6 811.2 250.7 811.2 252.8 811.2 255.0 811.2 257.1 811.2 259.2 811.1 261.3 811.1 263.4 811.1 265.5 811.1 267.6 811.1 269.7 811.1 271.8 811.1 273.9 811.1 276.0 811.1 278.2 811.1 280.3 811.0 282.4 811.0 284.5 811.0 286.6 811.0 288.7 811.0 290.8 811.0 292.9 811.0 295.0 811.0 297.1 811.0 299.2 811.0 301.4 810.9 303.5 810.9 305.6 810.9 307.7 810.9 309.8 810.9 311.9 810.9" stroke="#EDB196" stroke-width="1.3" fill="none" stroke-linejoin="round"/>
<path d="M58.8 827.5h0M60.9 827.5h0M63.0 827.4h0M65.1 827.4h0M67.2 827.3h0M69.3 827.2h0M71.5 827.1h0M73.6 827.0h0M75.7 827.0h0M77.8 826.9h0M79.9 826.8h0M82.0 826.7h0M84.1 826.6h0M86.2 826.4h0M88.3 826.3h0M90.4 826.2h0M92.5 826.1h0M94.7 826.0h0M96.8 825.8h0M98.9 825.7h0M101.0 825.6h0M103.1 825.4h0M105.2 825.3h0M107.3 825.2h0M109.4 825.0h0M111.5 824.9h0M113.6 824.7h0M115.7 824.6h0M117.9 824.4h0M120.0 824.3h0M122.1 824.1h0M124.2 824.0h0M126.3 823.8h0M128.4 823.6h0M130.5 823.4h0M132.6 823.2h0M134.7 823.0h0M136.8 822.8h0M138.9 822.6h0M141.1 822.4h0M143.2 822.2h0M145.3 822.0h0M147.4 821.7h0M149.5 821.5h0M151.6 821.3h0M153.7 821.0h0M155.8 820.8h0M157.9 820.5h0M160.0 820.2h0M162.1 820.0h0M164.3 819.7h0M166.4 819.4h0M168.5 819.2h0M170.6 818.9h0M172.4 818.6h0M174.3 748.3h0M176.9 748.0h0M179.0 747.8h0M181.1 747.6h0M183.2 747.4h0M185.3 747.2h0M187.5 747.0h0M189.6 746.8h0M191.7 746.5h0M193.8 746.3h0M195.9 746.1h0M199.1 745.8h0M201.2 817.4h0M204.3 817.0h0M206.4 816.7h0M208.6 816.5h0M210.7 816.2h0M212.8 815.9h0M214.9 815.6h0M217.0 815.3h0M219.1 815.1h0M221.2 814.8h0M223.3 814.5h0M225.4 814.2h0M227.5 814.0h0M229.6 813.7h0M231.8 813.4h0M233.9 813.1h0M236.0 812.9h0M238.1 812.6h0M240.2 812.3h0M242.3 812.0h0M244.4 811.7h0M246.5 811.5h0M248.6 811.2h0M250.7 811.2h0M252.8 811.2h0M255.0 811.2h0M257.1 811.2h0M259.2 811.1h0M261.3 811.1h0M263.4 811.1h0M265.5 811.1h0M267.6 811.1h0M269.7 811.1h0M271.8 811.1h0M273.9 811.1h0M276.0 811.1h0M278.2 811.1h0M280.3 811.0h0M282.4 811.0h0M284.5 811.0h0M286.6 811.0h0M288.7 811.0h0M290.8 811.0h0M292.9 811.0h0M295.0 811.0h0M297.1 811.0h0M299.2 811.0h0M301.4 810.9h0M303.5 810.9h0M305.6 810.9h0M307.7 810.9h0M309.8 810.9h0M311.9 810.9h0" stroke="#EDB196" stroke-width="4.4" stroke-linecap="round" fill="none"/>
<path d="M58.8 827.7 60.9 827.7 63.0 827.6 65.1 827.6 67.2 827.6 69.3 827.5 71.5 827.5 73.6 827.5 75.7 827.4 77.8 827.4 79.9 827.3 82.0 827.2 84.1 827.2 86.2 827.1 88.3 827.0 90.4 827.0 92.5 826.9 94.7 826.8 96.8 826.7 98.9 826.7 101.0 826.6 103.1 826.5 105.2 826.4 107.3 826.3 109.4 826.2 111.5 826.1 113.6 826.0 115.7 825.9 117.9 825.8 120.0 825.7 122.1 825.6 124.2 825.5 126.3 825.4 128.4 825.3 130.5 825.2 132.6 825.0 134.7 824.9 136.8 824.8 138.9 824.6 141.1 824.5 143.2 824.3 145.3 824.1 147.4 824.0 149.5 823.8 151.6 823.6 153.7 823.4 155.8 823.2 157.9 823.1 160.0 822.9 162.1 822.7 164.3 822.5 166.4 822.3 168.5 822.1 170.6 821.9 172.4 821.7 174.3 751.6 176.9 751.3 179.0 751.2 181.1 751.0 183.2 750.8 185.3 750.7 187.5 750.5 189.6 750.3 191.7 750.1 193.8 750.0 195.9 749.8 199.1 749.5 201.2 819.9 204.3 819.5 206.4 819.3 208.6 819.0 210.7 818.8 212.8 818.5 214.9 818.3 217.0 818.0 219.1 817.8 221.2 817.5 223.3 817.2 225.4 817.0 227.5 816.7 229.6 816.5 231.8 816.2 233.9 816.0 236.0 815.7 238.1 815.4 240.2 815.2 242.3 814.9 244.4 814.7 246.5 814.4 248.6 814.2 250.7 814.2 252.8 814.2 255.0 814.2 257.1 814.3 259.2 814.3 261.3 814.3 263.4 814.3 265.5 814.4 267.6 814.4 269.7 814.4 271.8 814.4 273.9 814.5 276.0 814.5 278.2 814.5 280.3 814.5 282.4 814.6 284.5 814.6 286.6 814.6 288.7 814.6 290.8 814.7 292.9 814.7 295.0 814.7 297.1 814.7 299.2 814.8 301.4 814.8 303.5 814.8 305.6 814.8 307.7 814.9 309.8 814.9 311.9 814.9" stroke="#3EB46A" stroke-width="1.3" fill="none" stroke-linejoin="round"/>
<path d="M58.8 827.7h0M60.9 827.7h0M63.0 827.6h0M65.1 827.6h0M67.2 827.6h0M69.3 827.5h0M71.5 827.5h0M73.6 827.5h0M75.7 827.4h0M77.8 827.4h0M79.9 827.3h0M82.0 827.2h0M84.1 827.2h0M86.2 827.1h0M88.3 827.0h0M90.4 827.0h0M92.5 826.9h0M94.7 826.8h0M96.8 826.7h0M98.9 826.7h0M101.0 826.6h0M103.1 826.5h0M105.2 826.4h0M107.3 826.3h0M109.4 826.2h0M111.5 826.1h0M113.6 826.0h0M115.7 825.9h0M117.9 825.8h0M120.0 825.7h0M122.1 825.6h0M124.2 825.5h0M126.3 825.4h0M128.4 825.3h0M130.5 825.2h0M132.6 825.0h0M134.7 824.9h0M136.8 824.8h0M138.9 824.6h0M141.1 824.5h0M143.2 824.3h0M145.3 824.1h0M147.4 824.0h0M149.5 823.8h0M151.6 823.6h0M153.7 823.4h0M155.8 823.2h0M157.9 823.1h0M160.0 822.9h0M162.1 822.7h0M164.3 822.5h0M166.4 822.3h0M168.5 822.1h0M170.6 821.9h0M172.4 821.7h0M174.3 751.6h0M176.9 751.3h0M179.0 751.2h0M181.1 751.0h0M183.2 750.8h0M185.3 750.7h0M187.5 750.5h0M189.6 750.3h0M191.7 750.1h0M193.8 750.0h0M195.9 749.8h0M199.1 749.5h0M201.2 819.9h0M204.3 819.5h0M206.4 819.3h0M208.6 819.0h0M210.7 818.8h0M212.8 818.5h0M214.9 818.3h0M217.0 818.0h0M219.1 817.8h0M221.2 817.5h0M223.3 817.2h0M225.4 817.0h0M227.5 816.7h0M229.6 816.5h0M231.8 816.2h0M233.9 816.0h0M236.0 815.7h0M238.1 815.4h0M240.2 815.2h0M242.3 814.9h0M244.4 814.7h0M246.5 814.4h0M248.6 814.2h0M250.7 814.2h0M252.8 814.2h0M255.0 814.2h0M257.1 814.3h0M259.2 814.3h0M261.3 814.3h0M263.4 814.3h0M265.5 814.4h0M267.6 814.4h0M269.7 814.4h0M271.8 814.4h0M273.9 814.5h0M276.0 814.5h0M278.2 814.5h0M280.3 814.5h0M282.4 814.6h0M284.5 814.6h0M286.6 814.6h0M288.7 814.6h0M290.8 814.7h0M292.9 814.7h0M295.0 814.7h0M297.1 814.7h0M299.2 814.8h0M301.4 814.8h0M303.5 814.8h0M305.6 814.8h0M307.7 814.9h0M309.8 814.9h0M311.9 814.9h0" stroke="#3EB46A" stroke-width="4.4" stroke-linecap="round" fill="none"/>
<text x="46.5" y="845.5" font-size="12.5" text-anchor="end" fill="#404040" stroke="#404040" stroke-width="0.22">0.00</text>
<text x="46.5" y="807.5" font-size="12.5" text-anchor="end" fill="#404040" stroke="#404040" stroke-width="0.22">0.05</text>
<text x="46.5" y="769.5" font-size="12.5" text-anchor="end" fill="#404040" stroke="#404040" stroke-width="0.22">0.10</text>
<text x="46.5" y="731.5" font-size="12.5" text-anchor="end" fill="#404040" stroke="#404040" stroke-width="0.22">0.15</text>
<text x="46.5" y="693.5" font-size="12.5" text-anchor="end" fill="#404040" stroke="#404040" stroke-width="0.22">0.20</text>
<text x="46.5" y="655.5" font-size="12.5" text-anchor="end" fill="#404040" stroke="#404040" stroke-width="0.22">0.25</text>
<text x="58.8" y="859.0" font-size="12.5" text-anchor="middle" fill="#404040" stroke="#404040" stroke-width="0.22">0</text>
<text x="79.9" y="859.0" font-size="12.5" text-anchor="middle" fill="#404040" stroke="#404040" stroke-width="0.22">2</text>
<text x="101.0" y="859.0" font-size="12.5" text-anchor="middle" fill="#404040" stroke="#404040" stroke-width="0.22">4</text>
<text x="122.1" y="859.0" font-size="12.5" text-anchor="middle" fill="#404040" stroke="#404040" stroke-width="0.22">6</text>
<text x="143.2" y="859.0" font-size="12.5" text-anchor="middle" fill="#404040" stroke="#404040" stroke-width="0.22">8</text>
<text x="164.3" y="859.0" font-size="12.5" text-anchor="middle" fill="#404040" stroke="#404040" stroke-width="0.22">10</text>
<text x="185.3" y="859.0" font-size="12.5" text-anchor="middle" fill="#404040" stroke="#404040" stroke-width="0.22">12</text>
<text x="206.4" y="859.0" font-size="12.5" text-anchor="middle" fill="#404040" stroke="#404040" stroke-width="0.22">14</text>
<text x="227.5" y="859.0" font-size="12.5" text-anchor="middle" fill="#404040" stroke="#404040" stroke-width="0.22">16</text>
<text x="248.6" y="859.0" font-size="12.5" text-anchor="middle" fill="#404040" stroke="#404040" stroke-width="0.22">18</text>
<text x="269.7" y="859.0" font-size="12.5" text-anchor="middle" fill="#404040" stroke="#404040" stroke-width="0.22">20</text>
<text x="290.8" y="859.0" font-size="12.5" text-anchor="middle" fill="#404040" stroke="#404040" stroke-width="0.22">22</text>
<text x="311.9" y="859.0" font-size="12.5" text-anchor="middle" fill="#404040" stroke="#404040" stroke-width="0.22">24</text>
<text x="185.3" y="873.0" font-size="13.6" text-anchor="middle" fill="#404040" stroke="#404040" stroke-width="0.22">Distance (cm)</text>
<text transform="translate(21.3,744.6) rotate(-90) scale(0.96,1)" x="0" y="0" font-size="14.2" text-anchor="middle" fill="#404040" stroke="#404040" stroke-width="0.22">Unfrozen water content (m<tspan font-size="8.8" dy="-5.4">3</tspan><tspan dy="5.4">/m</tspan><tspan font-size="8.8" dy="-5.4">3</tspan><tspan dy="5.4">)</tspan></text>
<text x="79.4" y="893.5" font-size="18" fill="#303030">(e)</text>
<text x="116.8" y="893.5" font-size="18" fill="#303030">unfrozen water content</text>
<text x="80.4" y="915.0" font-size="18.3" fill="#303030">(brick+cement mortar)</text>
<path d="M71.4 631.4H91.4" stroke="#222222" stroke-width="1.3" stroke-dasharray="3.2,1.5"/>
<text x="93.2" y="635.6" font-size="12.5" fill="#404040" stroke="#404040" stroke-width="0.22">0h</text>
<path d="M135.6 631.4H155.6" stroke="#1BAAE1" stroke-width="1.5"/>
<circle cx="145.6" cy="631.4" r="2.5" fill="#1BAAE1"/>
<text x="157.4" y="635.6" font-size="12.5" fill="#404040" stroke="#404040" stroke-width="0.22">24h</text>
<path d="M199.8 631.4H219.8" stroke="#E4864F" stroke-width="1.5"/>
<circle cx="209.8" cy="631.4" r="2.5" fill="#E4864F"/>
<text x="221.6" y="635.6" font-size="12.5" fill="#404040" stroke="#404040" stroke-width="0.22">48h</text>
<path d="M264.4 631.4H284.4" stroke="#F8C12A" stroke-width="1.5"/>
<circle cx="274.4" cy="631.4" r="2.5" fill="#F8C12A"/>
<text x="286.2" y="635.6" font-size="12.5" fill="#404040" stroke="#404040" stroke-width="0.22">72h</text>
<path d="M71.4 645.3H91.4" stroke="#0F77A0" stroke-width="1.5"/>
<circle cx="81.4" cy="645.3" r="2.5" fill="#0F77A0"/>
<text x="93.2" y="649.5" font-size="12.5" fill="#404040" stroke="#404040" stroke-width="0.22">240h</text>
<path d="M135.6 645.3H155.6" stroke="#EDB196" stroke-width="1.5"/>
<circle cx="145.6" cy="645.3" r="2.5" fill="#EDB196"/>
<text x="157.4" y="649.5" font-size="12.5" fill="#404040" stroke="#404040" stroke-width="0.22">480h</text>
<path d="M199.8 645.3H219.8" stroke="#3EB46A" stroke-width="1.5"/>
<circle cx="209.8" cy="645.3" r="2.5" fill="#3EB46A"/>
<text x="221.6" y="649.5" font-size="12.5" fill="#404040" stroke="#404040" stroke-width="0.22">720h</text>
</g>
<g id="panel-f">
<rect x="522.0" y="653.2" width="24.7" height="180.5" fill="#E6E6E6"/>
<path d="M407.2 653.2V833.7M428.1 653.2V833.7M449.1 653.2V833.7M470.0 653.2V833.7M491.0 653.2V833.7M511.9 653.2V833.7M532.9 653.2V833.7M553.8 653.2V833.7M574.7 653.2V833.7M595.7 653.2V833.7M616.6 653.2V833.7M637.6 653.2V833.7M658.5 653.2V833.7M407.2 833.7H658.5M407.2 807.9H658.5M407.2 782.1H658.5M407.2 756.3H658.5M407.2 730.6H658.5M407.2 704.8H658.5M407.2 679.0H658.5M407.2 653.2H658.5" stroke="#D4D4D4" stroke-width="1.1" fill="none"/>
<path d="M406.7 653.2H658.5" stroke="#7C7C7C" stroke-width="1.9" fill="none"/>
<path d="M658.5 653.2V833.7" stroke="#5A5A5A" stroke-width="1.3" fill="none"/>
<path d="M407.2 833.7 409.3 833.7 411.4 833.7 413.5 833.7 415.6 833.7 417.7 833.7 419.8 833.7 421.9 833.7 424.0 833.7 426.0 833.7 428.1 833.7 430.2 833.7 432.3 833.7 434.4 833.7 436.5 833.7 438.6 833.7 440.7 833.7 442.8 833.7 444.9 833.7 447.0 833.7 449.1 833.7 451.2 833.7 453.3 833.7 455.4 833.7 457.5 833.7 459.6 833.7 461.6 833.7 463.7 833.7 465.8 833.7 467.9 833.7 470.0 833.7 472.1 833.7 474.2 833.7 476.3 833.7 478.4 833.7 480.5 833.7 482.6 833.7 484.7 833.7 486.8 833.7 488.9 833.7 491.0 833.7 493.1 833.7 495.2 833.7 497.2 833.7 499.3 833.7 501.4 833.7 503.5 833.7 505.6 833.7 507.7 833.7 509.8 833.7 511.9 833.7 514.0 833.7 516.1 833.7 518.2 833.7 520.3 833.7 522.4 833.7 524.5 833.7 526.6 833.7 528.7 833.7 530.8 833.7 532.9 833.7 534.9 833.7 537.0 833.7 539.1 833.7 541.2 833.7 543.3 833.7 545.4 833.7 547.5 833.7 549.6 833.7 551.7 833.7 553.8 833.7 555.9 833.7 558.0 833.7 560.1 833.7 562.2 833.7 564.3 833.7 566.4 833.7 568.5 833.7 570.5 833.7 572.6 833.7 574.7 833.7 576.8 833.7 578.9 833.7 581.0 833.7 583.1 833.7 585.2 833.7 587.3 833.7 589.4 833.7 591.5 833.7 593.6 833.7 595.7 833.7 597.8 833.7 599.9 833.7 602.0 833.7 604.1 833.7 606.1 833.7 608.2 833.7 610.3 833.7 612.4 833.7 614.5 833.7 616.6 833.7 618.7 833.7 620.8 833.7 622.9 833.7 625.0 833.7 627.1 833.7 629.2 833.7 631.3 833.7 633.4 833.7 635.5 833.7 637.6 833.7 639.7 833.7 641.7 833.7 643.8 833.7 645.9 833.7 648.0 833.7 650.1 833.7 652.2 833.7 654.3 833.7 656.4 833.7 658.5 833.7" stroke="#26A9DF" stroke-width="1.3" fill="none" stroke-linejoin="round"/>
<path d="M407.2 833.7h0M409.3 833.7h0M411.4 833.7h0M413.5 833.7h0M415.6 833.7h0M417.7 833.7h0M419.8 833.7h0M421.9 833.7h0M424.0 833.7h0M426.0 833.7h0M428.1 833.7h0M430.2 833.7h0M432.3 833.7h0M434.4 833.7h0M436.5 833.7h0M438.6 833.7h0M440.7 833.7h0M442.8 833.7h0M444.9 833.7h0M447.0 833.7h0M449.1 833.7h0M451.2 833.7h0M453.3 833.7h0M455.4 833.7h0M457.5 833.7h0M459.6 833.7h0M461.6 833.7h0M463.7 833.7h0M465.8 833.7h0M467.9 833.7h0M470.0 833.7h0M472.1 833.7h0M474.2 833.7h0M476.3 833.7h0M478.4 833.7h0M480.5 833.7h0M482.6 833.7h0M484.7 833.7h0M486.8 833.7h0M488.9 833.7h0M491.0 833.7h0M493.1 833.7h0M495.2 833.7h0M497.2 833.7h0M499.3 833.7h0M501.4 833.7h0M503.5 833.7h0M505.6 833.7h0M507.7 833.7h0M509.8 833.7h0M511.9 833.7h0M514.0 833.7h0M516.1 833.7h0M518.2 833.7h0M520.3 833.7h0M522.4 833.7h0M524.5 833.7h0M526.6 833.7h0M528.7 833.7h0M530.8 833.7h0M532.9 833.7h0M534.9 833.7h0M537.0 833.7h0M539.1 833.7h0M541.2 833.7h0M543.3 833.7h0M545.4 833.7h0M547.5 833.7h0M549.6 833.7h0M551.7 833.7h0M553.8 833.7h0M555.9 833.7h0M558.0 833.7h0M560.1 833.7h0M562.2 833.7h0M564.3 833.7h0M566.4 833.7h0M568.5 833.7h0M570.5 833.7h0M572.6 833.7h0M574.7 833.7h0M576.8 833.7h0M578.9 833.7h0M581.0 833.7h0M583.1 833.7h0M585.2 833.7h0M587.3 833.7h0M589.4 833.7h0M591.5 833.7h0M593.6 833.7h0M595.7 833.7h0M597.8 833.7h0M599.9 833.7h0M602.0 833.7h0M604.1 833.7h0M606.1 833.7h0M608.2 833.7h0M610.3 833.7h0M612.4 833.7h0M614.5 833.7h0M616.6 833.7h0M618.7 833.7h0M620.8 833.7h0M622.9 833.7h0M625.0 833.7h0M627.1 833.7h0M629.2 833.7h0M631.3 833.7h0M633.4 833.7h0M635.5 833.7h0M637.6 833.7h0M639.7 833.7h0M641.7 833.7h0M643.8 833.7h0M645.9 833.7h0M648.0 833.7h0M650.1 833.7h0M652.2 833.7h0M654.3 833.7h0M656.4 833.7h0M658.5 833.7h0" stroke="#26A9DF" stroke-width="4.4" stroke-linecap="round" fill="none"/>
<path d="M407.2 686.6 409.3 687.4 411.4 688.1 413.5 688.9 415.6 689.7 417.7 690.5 420.8 691.7 424.0 691.4 426.0 693.2 428.1 695.1 430.2 697.0 433.4 699.9 436.5 702.6 438.6 705.1 441.3 713.3 443.3 776.5 444.9 776.9 447.0 777.5 449.1 778.1 451.2 778.6 453.3 779.2 455.4 779.7 457.5 780.1 459.6 780.6 461.6 781.1 463.7 781.6 465.8 782.1 467.9 782.6 470.0 783.2 472.1 783.7 474.2 784.3 476.3 784.9 478.4 785.5 480.5 786.1 482.6 786.7 484.7 787.4 486.8 788.1 488.9 788.8 491.0 789.5 493.1 790.2 495.2 790.9 497.2 791.6 499.3 792.3 501.4 793.1 503.5 793.9 505.6 794.9 507.7 796.0 509.8 797.2 511.9 798.6 515.0 802.6 516.9 812.9 518.9 833.7 520.3 833.7 522.4 833.7 524.5 833.7 526.6 833.7 528.7 833.7 530.8 833.7 532.9 833.7 534.9 833.7 538.1 833.7 541.2 831.1 543.3 831.1 546.1 783.2 548.2 800.8 550.7 818.7 553.8 819.6 555.9 820.2 558.0 820.7 560.1 821.3 562.2 821.8 564.3 822.3 566.4 822.8 568.5 823.3 570.5 823.8 572.6 824.2 574.7 824.6 576.8 825.0 578.9 825.4 581.0 825.8 583.1 826.2 585.2 826.6 587.3 827.0 589.4 827.4 591.5 827.7 593.6 828.1 595.7 828.4 597.8 828.8 599.9 829.1 602.0 829.4 604.1 829.7 606.1 830.0 608.2 830.3 610.3 830.6 612.4 830.8 614.5 831.1 616.6 831.3 619.8 831.6 622.9 832.5 625.0 833.1 627.1 833.7 629.2 833.7 631.3 833.7 633.4 833.7 635.5 833.7 637.6 833.7 639.7 833.7 641.7 833.7 643.8 833.7 645.9 833.7 648.0 833.7 650.1 833.7 652.2 833.7 654.3 833.7 656.4 833.7 658.5 833.7" stroke="#E86E32" stroke-width="1.3" fill="none" stroke-linejoin="round"/>
<path d="M407.2 686.6h0M409.3 687.4h0M411.4 688.1h0M413.5 688.9h0M415.6 689.7h0M417.7 690.5h0M420.8 691.7h0M424.0 691.4h0M426.0 693.2h0M428.1 695.1h0M430.2 697.0h0M433.4 699.9h0M436.5 702.6h0M438.6 705.1h0M441.3 713.3h0M443.3 776.5h0M444.9 776.9h0M447.0 777.5h0M449.1 778.1h0M451.2 778.6h0M453.3 779.2h0M455.4 779.7h0M457.5 780.1h0M459.6 780.6h0M461.6 781.1h0M463.7 781.6h0M465.8 782.1h0M467.9 782.6h0M470.0 783.2h0M472.1 783.7h0M474.2 784.3h0M476.3 784.9h0M478.4 785.5h0M480.5 786.1h0M482.6 786.7h0M484.7 787.4h0M486.8 788.1h0M488.9 788.8h0M491.0 789.5h0M493.1 790.2h0M495.2 790.9h0M497.2 791.6h0M499.3 792.3h0M501.4 793.1h0M503.5 793.9h0M505.6 794.9h0M507.7 796.0h0M509.8 797.2h0M511.9 798.6h0M515.0 802.6h0M516.9 812.9h0M518.9 833.7h0M520.3 833.7h0M522.4 833.7h0M524.5 833.7h0M526.6 833.7h0M528.7 833.7h0M530.8 833.7h0M532.9 833.7h0M534.9 833.7h0M538.1 833.7h0M541.2 831.1h0M543.3 831.1h0M546.1 783.2h0M548.2 800.8h0M550.7 818.7h0M553.8 819.6h0M555.9 820.2h0M558.0 820.7h0M560.1 821.3h0M562.2 821.8h0M564.3 822.3h0M566.4 822.8h0M568.5 823.3h0M570.5 823.8h0M572.6 824.2h0M574.7 824.6h0M576.8 825.0h0M578.9 825.4h0M581.0 825.8h0M583.1 826.2h0M585.2 826.6h0M587.3 827.0h0M589.4 827.4h0M591.5 827.7h0M593.6 828.1h0M595.7 828.4h0M597.8 828.8h0M599.9 829.1h0M602.0 829.4h0M604.1 829.7h0M606.1 830.0h0M608.2 830.3h0M610.3 830.6h0M612.4 830.8h0M614.5 831.1h0M616.6 831.3h0M619.8 831.6h0M622.9 832.5h0M625.0 833.1h0M627.1 833.7h0M629.2 833.7h0M631.3 833.7h0M633.4 833.7h0M635.5 833.7h0M637.6 833.7h0M639.7 833.7h0M641.7 833.7h0M643.8 833.7h0M645.9 833.7h0M648.0 833.7h0M650.1 833.7h0M652.2 833.7h0M654.3 833.7h0M656.4 833.7h0M658.5 833.7h0" stroke="#E86E32" stroke-width="4.4" stroke-linecap="round" fill="none"/>
<path d="M407.2 682.4 409.3 682.9 411.4 683.3 413.5 683.8 415.6 684.2 417.7 684.7 419.8 685.2 421.9 685.6 424.0 686.1 426.0 686.6 428.1 687.1 430.2 687.6 432.3 688.1 434.4 688.6 436.5 689.1 438.6 689.6 440.7 690.2 442.8 690.7 444.9 691.3 447.0 692.0 449.1 692.7 451.2 693.5 453.3 694.5 455.4 695.6 457.5 696.7 459.4 697.8 462.1 748.3 464.2 771.6 465.8 772.0 467.9 772.4 470.0 772.9 472.1 773.4 474.2 773.9 476.3 774.4 478.4 774.9 480.5 775.4 482.6 775.9 484.7 776.5 486.8 777.0 488.9 777.5 491.0 778.1 493.1 778.7 495.2 779.3 497.2 779.9 499.3 780.6 501.4 781.2 503.5 781.9 505.6 782.6 507.7 783.3 509.8 784.0 511.9 784.7 513.9 783.2 516.9 833.7 518.2 833.7 520.3 833.7 522.4 833.7 524.5 833.7 526.6 833.7 528.7 833.7 530.8 833.7 532.9 833.7 534.9 833.7 537.0 833.7 539.1 833.7 541.2 833.7 543.7 833.7 545.8 746.5 548.5 716.9 551.1 737.7 553.5 801.3 555.9 802.5 558.0 803.4 560.1 804.4 562.2 805.4 564.3 806.3 566.4 807.1 568.5 807.9 570.5 808.6 572.6 809.3 574.7 809.8 576.8 810.3 578.9 810.8 581.0 811.3 583.1 811.8 585.2 812.3 587.3 812.8 589.4 813.2 591.5 813.7 593.6 814.1 595.7 814.5 597.8 814.9 599.9 815.2 602.0 815.6 604.1 815.9 606.1 816.2 608.2 816.4 610.3 816.6 612.4 816.8 614.5 817.0 616.6 817.1 618.7 817.2 621.2 817.2 624.3 833.7 627.1 833.7 629.2 833.7 631.3 833.7 633.4 833.7 635.5 833.7 637.6 833.7 639.7 833.7 641.7 833.7 643.8 833.7 645.9 833.7 648.0 833.7 650.1 833.7 652.2 833.7 654.3 833.7 656.4 833.7 658.5 833.7" stroke="#F8B81E" stroke-width="1.3" fill="none" stroke-linejoin="round"/>
<path d="M407.2 682.4h0M409.3 682.9h0M411.4 683.3h0M413.5 683.8h0M415.6 684.2h0M417.7 684.7h0M419.8 685.2h0M421.9 685.6h0M424.0 686.1h0M426.0 686.6h0M428.1 687.1h0M430.2 687.6h0M432.3 688.1h0M434.4 688.6h0M436.5 689.1h0M438.6 689.6h0M440.7 690.2h0M442.8 690.7h0M444.9 691.3h0M447.0 692.0h0M449.1 692.7h0M451.2 693.5h0M453.3 694.5h0M455.4 695.6h0M457.5 696.7h0M459.4 697.8h0M462.1 748.3h0M464.2 771.6h0M465.8 772.0h0M467.9 772.4h0M470.0 772.9h0M472.1 773.4h0M474.2 773.9h0M476.3 774.4h0M478.4 774.9h0M480.5 775.4h0M482.6 775.9h0M484.7 776.5h0M486.8 777.0h0M488.9 777.5h0M491.0 778.1h0M493.1 778.7h0M495.2 779.3h0M497.2 779.9h0M499.3 780.6h0M501.4 781.2h0M503.5 781.9h0M505.6 782.6h0M507.7 783.3h0M509.8 784.0h0M511.9 784.7h0M513.9 783.2h0M516.9 833.7h0M518.2 833.7h0M520.3 833.7h0M522.4 833.7h0M524.5 833.7h0M526.6 833.7h0M528.7 833.7h0M530.8 833.7h0M532.9 833.7h0M534.9 833.7h0M537.0 833.7h0M539.1 833.7h0M541.2 833.7h0M543.7 833.7h0M545.8 746.5h0M548.5 716.9h0M551.1 737.7h0M553.5 801.3h0M555.9 802.5h0M558.0 803.4h0M560.1 804.4h0M562.2 805.4h0M564.3 806.3h0M566.4 807.1h0M568.5 807.9h0M570.5 808.6h0M572.6 809.3h0M574.7 809.8h0M576.8 810.3h0M578.9 810.8h0M581.0 811.3h0M583.1 811.8h0M585.2 812.3h0M587.3 812.8h0M589.4 813.2h0M591.5 813.7h0M593.6 814.1h0M595.7 814.5h0M597.8 814.9h0M599.9 815.2h0M602.0 815.6h0M604.1 815.9h0M606.1 816.2h0M608.2 816.4h0M610.3 816.6h0M612.4 816.8h0M614.5 817.0h0M616.6 817.1h0M618.7 817.2h0M621.2 817.2h0M624.3 833.7h0M627.1 833.7h0M629.2 833.7h0M631.3 833.7h0M633.4 833.7h0M635.5 833.7h0M637.6 833.7h0M639.7 833.7h0M641.7 833.7h0M643.8 833.7h0M645.9 833.7h0M648.0 833.7h0M650.1 833.7h0M652.2 833.7h0M654.3 833.7h0M656.4 833.7h0M658.5 833.7h0" stroke="#F8B81E" stroke-width="4.4" stroke-linecap="round" fill="none"/>
<path d="M407.2 678.3 409.3 678.5 411.4 678.6 413.5 678.8 415.6 678.9 417.7 679.1 419.8 679.3 421.9 679.4 424.0 679.6 426.0 679.7 428.1 679.9 430.2 680.0 432.3 680.2 434.4 680.4 436.5 680.5 438.6 680.7 440.7 680.8 442.8 681.0 444.9 681.1 447.0 681.3 449.1 681.5 451.2 681.6 453.3 681.8 455.4 681.9 457.5 682.1 459.6 682.3 461.6 682.4 463.7 682.6 465.8 682.7 467.9 682.9 470.0 683.0 472.1 683.2 474.2 683.4 476.3 683.5 478.4 683.7 480.5 683.8 482.6 684.0 484.7 684.1 486.8 684.3 488.9 684.5 491.0 684.6 493.1 684.8 495.2 684.9 497.2 685.1 499.3 685.2 501.4 685.4 503.5 685.6 505.6 685.7 507.7 685.9 509.8 686.0 511.9 686.2 514.0 686.3 516.9 686.6 519.7 770.9 521.6 833.7 524.5 833.7 526.6 833.7 528.7 833.7 530.8 833.7 532.9 833.7 534.9 833.7 537.0 833.7 539.1 833.7 541.2 833.7 544.4 833.7 545.8 733.1 547.5 689.0 549.6 689.3 551.7 689.6 553.8 689.9 555.9 690.2 558.0 690.5 560.1 690.8 562.2 691.1 564.3 691.4 566.4 691.6 568.5 691.9 570.5 692.2 572.6 692.5 575.5 692.9 577.4 725.9 579.7 781.4 581.0 781.7 583.1 782.1 585.2 782.6 587.3 783.0 589.4 783.5 591.5 784.0 593.6 784.4 595.7 784.9 598.3 785.5 601.3 783.7 603.6 820.3 605.2 833.7 608.2 833.7 610.3 833.7 612.4 833.7 614.5 833.7 616.6 833.7 618.7 833.7 620.8 833.7 622.9 833.7 625.0 833.7 627.1 833.7 629.2 833.7 631.3 833.7 633.4 833.7 635.5 833.7 637.6 833.7 639.7 833.7 641.7 833.7 643.8 833.7 645.9 833.7 648.0 833.7 650.1 833.7 652.2 833.7 654.3 833.7 656.4 833.7 658.5 833.7" stroke="#0F5A87" stroke-width="1.3" fill="none" stroke-linejoin="round"/>
<path d="M407.2 678.3h0M409.3 678.5h0M411.4 678.6h0M413.5 678.8h0M415.6 678.9h0M417.7 679.1h0M419.8 679.3h0M421.9 679.4h0M424.0 679.6h0M426.0 679.7h0M428.1 679.9h0M430.2 680.0h0M432.3 680.2h0M434.4 680.4h0M436.5 680.5h0M438.6 680.7h0M440.7 680.8h0M442.8 681.0h0M444.9 681.1h0M447.0 681.3h0M449.1 681.5h0M451.2 681.6h0M453.3 681.8h0M455.4 681.9h0M457.5 682.1h0M459.6 682.3h0M461.6 682.4h0M463.7 682.6h0M465.8 682.7h0M467.9 682.9h0M470.0 683.0h0M472.1 683.2h0M474.2 683.4h0M476.3 683.5h0M478.4 683.7h0M480.5 683.8h0M482.6 684.0h0M484.7 684.1h0M486.8 684.3h0M488.9 684.5h0M491.0 684.6h0M493.1 684.8h0M495.2 684.9h0M497.2 685.1h0M499.3 685.2h0M501.4 685.4h0M503.5 685.6h0M505.6 685.7h0M507.7 685.9h0M509.8 686.0h0M511.9 686.2h0M514.0 686.3h0M516.9 686.6h0M519.7 770.9h0M521.6 833.7h0M524.5 833.7h0M526.6 833.7h0M528.7 833.7h0M530.8 833.7h0M532.9 833.7h0M534.9 833.7h0M537.0 833.7h0M539.1 833.7h0M541.2 833.7h0M544.4 833.7h0M545.8 733.1h0M547.5 689.0h0M549.6 689.3h0M551.7 689.6h0M553.8 689.9h0M555.9 690.2h0M558.0 690.5h0M560.1 690.8h0M562.2 691.1h0M564.3 691.4h0M566.4 691.6h0M568.5 691.9h0M570.5 692.2h0M572.6 692.5h0M575.5 692.9h0M577.4 725.9h0M579.7 781.4h0M581.0 781.7h0M583.1 782.1h0M585.2 782.6h0M587.3 783.0h0M589.4 783.5h0M591.5 784.0h0M593.6 784.4h0M595.7 784.9h0M598.3 785.5h0M601.3 783.7h0M603.6 820.3h0M605.2 833.7h0M608.2 833.7h0M610.3 833.7h0M612.4 833.7h0M614.5 833.7h0M616.6 833.7h0M618.7 833.7h0M620.8 833.7h0M622.9 833.7h0M625.0 833.7h0M627.1 833.7h0M629.2 833.7h0M631.3 833.7h0M633.4 833.7h0M635.5 833.7h0M637.6 833.7h0M639.7 833.7h0M641.7 833.7h0M643.8 833.7h0M645.9 833.7h0M648.0 833.7h0M650.1 833.7h0M652.2 833.7h0M654.3 833.7h0M656.4 833.7h0M658.5 833.7h0" stroke="#0F5A87" stroke-width="4.4" stroke-linecap="round" fill="none"/>
<path d="M407.2 678.0 409.3 678.0 411.4 678.1 413.5 678.2 415.6 678.3 417.7 678.3 419.8 678.4 421.9 678.5 424.0 678.6 426.0 678.6 428.1 678.7 430.2 678.8 432.3 678.9 434.4 678.9 436.5 679.0 438.6 679.1 440.7 679.2 442.8 679.3 444.9 679.3 447.0 679.4 449.1 679.5 451.2 679.6 453.3 679.6 455.4 679.7 457.5 679.8 459.6 679.9 461.6 679.9 463.7 680.0 465.8 680.1 467.9 680.2 470.0 680.3 472.1 680.3 474.2 680.4 476.3 680.5 478.4 680.6 480.5 680.6 482.6 680.7 484.7 680.8 486.8 680.9 488.9 680.9 491.0 681.0 493.1 681.1 495.2 681.2 497.2 681.2 499.3 681.3 501.4 681.4 503.5 681.5 505.6 681.6 507.7 681.6 509.8 681.7 511.9 681.8 514.0 681.9 516.1 681.9 518.2 682.0 520.1 682.1 522.4 725.4 524.5 725.7 526.6 726.0 528.7 726.3 530.8 726.6 532.9 726.9 535.4 787.3 537.9 820.8 540.8 819.8 543.3 818.2 546.5 684.1 549.6 684.4 551.7 684.5 553.8 684.7 555.9 684.8 558.0 685.0 560.1 685.1 562.2 685.3 564.3 685.4 566.4 685.6 568.5 685.8 570.5 685.9 572.6 686.1 574.7 686.2 576.8 686.4 578.9 686.5 581.0 686.7 583.1 686.8 585.2 687.0 587.3 687.1 589.4 687.3 591.5 687.4 593.6 687.6 595.7 687.8 599.0 709.4 600.6 833.7 602.0 833.7 604.1 833.7 606.1 833.7 608.2 833.7 610.3 833.7 612.4 833.7 614.5 833.7 616.6 833.7 618.7 833.7 620.8 833.7 622.9 833.7 625.0 833.7 627.1 833.7 629.2 833.7 631.3 833.7 633.4 833.7 635.5 833.7 637.6 833.7 639.7 833.7 641.7 833.7 643.8 833.7 645.9 833.7 648.0 833.7 650.1 833.7 652.2 833.7 654.3 833.7 656.4 833.7 658.5 833.7" stroke="#EBA07A" stroke-width="1.3" fill="none" stroke-linejoin="round"/>
<path d="M407.2 678.0h0M409.3 678.0h0M411.4 678.1h0M413.5 678.2h0M415.6 678.3h0M417.7 678.3h0M419.8 678.4h0M421.9 678.5h0M424.0 678.6h0M426.0 678.6h0M428.1 678.7h0M430.2 678.8h0M432.3 678.9h0M434.4 678.9h0M436.5 679.0h0M438.6 679.1h0M440.7 679.2h0M442.8 679.3h0M444.9 679.3h0M447.0 679.4h0M449.1 679.5h0M451.2 679.6h0M453.3 679.6h0M455.4 679.7h0M457.5 679.8h0M459.6 679.9h0M461.6 679.9h0M463.7 680.0h0M465.8 680.1h0M467.9 680.2h0M470.0 680.3h0M472.1 680.3h0M474.2 680.4h0M476.3 680.5h0M478.4 680.6h0M480.5 680.6h0M482.6 680.7h0M484.7 680.8h0M486.8 680.9h0M488.9 680.9h0M491.0 681.0h0M493.1 681.1h0M495.2 681.2h0M497.2 681.2h0M499.3 681.3h0M501.4 681.4h0M503.5 681.5h0M505.6 681.6h0M507.7 681.6h0M509.8 681.7h0M511.9 681.8h0M514.0 681.9h0M516.1 681.9h0M518.2 682.0h0M520.1 682.1h0M522.4 725.4h0M524.5 725.7h0M526.6 726.0h0M528.7 726.3h0M530.8 726.6h0M532.9 726.9h0M535.4 787.3h0M537.9 820.8h0M540.8 819.8h0M543.3 818.2h0M546.5 684.1h0M549.6 684.4h0M551.7 684.5h0M553.8 684.7h0M555.9 684.8h0M558.0 685.0h0M560.1 685.1h0M562.2 685.3h0M564.3 685.4h0M566.4 685.6h0M568.5 685.8h0M570.5 685.9h0M572.6 686.1h0M574.7 686.2h0M576.8 686.4h0M578.9 686.5h0M581.0 686.7h0M583.1 686.8h0M585.2 687.0h0M587.3 687.1h0M589.4 687.3h0M591.5 687.4h0M593.6 687.6h0M595.7 687.8h0M599.0 709.4h0M600.6 833.7h0M602.0 833.7h0M604.1 833.7h0M606.1 833.7h0M608.2 833.7h0M610.3 833.7h0M612.4 833.7h0M614.5 833.7h0M616.6 833.7h0M618.7 833.7h0M620.8 833.7h0M622.9 833.7h0M625.0 833.7h0M627.1 833.7h0M629.2 833.7h0M631.3 833.7h0M633.4 833.7h0M635.5 833.7h0M637.6 833.7h0M639.7 833.7h0M641.7 833.7h0M643.8 833.7h0M645.9 833.7h0M648.0 833.7h0M650.1 833.7h0M652.2 833.7h0M654.3 833.7h0M656.4 833.7h0M658.5 833.7h0" stroke="#EBA07A" stroke-width="4.4" stroke-linecap="round" fill="none"/>
<path d="M407.2 677.3 409.3 677.4 411.4 677.4 413.5 677.5 415.6 677.6 417.7 677.7 419.8 677.7 421.9 677.8 424.0 677.9 426.0 678.0 428.1 678.0 430.2 678.1 432.3 678.2 434.4 678.3 436.5 678.4 438.6 678.4 440.7 678.5 442.8 678.6 444.9 678.7 447.0 678.7 449.1 678.8 451.2 678.9 453.3 679.0 455.4 679.0 457.5 679.1 459.6 679.2 461.6 679.3 463.7 679.4 465.8 679.4 467.9 679.5 470.0 679.6 472.1 679.7 474.2 679.7 476.3 679.8 478.4 679.9 480.5 680.0 482.6 680.0 484.7 680.1 486.8 680.2 488.9 680.3 491.0 680.3 493.1 680.4 495.2 680.5 497.2 680.6 499.3 680.7 501.4 680.7 503.5 680.8 505.6 680.9 507.7 681.0 509.8 681.0 511.9 681.1 514.0 681.2 516.1 681.3 518.2 681.3 520.1 681.4 522.4 724.6 524.5 724.7 526.6 724.7 528.7 724.8 530.8 724.8 532.9 724.8 534.9 724.9 537.0 724.9 539.1 725.0 541.2 725.0 543.3 725.1 545.4 725.1 546.7 725.1 548.0 681.8 549.6 681.9 551.7 682.1 553.8 682.3 555.9 682.5 558.0 682.6 560.1 682.8 562.2 683.0 564.3 683.1 566.4 683.3 568.5 683.5 570.5 683.6 572.6 683.8 574.7 684.0 576.8 684.1 578.9 684.3 581.0 684.5 583.1 684.7 585.2 684.8 587.3 685.0 589.4 685.2 591.5 685.3 593.6 685.5 596.0 685.7 598.3 822.1 599.5 833.7 602.0 833.7 604.1 833.7 606.1 833.7 608.2 833.7 610.3 833.7 612.4 833.7 614.5 833.7 616.6 833.7 618.7 833.7 620.8 833.7 622.9 833.7 625.0 833.7 627.1 833.7 629.2 833.7 631.3 833.7 633.4 833.7 635.5 833.7 637.6 833.7 639.7 833.7 641.7 833.7 643.8 833.7 645.9 833.7 648.0 833.7 650.1 833.7 652.2 833.7 654.3 833.7 656.4 833.7 658.5 833.7" stroke="#40B066" stroke-width="1.3" fill="none" stroke-linejoin="round"/>
<path d="M407.2 677.3h0M409.3 677.4h0M411.4 677.4h0M413.5 677.5h0M415.6 677.6h0M417.7 677.7h0M419.8 677.7h0M421.9 677.8h0M424.0 677.9h0M426.0 678.0h0M428.1 678.0h0M430.2 678.1h0M432.3 678.2h0M434.4 678.3h0M436.5 678.4h0M438.6 678.4h0M440.7 678.5h0M442.8 678.6h0M444.9 678.7h0M447.0 678.7h0M449.1 678.8h0M451.2 678.9h0M453.3 679.0h0M455.4 679.0h0M457.5 679.1h0M459.6 679.2h0M461.6 679.3h0M463.7 679.4h0M465.8 679.4h0M467.9 679.5h0M470.0 679.6h0M472.1 679.7h0M474.2 679.7h0M476.3 679.8h0M478.4 679.9h0M480.5 680.0h0M482.6 680.0h0M484.7 680.1h0M486.8 680.2h0M488.9 680.3h0M491.0 680.3h0M493.1 680.4h0M495.2 680.5h0M497.2 680.6h0M499.3 680.7h0M501.4 680.7h0M503.5 680.8h0M505.6 680.9h0M507.7 681.0h0M509.8 681.0h0M511.9 681.1h0M514.0 681.2h0M516.1 681.3h0M518.2 681.3h0M520.1 681.4h0M522.4 724.6h0M524.5 724.7h0M526.6 724.7h0M528.7 724.8h0M530.8 724.8h0M532.9 724.8h0M534.9 724.9h0M537.0 724.9h0M539.1 725.0h0M541.2 725.0h0M543.3 725.1h0M545.4 725.1h0M546.7 725.1h0M548.0 681.8h0M549.6 681.9h0M551.7 682.1h0M553.8 682.3h0M555.9 682.5h0M558.0 682.6h0M560.1 682.8h0M562.2 683.0h0M564.3 683.1h0M566.4 683.3h0M568.5 683.5h0M570.5 683.6h0M572.6 683.8h0M574.7 684.0h0M576.8 684.1h0M578.9 684.3h0M581.0 684.5h0M583.1 684.7h0M585.2 684.8h0M587.3 685.0h0M589.4 685.2h0M591.5 685.3h0M593.6 685.5h0M596.0 685.7h0M598.3 822.1h0M599.5 833.7h0M602.0 833.7h0M604.1 833.7h0M606.1 833.7h0M608.2 833.7h0M610.3 833.7h0M612.4 833.7h0M614.5 833.7h0M616.6 833.7h0M618.7 833.7h0M620.8 833.7h0M622.9 833.7h0M625.0 833.7h0M627.1 833.7h0M629.2 833.7h0M631.3 833.7h0M633.4 833.7h0M635.5 833.7h0M637.6 833.7h0M639.7 833.7h0M641.7 833.7h0M643.8 833.7h0M645.9 833.7h0M648.0 833.7h0M650.1 833.7h0M652.2 833.7h0M654.3 833.7h0M656.4 833.7h0M658.5 833.7h0" stroke="#40B066" stroke-width="4.4" stroke-linecap="round" fill="none"/>
<text x="394.2" y="838.0" font-size="12.5" text-anchor="end" fill="#404040" stroke="#404040" stroke-width="0.22">0.00</text>
<text x="394.2" y="812.2" font-size="12.5" text-anchor="end" fill="#404040" stroke="#404040" stroke-width="0.22">0.05</text>
<text x="394.2" y="786.4" font-size="12.5" text-anchor="end" fill="#404040" stroke="#404040" stroke-width="0.22">0.10</text>
<text x="394.2" y="760.6" font-size="12.5" text-anchor="end" fill="#404040" stroke="#404040" stroke-width="0.22">0.15</text>
<text x="394.2" y="734.8" font-size="12.5" text-anchor="end" fill="#404040" stroke="#404040" stroke-width="0.22">0.20</text>
<text x="394.2" y="709.0" font-size="12.5" text-anchor="end" fill="#404040" stroke="#404040" stroke-width="0.22">0.25</text>
<text x="394.2" y="683.2" font-size="12.5" text-anchor="end" fill="#404040" stroke="#404040" stroke-width="0.22">0.30</text>
<text x="394.2" y="657.5" font-size="12.5" text-anchor="end" fill="#404040" stroke="#404040" stroke-width="0.22">0.35</text>
<text x="407.2" y="851.5" font-size="12.5" text-anchor="middle" fill="#404040" stroke="#404040" stroke-width="0.22">0</text>
<text x="428.1" y="851.5" font-size="12.5" text-anchor="middle" fill="#404040" stroke="#404040" stroke-width="0.22">2</text>
<text x="449.1" y="851.5" font-size="12.5" text-anchor="middle" fill="#404040" stroke="#404040" stroke-width="0.22">4</text>
<text x="470.0" y="851.5" font-size="12.5" text-anchor="middle" fill="#404040" stroke="#404040" stroke-width="0.22">6</text>
<text x="491.0" y="851.5" font-size="12.5" text-anchor="middle" fill="#404040" stroke="#404040" stroke-width="0.22">8</text>
<text x="511.9" y="851.5" font-size="12.5" text-anchor="middle" fill="#404040" stroke="#404040" stroke-width="0.22">10</text>
<text x="532.9" y="851.5" font-size="12.5" text-anchor="middle" fill="#404040" stroke="#404040" stroke-width="0.22">12</text>
<text x="553.8" y="851.5" font-size="12.5" text-anchor="middle" fill="#404040" stroke="#404040" stroke-width="0.22">14</text>
<text x="574.7" y="851.5" font-size="12.5" text-anchor="middle" fill="#404040" stroke="#404040" stroke-width="0.22">16</text>
<text x="595.7" y="851.5" font-size="12.5" text-anchor="middle" fill="#404040" stroke="#404040" stroke-width="0.22">18</text>
<text x="616.6" y="851.5" font-size="12.5" text-anchor="middle" fill="#404040" stroke="#404040" stroke-width="0.22">20</text>
<text x="637.6" y="851.5" font-size="12.5" text-anchor="middle" fill="#404040" stroke="#404040" stroke-width="0.22">22</text>
<text x="658.5" y="851.5" font-size="12.5" text-anchor="middle" fill="#404040" stroke="#404040" stroke-width="0.22">24</text>
<text x="532.6" y="869.3" font-size="13.6" text-anchor="middle" fill="#404040" stroke="#404040" stroke-width="0.22">Distance (cm)</text>
<text transform="translate(368.6,745.7) rotate(-90) scale(0.96,1)" x="0" y="0" font-size="14.2" text-anchor="middle" fill="#404040" stroke="#404040" stroke-width="0.22">Unfrozen water content (m<tspan font-size="8.8" dy="-5.4">3</tspan><tspan dy="5.4">/m</tspan><tspan font-size="8.8" dy="-5.4">3</tspan><tspan dy="5.4">)</tspan></text>
<text x="471.5" y="893.3" font-size="18" fill="#303030">(f)</text>
<text x="507.8" y="893.3" font-size="18" fill="#303030">ice content</text>
<text x="465.0" y="913.8" font-size="18.15" fill="#303030">(brick+cement mortar)</text>
<path d="M412.4 636.5H426.4" stroke="#26A9DF" stroke-width="1.5"/>
<circle cx="419.4" cy="636.5" r="2.5" fill="#26A9DF"/>
<text x="427.9" y="640.7" font-size="12.3" fill="#404040" stroke="#404040" stroke-width="0.22">24h</text>
<path d="M450.8 636.5H464.8" stroke="#E86E32" stroke-width="1.5"/>
<circle cx="457.8" cy="636.5" r="2.5" fill="#E86E32"/>
<text x="466.3" y="640.7" font-size="12.3" fill="#404040" stroke="#404040" stroke-width="0.22">48h</text>
<path d="M488.8 636.5H502.8" stroke="#F8B81E" stroke-width="1.5"/>
<circle cx="495.8" cy="636.5" r="2.5" fill="#F8B81E"/>
<text x="504.3" y="640.7" font-size="12.3" fill="#404040" stroke="#404040" stroke-width="0.22">72h</text>
<path d="M528.5 636.5H542.5" stroke="#0F5A87" stroke-width="1.5"/>
<circle cx="535.5" cy="636.5" r="2.5" fill="#0F5A87"/>
<text x="544.0" y="640.7" font-size="12.3" fill="#404040" stroke="#404040" stroke-width="0.22">240h</text>
<path d="M573.8 636.5H587.8" stroke="#EBA07A" stroke-width="1.5"/>
<circle cx="580.8" cy="636.5" r="2.5" fill="#EBA07A"/>
<text x="589.3" y="640.7" font-size="12.3" fill="#404040" stroke="#404040" stroke-width="0.22">480h</text>
<path d="M618.4 636.5H632.4" stroke="#40B066" stroke-width="1.5"/>
<circle cx="625.4" cy="636.5" r="2.5" fill="#40B066"/>
<text x="633.9" y="640.7" font-size="12.3" fill="#404040" stroke="#404040" stroke-width="0.22">720h</text>
</g>
</svg></body></html>
